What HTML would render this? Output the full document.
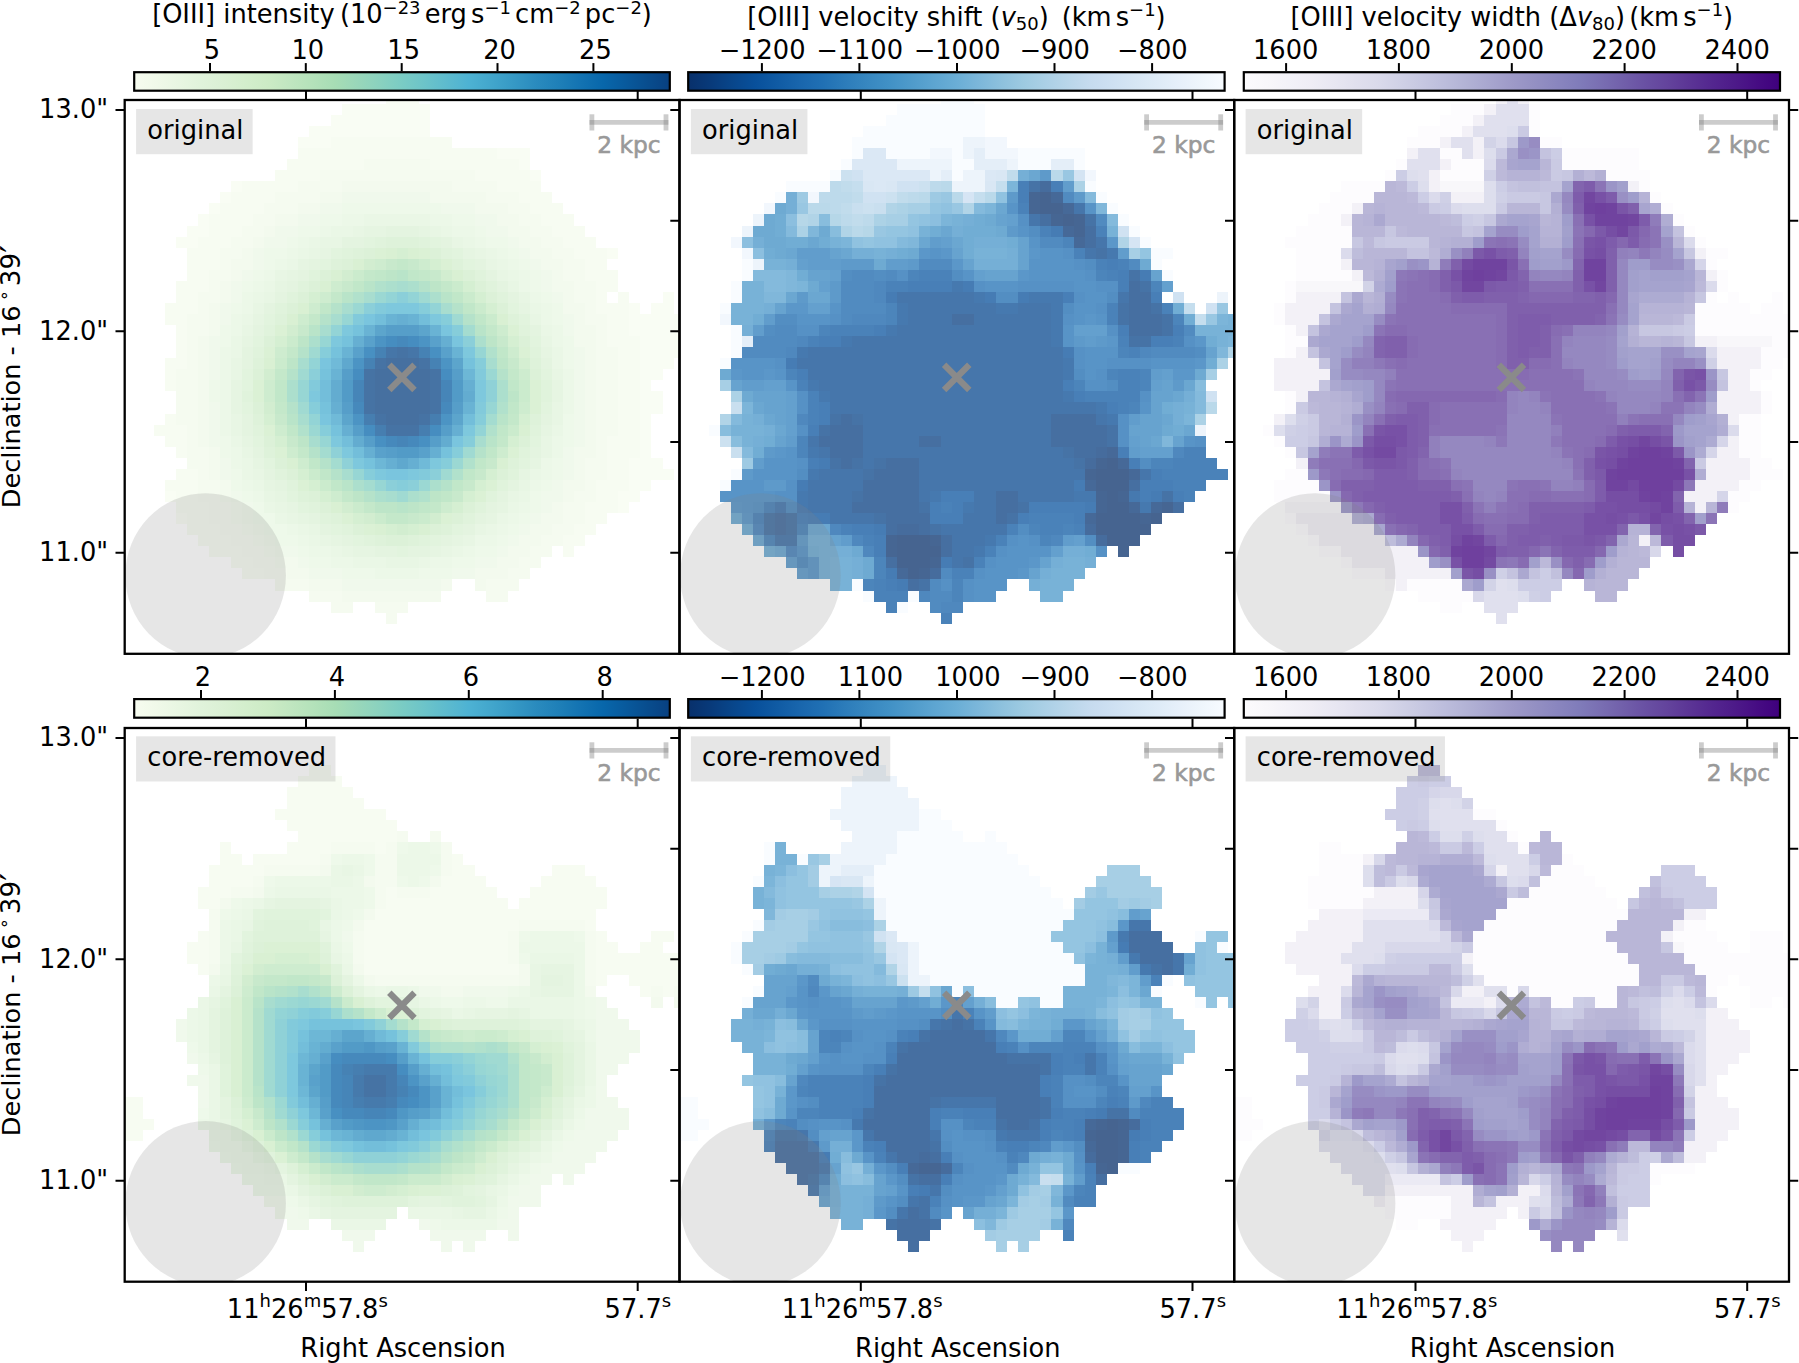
<!DOCTYPE html><html><head><meta charset="utf-8"><title>OIII maps</title><style>html,body{margin:0;padding:0;background:#fff}svg{display:block}</style></head><body><svg width="1799" height="1363" viewBox="0 0 1799 1363" font-family="'DejaVu Sans','Liberation Sans',sans-serif" font-size="26">
<rect width="1799" height="1363" fill="#fff"/>
<g shape-rendering="crispEdges">
<path fill="#f9fdf4" d="M386 100H419V104H386zM342 104H430V115H342zM331 115H430V126H331zM309 126H430V137H309zM298 137H331V148H298zM497 148H530V159H497zM519 159H530V170H519zM530 170H541V181H530zM231 181H242V192H231zM220 192H231V203H220zM209 203H220V214H209zM198 214H209V226H198zM187 226H209V237H187zM176 237H198V248H176zM607 248H618V259H607zM663 292H674V303H663zM629 303H640V314H629zM651 303H674V314H651zM629 314H680V325H629zM629 325H680V336H629zM640 336H680V347H640zM640 347H680V358H640zM640 358H674V369H640zM640 369H663V380H640zM640 380H651V391H640zM640 391H663V402H640zM640 402H663V414H640zM640 414H651V425H640zM640 425H651V436H640zM640 436H651V447H640zM640 447H651V458H640zM629 458H663V469H629zM629 469H674V480H629zM629 480H651V491H629zM165 491H176V502H165zM618 491H640V502H618zM618 502H629V513H618zM176 513H187V524H176z"/>
<path fill="#f7fcf2" d="M331 137H452V148H331zM298 148H497V159H298zM287 159H364V170H287zM430 159H519V170H430zM275 170H320V181H275zM475 170H530V181H475zM242 181H298V192H242zM497 181H541V192H497zM231 192H275V203H231zM519 192H552V203H519zM220 203H264V214H220zM530 203H563V214H530zM209 214H253V226H209zM541 214H574V226H541zM209 226H242V237H209zM552 226H585V237H552zM198 237H231V248H198zM563 237H596V248H563zM187 248H220V259H187zM574 248H607V259H574zM187 259H220V270H187zM585 259H607V270H585zM187 270H209V281H187zM585 270H618V281H585zM176 281H209V292H176zM596 281H618V292H596zM176 292H198V303H176zM596 292H607V303H596zM618 292H629V303H618zM165 303H198V314H165zM596 303H629V314H596zM165 314H187V325H165zM607 314H629V325H607zM176 325H187V336H176zM607 325H629V336H607zM176 336H187V347H176zM607 336H640V347H607zM176 347H187V358H176zM618 347H640V358H618zM165 358H187V369H165zM618 358H640V369H618zM165 369H176V380H165zM618 369H640V380H618zM165 380H176V391H165zM618 380H640V391H618zM618 391H640V402H618zM618 402H640V414H618zM165 414H176V425H165zM618 414H640V425H618zM154 425H187V436H154zM618 425H640V436H618zM165 436H187V447H165zM607 436H640V447H607zM176 447H187V458H176zM607 447H640V458H607zM607 458H629V469H607zM176 469H198V480H176zM607 469H629V480H607zM165 480H198V491H165zM596 480H629V491H596zM176 491H198V502H176zM596 491H618V502H596zM176 502H209V513H176zM585 502H618V513H585zM187 513H209V524H187zM585 513H607V524H585zM187 524H220V535H187zM574 524H596V535H574zM198 535H231V546H198zM563 535H585V546H563zM209 546H242V557H209zM563 546H574V557H563zM231 557H253V568H231zM242 568H264V579H242z"/>
<path fill="#f5fbf0" d="M364 159H430V170H364zM320 170H475V181H320zM298 181H342V192H298zM452 181H497V192H452zM275 192H320V203H275zM486 192H519V203H486zM264 203H298V214H264zM508 203H530V214H508zM253 214H275V226H253zM519 214H541V226H519zM242 226H264V237H242zM530 226H552V237H530zM231 237H253V248H231zM541 237H563V248H541zM220 248H242V259H220zM552 248H574V259H552zM220 259H231V270H220zM563 259H585V270H563zM209 270H231V281H209zM563 270H585V281H563zM209 281H220V292H209zM574 281H596V292H574zM198 292H220V303H198zM574 292H596V303H574zM198 303H209V314H198zM585 303H596V314H585zM187 314H209V325H187zM585 314H607V325H585zM187 325H209V336H187zM596 325H607V336H596zM187 336H198V347H187zM596 336H607V347H596zM187 347H198V358H187zM596 347H618V358H596zM187 358H198V369H187zM596 358H618V369H596zM176 369H198V380H176zM596 369H618V380H596zM176 380H198V391H176zM596 380H618V391H596zM176 391H198V402H176zM596 391H618V402H596zM176 402H198V414H176zM596 402H618V414H596zM176 414H198V425H176zM596 414H618V425H596zM187 425H198V436H187zM596 425H618V436H596zM187 436H198V447H187zM596 436H607V447H596zM187 447H209V458H187zM596 447H607V458H596zM187 458H209V469H187zM585 458H607V469H585zM198 469H209V480H198zM585 469H607V480H585zM198 480H220V491H198zM585 480H596V491H585zM198 491H220V502H198zM574 491H596V502H574zM209 502H231V513H209zM563 502H585V513H563zM209 513H231V524H209zM563 513H585V524H563zM220 524H242V535H220zM552 524H574V535H552zM231 535H253V546H231zM541 535H563V546H541zM242 546H264V557H242zM530 546H552V557H530zM253 557H275V568H253zM519 557H541V568H519zM264 568H287V579H264zM508 568H530V579H508zM275 579H309V591H275zM486 579H519V591H486zM309 591H342V602H309zM486 591H508V602H486zM331 602H353V613H331zM375 602H408V613H375zM386 613H397V624H386z"/>
<path fill="#f3faee" d="M342 181H452V192H342zM320 192H342V203H320zM430 192H486V203H430zM298 203H320V214H298zM475 203H508V214H475zM275 214H298V226H275zM497 214H519V226H497zM264 226H275V237H264zM508 226H530V237H508zM253 237H264V248H253zM519 237H541V248H519zM242 248H253V259H242zM530 248H552V259H530zM231 259H253V270H231zM541 259H563V270H541zM231 270H242V281H231zM552 270H563V281H552zM220 281H231V292H220zM552 281H574V292H552zM220 292H231V303H220zM563 292H574V303H563zM209 303H220V314H209zM563 303H585V314H563zM209 314H220V325H209zM574 314H585V325H574zM209 325H220V336H209zM574 325H596V336H574zM198 336H209V347H198zM574 336H596V347H574zM198 347H209V358H198zM585 347H596V358H585zM198 358H209V369H198zM585 358H596V369H585zM198 369H209V380H198zM585 369H596V380H585zM198 380H209V391H198zM585 380H596V391H585zM198 391H209V402H198zM585 391H596V402H585zM198 402H209V414H198zM585 402H596V414H585zM198 414H209V425H198zM585 414H596V425H585zM198 425H209V436H198zM585 425H596V436H585zM198 436H209V447H198zM585 436H596V447H585zM209 447H220V458H209zM574 447H596V458H574zM209 458H220V469H209zM574 458H585V469H574zM209 469H220V480H209zM574 469H585V480H574zM220 480H231V491H220zM563 480H585V491H563zM220 491H231V502H220zM563 491H574V502H563zM231 502H242V513H231zM552 502H563V513H552zM231 513H242V524H231zM541 513H563V524H541zM242 524H253V535H242zM530 524H552V535H530zM253 535H264V546H253zM519 535H541V546H519zM264 546H275V557H264zM508 546H530V557H508zM275 557H298V568H275zM497 557H519V568H497zM287 568H309V579H287zM475 568H508V579H475zM309 579H342V591H309zM441 579H452V591H441zM475 579H486V591H475zM342 591H441V602H342z"/>
<path fill="#f0f9ec" d="M342 192H430V203H342zM320 203H342V214H320zM441 203H475V214H441zM298 214H320V226H298zM475 214H497V226H475zM275 226H298V237H275zM486 226H508V237H486zM264 237H287V248H264zM508 237H519V248H508zM253 248H264V259H253zM519 248H530V259H519zM253 259H264V270H253zM530 259H541V270H530zM242 270H253V281H242zM541 270H552V281H541zM231 281H242V292H231zM541 281H552V292H541zM231 292H242V303H231zM552 292H563V303H552zM220 303H231V314H220zM220 314H231V325H220zM563 314H574V325H563zM563 325H574V336H563zM209 336H220V347H209zM209 347H220V358H209zM574 347H585V358H574zM209 358H220V369H209zM574 358H585V369H574zM209 369H220V380H209zM574 369H585V380H574zM574 380H585V391H574zM574 391H585V402H574zM209 402H220V414H209zM574 402H585V414H574zM209 414H220V425H209zM574 414H585V425H574zM209 425H220V436H209zM574 425H585V436H574zM209 436H220V447H209zM574 436H585V447H574zM563 447H574V458H563zM220 458H231V469H220zM563 458H574V469H563zM220 469H231V480H220zM563 469H574V480H563zM552 480H563V491H552zM231 491H242V502H231zM541 491H563V502H541zM242 502H253V513H242zM541 502H552V513H541zM242 513H253V524H242zM530 513H541V524H530zM253 524H264V535H253zM519 524H530V535H519zM264 535H275V546H264zM508 535H519V546H508zM275 546H298V557H275zM497 546H508V557H497zM298 557H309V568H298zM475 557H497V568H475zM309 568H342V579H309zM452 568H475V579H452zM342 579H441V591H342z"/>
<path fill="#eef9ea" d="M342 203H441V214H342zM320 214H342V226H320zM452 214H475V226H452zM298 226H320V237H298zM475 226H486V237H475zM287 237H298V248H287zM486 237H508V248H486zM264 248H287V259H264zM508 248H519V259H508zM264 259H275V270H264zM519 259H530V270H519zM253 270H264V281H253zM530 270H541V281H530zM242 281H253V292H242zM530 281H541V292H530zM541 292H552V303H541zM231 303H242V314H231zM552 303H563V314H552zM552 314H563V325H552zM220 325H231V336H220zM220 336H231V347H220zM563 336H574V347H563zM563 347H574V358H563zM563 358H574V369H563zM209 380H220V391H209zM209 391H220V402H209zM563 414H574V425H563zM563 425H574V436H563zM220 436H231V447H220zM563 436H574V447H563zM220 447H231V458H220zM552 458H563V469H552zM231 469H242V480H231zM552 469H563V480H552zM231 480H242V491H231zM541 480H552V491H541zM242 491H253V502H242zM530 491H541V502H530zM253 502H264V513H253zM530 502H541V513H530zM253 513H275V524H253zM519 513H530V524H519zM264 524H287V535H264zM508 524H519V535H508zM275 535H298V546H275zM497 535H508V546H497zM298 546H309V557H298zM475 546H497V557H475zM309 557H331V568H309zM452 557H475V568H452zM342 568H375V579H342zM419 568H452V579H419z"/>
<path fill="#ecf8e8" d="M342 214H364V226H342zM430 214H452V226H430zM320 226H331V237H320zM452 226H475V237H452zM298 237H309V248H298zM475 237H486V248H475zM287 248H298V259H287zM497 248H508V259H497zM275 259H287V270H275zM508 259H519V270H508zM264 270H275V281H264zM519 270H530V281H519zM253 281H264V292H253zM519 281H530V292H519zM242 292H253V303H242zM530 292H541V303H530zM242 303H253V314H242zM541 303H552V314H541zM231 314H242V325H231zM541 314H552V325H541zM231 325H242V336H231zM552 325H563V336H552zM552 336H563V347H552zM220 347H231V358H220zM220 358H231V369H220zM220 369H231V380H220zM563 369H574V380H563zM220 380H231V391H220zM563 380H574V391H563zM220 391H231V402H220zM563 391H574V402H563zM220 402H231V414H220zM563 402H574V414H563zM220 414H231V425H220zM220 425H231V436H220zM552 436H563V447H552zM231 447H242V458H231zM552 447H563V458H552zM231 458H242V469H231zM541 458H552V469H541zM541 469H552V480H541zM242 480H253V491H242zM530 480H541V491H530zM253 491H264V502H253zM519 502H530V513H519zM508 513H519V524H508zM287 524H298V535H287zM497 524H508V535H497zM298 535H309V546H298zM475 535H497V546H475zM309 546H331V557H309zM463 546H475V557H463zM331 557H353V568H331zM430 557H452V568H430zM375 568H419V579H375z"/>
<path fill="#eaf7e6" d="M364 214H430V226H364zM331 226H353V237H331zM441 226H452V237H441zM309 237H320V248H309zM463 237H475V248H463zM298 248H309V259H298zM486 248H497V259H486zM287 259H298V270H287zM497 259H508V270H497zM508 270H519V281H508zM264 281H275V292H264zM253 292H264V303H253zM530 303H541V314H530zM242 314H253V325H242zM541 325H552V336H541zM231 336H242V347H231zM231 347H242V358H231zM552 347H563V358H552zM552 358H563V369H552zM552 425H563V436H552zM231 436H242V447H231zM242 458H253V469H242zM242 469H253V480H242zM530 469H541V480H530zM253 480H264V491H253zM519 491H530V502H519zM264 502H275V513H264zM508 502H519V513H508zM275 513H287V524H275zM497 513H508V524H497zM298 524H309V535H298zM486 524H497V535H486zM309 535H320V546H309zM331 546H342V557H331zM452 546H463V557H452zM353 557H386V568H353zM419 557H430V568H419z"/>
<path fill="#e8f6e4" d="M353 226H364V237H353zM430 226H441V237H430zM320 237H342V248H320zM452 237H463V248H452zM309 248H320V259H309zM475 248H486V259H475zM486 259H497V270H486zM275 270H287V281H275zM497 270H508V281H497zM508 281H519V292H508zM264 292H275V303H264zM519 292H530V303H519zM253 303H264V314H253zM530 314H541V325H530zM242 325H253V336H242zM541 336H552V347H541zM231 358H242V369H231zM231 369H242V380H231zM552 369H563V380H552zM552 402H563V414H552zM231 414H242V425H231zM552 414H563V425H552zM231 425H242V436H231zM541 436H552V447H541zM242 447H253V458H242zM541 447H552V458H541zM253 469H264V480H253zM519 480H530V491H519zM264 491H275V502H264zM508 491H519V502H508zM275 502H287V513H275zM287 513H298V524H287zM309 524H320V535H309zM475 524H486V535H475zM320 535H331V546H320zM463 535H475V546H463zM342 546H353V557H342zM441 546H452V557H441zM386 557H419V568H386z"/>
<path fill="#e6f5e2" d="M364 226H386V237H364zM419 226H430V237H419zM320 248H331V259H320zM463 248H475V259H463zM298 259H309V270H298zM287 270H298V281H287zM275 281H287V292H275zM519 303H530V314H519zM253 314H264V325H253zM242 336H253V347H242zM541 347H552V358H541zM231 380H242V391H231zM552 380H563V391H552zM231 391H242V402H231zM552 391H563V402H552zM231 402H242V414H231zM541 425H552V436H541zM242 436H253V447H242zM253 458H264V469H253zM530 458H541V469H530zM519 469H530V480H519zM264 480H275V491H264zM275 491H287V502H275zM287 502H298V513H287zM497 502H508V513H497zM298 513H309V524H298zM486 513H497V524H486zM331 535H342V546H331zM452 535H463V546H452zM353 546H375V557H353zM430 546H441V557H430z"/>
<path fill="#e4f4e0" d="M386 226H419V237H386zM342 237H364V248H342zM441 237H452V248H441zM309 259H320V270H309zM475 259H486V270H475zM298 270H309V281H298zM486 270H497V281H486zM287 281H298V292H287zM497 281H508V292H497zM275 292H287V303H275zM508 292H519V303H508zM264 303H275V314H264zM253 325H264V336H253zM530 325H541V336H530zM242 347H253V358H242zM242 358H253V369H242zM541 358H552V369H541zM242 414H253V425H242zM541 414H552V425H541zM242 425H253V436H242zM253 447H264V458H253zM530 447H541V458H530zM264 469H275V480H264zM275 480H287V491H275zM508 480H519V491H508zM497 491H508V502H497zM486 502H497V513H486zM309 513H320V524H309zM475 513H486V524H475zM320 524H331V535H320zM463 524H475V535H463zM342 535H353V546H342zM441 535H452V546H441zM375 546H397V557H375zM408 546H430V557H408z"/>
<path fill="#e2f4de" d="M364 237H375V248H364zM430 237H441V248H430zM331 248H342V259H331zM452 248H463V259H452zM320 259H331V270H320zM463 259H475V270H463zM508 303H519V314H508zM264 314H275V325H264zM519 314H530V325H519zM253 336H264V347H253zM530 336H541V347H530zM242 369H253V380H242zM541 369H552V380H541zM242 380H253V391H242zM242 402H253V414H242zM541 402H552V414H541zM253 436H264V447H253zM530 436H541V447H530zM264 458H275V469H264zM519 458H530V469H519zM287 491H298V502H287zM298 502H309V513H298zM331 524H342V535H331zM452 524H463V535H452zM353 535H364V546H353zM430 535H441V546H430zM397 546H408V557H397z"/>
<path fill="#e0f3dc" d="M375 237H386V248H375zM419 237H430V248H419zM342 248H353V259H342zM441 248H452V259H441zM309 270H320V281H309zM475 270H486V281H475zM298 281H309V292H298zM486 281H497V292H486zM287 292H298V303H287zM497 292H508V303H497zM275 303H287V314H275zM264 325H275V336H264zM519 325H530V336H519zM253 347H264V358H253zM530 347H541V358H530zM541 380H552V391H541zM242 391H253V402H242zM541 391H552V402H541zM253 425H264V436H253zM530 425H541V436H530zM519 447H530V458H519zM275 469H287V480H275zM508 469H519V480H508zM287 480H298V491H287zM497 480H508V491H497zM486 491H497V502H486zM309 502H320V513H309zM475 502H486V513H475zM320 513H331V524H320zM463 513H475V524H463zM342 524H353V535H342zM364 535H375V546H364zM419 535H430V546H419z"/>
<path fill="#def2da" d="M386 237H419V248H386zM353 248H364V259H353zM331 259H342V270H331zM452 259H463V270H452zM275 314H287V325H275zM508 314H519V325H508zM253 358H264V369H253zM530 358H541V369H530zM253 414H264V425H253zM530 414H541V425H530zM264 447H275V458H264zM508 458H519V469H508zM298 491H309V502H298zM331 513H342V524H331zM441 524H452V535H441zM375 535H386V546H375zM408 535H419V546H408z"/>
<path fill="#dcf1d8" d="M364 248H375V259H364zM430 248H441V259H430zM342 259H353V270H342zM320 270H331V281H320zM463 270H475V281H463zM309 281H320V292H309zM475 281H486V292H475zM298 292H309V303H298zM486 292H497V303H486zM287 303H298V314H287zM497 303H508V314H497zM264 336H275V347H264zM519 336H530V347H519zM253 369H264V380H253zM530 369H541V380H530zM253 402H264V414H253zM264 436H275V447H264zM519 436H530V447H519zM275 458H287V469H275zM287 469H298V480H287zM497 469H508V480H497zM309 491H320V502H309zM320 502H331V513H320zM463 502H475V513H463zM452 513H463V524H452zM353 524H364V535H353zM430 524H441V535H430zM386 535H408V546H386z"/>
<path fill="#dbf1d5" d="M375 248H386V259H375zM419 248H430V259H419zM441 259H452V270H441zM275 325H287V336H275zM508 325H519V336H508zM264 347H275V358H264zM519 347H530V358H519zM253 380H264V391H253zM530 380H541V391H530zM253 391H264V402H253zM530 391H541V402H530zM530 402H541V414H530zM264 425H275V436H264zM275 447H287V458H275zM508 447H519V458H508zM298 480H309V491H298zM486 480H497V491H486zM475 491H486V502H475zM342 513H353V524H342zM441 513H452V524H441zM364 524H375V535H364z"/>
<path fill="#d9f0d3" d="M386 248H397V259H386zM408 248H419V259H408zM353 259H364V270H353zM331 270H342V281H331zM452 270H463V281H452zM320 281H331V292H320zM298 303H309V314H298zM287 314H298V325H287zM497 314H508V325H497zM264 358H275V369H264zM519 425H530V436H519zM287 458H298V469H287zM497 458H508V469H497zM331 502H342V513H331zM375 524H386V535H375zM419 524H430V535H419z"/>
<path fill="#d5efd2" d="M397 248H408V259H397zM430 259H441V270H430zM463 281H475V292H463zM309 292H320V303H309zM475 292H486V303H475zM486 303H497V314H486zM275 336H287V347H275zM508 336H519V347H508zM519 358H530V369H519zM264 414H275V425H264zM519 414H530V425H519zM275 436H287V447H275zM508 436H519V447H508zM298 469H309V480H298zM486 469H497V480H486zM309 480H320V491H309zM475 480H486V491H475zM320 491H331V502H320zM463 491H475V502H463zM452 502H463V513H452zM353 513H364V524H353zM386 524H397V535H386zM408 524H419V535H408z"/>
<path fill="#d2edd0" d="M364 259H375V270H364zM342 270H353V281H342zM441 270H452V281H441zM287 325H298V336H287zM264 369H275V380H264zM264 402H275V414H264zM342 502H353V513H342zM364 513H375V524H364zM430 513H441V524H430zM397 524H408V535H397z"/>
<path fill="#ceeccf" d="M375 259H386V270H375zM419 259H430V270H419zM331 281H342V292H331zM320 292H331V303H320zM309 303H320V314H309zM298 314H309V325H298zM497 325H508V336H497zM275 347H287V358H275zM508 347H519V358H508zM519 369H530V380H519zM264 380H275V391H264zM264 391H275V402H264zM519 402H530V414H519zM275 425H287V436H275zM287 447H298V458H287zM497 447H508V458H497zM298 458H309V469H298zM331 491H342V502H331zM441 502H452V513H441z"/>
<path fill="#c8e9cc" d="M386 259H397V270H386zM408 259H419V270H408zM430 270H441V281H430zM342 281H353V292H342zM298 325H309V336H298zM497 336H508V347H497zM508 358H519V369H508zM275 414H287V425H275zM287 436H298V447H287zM486 458H497V469H486zM475 469H486V480H475zM463 480H475V491H463zM452 491H463V502H452zM408 513H419V524H408z"/>
<path fill="#c4e8ca" d="M397 259H408V270H397zM364 270H375V281H364zM419 270H430V281H419zM441 281H452V292H441zM331 292H342V303H331zM309 314H320V325H309zM486 325H497V336H486zM287 347H298V358H287zM275 369H287V380H275zM508 369H519V380H508zM275 402H287V414H275zM508 414H519V425H508zM497 436H508V447H497zM298 447H309V458H298zM342 491H353V502H342zM364 502H375V513H364zM430 502H441V513H430zM386 513H408V524H386z"/>
<path fill="#cbebcd" d="M353 270H364V281H353zM452 281H463V292H452zM463 292H475V303H463zM475 303H486V314H475zM486 314H497V325H486zM287 336H298V347H287zM275 358H287V369H275zM519 380H530V391H519zM519 391H530V402H519zM508 425H519V436H508zM309 469H320V480H309zM320 480H331V491H320zM353 502H364V513H353zM375 513H386V524H375zM419 513H430V524H419z"/>
<path fill="#c1e7c9" d="M375 270H386V281H375zM408 270H419V281H408zM353 281H364V292H353zM452 292H463V303H452zM320 303H331V314H320zM463 303H475V314H463zM475 314H486V325H475zM497 347H508V358H497zM275 380H287V391H275zM508 380H519V391H508zM275 391H287V402H275zM508 402H519V414H508zM287 425H298V436H287zM497 425H508V436H497zM486 447H497V458H486zM309 458H320V469H309zM475 458H486V469H475zM320 469H331V480H320zM463 469H475V480H463zM331 480H342V491H331zM452 480H463V491H452zM441 491H452V502H441zM419 502H430V513H419z"/>
<path fill="#bde5c8" d="M386 270H397V281H386zM430 281H441V292H430zM298 336H309V347H298zM486 336H497V347H486zM287 358H298V369H287zM497 358H508V369H497zM508 391H519V402H508zM298 436H309V447H298zM353 491H364V502H353zM430 491H441V502H430zM375 502H397V513H375zM408 502H419V513H408z"/>
<path fill="#b9e4c9" d="M397 270H408V281H397zM364 281H375V292H364zM342 292H353V303H342zM441 292H452V303H441zM309 325H320V336H309zM475 325H486V336H475zM287 414H298V425H287zM497 414H508V425H497zM486 436H497V447H486zM342 480H353V491H342zM397 502H408V513H397z"/>
<path fill="#b1e1cc" d="M375 281H386V292H375zM353 292H364V303H353zM486 347H497V358H486zM497 402H508V414H497zM298 425H309V436H298zM486 425H497V436H486zM463 458H475V469H463zM452 469H463V480H452zM419 491H430V502H419z"/>
<path fill="#acdfcd" d="M386 281H397V292H386zM408 281H419V292H408zM430 292H441V303H430zM309 336H320V347H309zM475 336H486V347H475zM287 380H298V391H287zM497 380H508V391H497zM287 391H298V402H287zM497 391H508V402H497zM353 480H364V491H353zM430 480H441V491H430zM375 491H386V502H375zM408 491H419V502H408z"/>
<path fill="#a8ddcf" d="M397 281H408V292H397zM364 292H375V303H364zM342 303H353V314H342zM441 303H452V314H441zM331 314H342V325H331zM320 325H331V336H320zM298 358H309V369H298zM486 358H497V369H486zM298 414H309V425H298zM309 436H320V447H309zM475 436H486V447H475zM342 469H353V480H342zM386 491H397V502H386z"/>
<path fill="#b5e2ca" d="M419 281H430V292H419zM331 303H342V314H331zM452 303H463V314H452zM320 314H331V325H320zM463 314H475V325H463zM298 347H309V358H298zM287 369H298V380H287zM497 369H508V380H497zM287 402H298V414H287zM309 447H320V458H309zM475 447H486V458H475zM320 458H331V469H320zM331 469H342V480H331zM441 480H452V491H441zM364 491H375V502H364z"/>
<path fill="#9bd8d3" d="M375 292H386V303H375zM353 303H364V314H353zM486 369H497V380H486zM309 425H320V436H309zM452 458H463V469H452zM419 480H430V491H419z"/>
<path fill="#93d4d6" d="M386 292H397V303H386zM408 292H419V303H408zM430 303H441V314H430zM331 325H342V336H331zM309 358H320V369H309zM309 414H320V425H309zM475 425H486V436H475z"/>
<path fill="#8bcfd9" d="M397 292H408V303H397zM364 303H375V314H364zM463 336H475V347H463zM309 369H320V380H309zM430 469H441V480H430zM386 480H397V491H386zM408 480H419V491H408z"/>
<path fill="#a0dad2" d="M419 292H430V303H419zM452 314H463V325H452zM309 347H320V358H309zM298 369H309V380H298zM298 402H309V414H298zM463 447H475V458H463zM441 469H452V480H441zM397 491H408V502H397z"/>
<path fill="#82cadb" d="M375 303H386V314H375zM353 314H364V325H353zM475 369H486V380H475zM309 380H320V391H309zM475 402H486V414H475zM419 469H430V480H419z"/>
<path fill="#7ec8dd" d="M386 303H419V314H386zM430 314H441V325H430zM342 325H353V336H342zM331 336H342V347H331zM463 347H475V358H463zM475 380H486V391H475zM309 391H320V402H309zM475 391H486V402H475zM463 425H475V436H463zM331 436H342V447H331zM342 447H353V458H342zM353 458H364V469H353zM430 458H441V469H430zM375 469H386V480H375zM408 469H419V480H408z"/>
<path fill="#86cdda" d="M419 303H430V314H419zM441 314H452V325H441zM452 325H463V336H452zM320 347H331V358H320zM475 358H486V369H475zM309 402H320V414H309zM475 414H486V425H475zM320 425H331V436H320zM463 436H475V447H463zM452 447H463V458H452zM441 458H452V469H441zM364 469H375V480H364zM397 480H408V491H397z"/>
<path fill="#97d6d4" d="M342 314H353V325H342zM320 336H331V347H320zM475 347H486V358H475zM298 380H309V391H298zM298 391H309V402H298zM486 402H497V414H486zM320 436H331V447H320zM353 469H364V480H353zM375 480H386V491H375z"/>
<path fill="#7ac5de" d="M364 314H375V325H364zM441 325H452V336H441zM452 336H463V347H452zM320 358H331V369H320zM320 414H331V425H320zM452 436H463V447H452zM386 469H408V480H386z"/>
<path fill="#73beda" d="M375 314H386V325H375zM419 314H430V325H419zM320 380H331V391H320zM320 391H331V402H320zM463 414H475V425H463zM342 436H353V447H342zM353 447H364V458H353z"/>
<path fill="#69b3d4" d="M386 314H397V325H386zM408 314H419V325H408zM364 325H375V336H364zM430 325H441V336H430zM342 347H353V358H342zM452 347H463V358H452zM331 369H342V380H331zM463 402H475V414H463z"/>
<path fill="#66afd2" d="M397 314H408V325H397zM353 336H364V347H353zM441 336H452V347H441zM463 380H475V391H463zM331 402H342V414H331zM342 425H353V436H342zM452 425H463V436H452zM364 447H375V458H364zM430 447H441V458H430zM386 458H397V469H386zM408 458H419V469H408z"/>
<path fill="#76c2dc" d="M353 325H364V336H353zM342 336H353V347H342zM331 347H342V358H331zM463 358H475V369H463zM320 369H331V380H320zM320 402H331V414H320zM331 425H342V436H331zM441 447H452V458H441zM364 458H375V469H364z"/>
<path fill="#5ca5cc" d="M375 325H386V336H375zM419 325H430V336H419zM452 358H463V369H452zM342 414H353V425H342zM452 414H463V425H452z"/>
<path fill="#569ec9" d="M386 325H419V336H386zM342 369H353V380H342zM452 369H463V380H452zM342 402H353V414H342zM452 402H463V414H452zM353 425H364V436H353zM441 425H452V436H441zM364 436H375V447H364zM430 436H441V447H430zM386 447H397V458H386z"/>
<path fill="#a4dcd0" d="M463 325H475V336H463zM486 414H497V425H486zM320 447H331V458H320zM331 458H342V469H331zM364 480H375V491H364z"/>
<path fill="#59a1cb" d="M364 336H375V347H364zM430 336H441V347H430zM353 347H364V358H353zM441 347H452V358H441zM375 447H386V458H375zM419 447H430V458H419z"/>
<path fill="#4c94c4" d="M375 336H386V347H375zM419 336H430V347H419zM353 358H364V369H353zM441 358H452V369H441zM353 414H364V425H353zM441 414H452V425H441z"/>
<path fill="#468dc0" d="M386 336H397V347H386zM408 336H419V347H408zM353 369H364V380H353zM441 369H452V380H441zM364 425H375V436H364zM430 425H441V436H430z"/>
<path fill="#4689bc" d="M397 336H408V347H397zM353 402H364V414H353zM441 402H452V414H441zM386 436H397V447H386zM408 436H419V447H408z"/>
<path fill="#4890c2" d="M364 347H375V358H364zM430 347H441V358H430zM375 436H386V447H375zM419 436H430V447H419z"/>
<path fill="#4682b4" d="M375 347H386V358H375zM419 347H430V358H419zM364 358H375V369H364zM430 358H441V369H430z"/>
<path fill="#4676a8" d="M386 347H397V358H386zM408 347H419V358H408z"/>
<path fill="#4673a4" d="M397 347H408V358H397zM375 358H386V369H375zM419 358H430V369H419zM364 369H375V380H364zM430 369H441V380H430zM364 380H375V391H364zM430 380H441V391H430zM364 391H375V402H364zM430 391H441V402H430zM364 402H375V414H364zM430 402H441V414H430zM375 414H386V425H375zM419 414H430V425H419zM386 425H419V436H386z"/>
<path fill="#70bad8" d="M331 358H342V369H331zM331 414H342V425H331zM419 458H430V469H419z"/>
<path fill="#5fa8ce" d="M342 358H353V369H342zM397 458H408V469H397z"/>
<path fill="#4670a0" d="M386 358H419V369H386zM375 369H430V380H375zM375 380H430V391H375zM375 391H430V402H375zM375 402H430V414H375zM386 414H419V425H386z"/>
<path fill="#6db7d6" d="M463 369H475V380H463zM375 458H386V469H375z"/>
<path fill="#63acd0" d="M331 380H342V391H331zM331 391H342V402H331zM463 391H475V402H463zM353 436H364V447H353zM441 436H452V447H441z"/>
<path fill="#529bc7" d="M342 380H353V391H342zM452 380H463V391H452zM342 391H353V402H342zM452 391H463V402H452zM397 447H419V458H397z"/>
<path fill="#4685b8" d="M353 380H364V391H353zM441 380H452V391H441zM353 391H364V402H353zM441 391H452V402H441zM397 436H408V447H397z"/>
<path fill="#8fd1d7" d="M486 380H497V391H486zM486 391H497V402H486zM331 447H342V458H331zM342 458H353V469H342z"/>
<path fill="#467eb0" d="M364 414H375V425H364zM430 414H441V425H430zM375 425H386V436H375zM419 425H430V436H419z"/>
</g>
<g shape-rendering="crispEdges">
<path fill="#f9fcff" d="M941 100H974V104H941zM897 104H985V115H897zM886 115H985V126H886zM863 126H985V137H863zM852 137H963V148H852zM852 148H863V159H852zM886 148H930V159H886zM952 148H963V159H952zM1018 148H1085V159H1018zM841 159H852V170H841zM952 159H974V170H952zM1018 159H1051V170H1018zM1074 159H1085V170H1074zM830 170H841V181H830zM952 170H963V181H952zM786 181H830V192H786zM1085 181H1096V192H1085zM775 192H786V203H775zM1096 192H1107V203H1096zM1107 203H1118V214H1107zM1118 214H1129V226H1118zM1129 226H1140V237H1129zM1140 237H1151V248H1140zM1151 248H1173V259H1151zM742 259H753V270H742zM1151 259H1162V270H1151zM742 270H753V281H742zM1162 270H1173V281H1162zM731 281H742V292H731zM731 292H742V303H731zM720 303H731V314H720zM731 325H742V336H731zM731 336H742V347H731zM731 347H742V358H731zM720 358H731V369H720zM709 425H720V436H709zM731 469H742V480H731zM720 480H731V491H720zM852 579H863V591H852zM863 591H874V602H863zM908 591H919V602H908zM897 602H908V613H897z"/>
<path fill="#edf4fb" d="M963 137H985V148H963zM963 148H974V159H963zM897 159H952V170H897zM1007 159H1018V170H1007zM930 170H941V181H930zM963 170H985V181H963zM952 181H985V192H952zM753 214H764V226H753zM742 226H753V237H742zM753 259H764V270H753zM1217 292H1228V303H1217zM1195 425H1206V436H1195z"/>
<path fill="#f2f7fd" d="M985 137H1007V148H985zM930 148H952V159H930zM985 148H1018V159H985zM1085 170H1096V181H1085zM808 192H819V203H808zM764 203H775V214H764zM731 237H742V248H731zM742 248H753V259H742zM720 314H731V325H720z"/>
<path fill="#dbe8f5" d="M863 148H886V159H863zM852 159H897V170H852zM863 170H930V181H863zM985 170H996V181H985zM874 181H886V192H874z"/>
<path fill="#e4eef8" d="M974 148H985V159H974zM974 159H1007V170H974zM1051 159H1074V170H1051zM941 170H952V181H941zM742 336H753V347H742z"/>
<path fill="#cce1f0" d="M841 170H852V181H841zM919 181H930V192H919zM886 192H897V203H886zM863 203H874V214H863zM720 436H731V447H720z"/>
<path fill="#d0e2f2" d="M852 170H863V181H852zM897 181H919V192H897zM863 192H886V203H863zM1118 226H1129V237H1118zM1173 292H1184V303H1173zM1206 303H1217V314H1206zM1206 391H1217V402H1206z"/>
<path fill="#d9e7f4" d="M996 170H1007V181H996zM863 181H874V192H863zM886 181H897V192H886zM985 181H996V192H985z"/>
<path fill="#c1dcec" d="M1007 170H1018V181H1007zM841 181H852V192H841zM852 192H863V203H852zM897 192H908V203H897zM841 203H852V214H841zM852 214H863V226H852z"/>
<path fill="#75afd6" d="M1018 170H1029V181H1018zM786 192H797V203H786zM786 203H797V214H786zM963 214H974V226H963zM952 226H963V237H952zM753 237H764V248H753zM974 237H1007V248H974zM852 248H874V259H852zM886 248H897V259H886zM1007 248H1018V259H1007zM786 259H797V270H786zM974 259H1018V270H974zM764 303H775V314H764zM742 325H753V336H742zM1184 391H1195V402H1184zM1173 402H1184V414H1173zM753 414H764V425H753zM1173 414H1184V425H1173zM764 425H775V436H764zM753 436H764V447H753zM808 535H830V546H808zM819 546H852V557H819zM1063 546H1085V557H1063zM819 557H830V568H819zM852 557H863V568H852zM1051 557H1063V568H1051zM1085 557H1096V568H1085zM819 568H830V579H819zM852 568H863V579H852zM1040 568H1051V579H1040zM1029 579H1040V591H1029z"/>
<path fill="#6ba7d1" d="M1029 170H1040V181H1029zM996 203H1007V214H996zM941 226H952V237H941zM808 237H819V248H808zM919 237H930V248H919zM952 237H963V248H952zM786 248H797V259H786zM841 248H852V259H841zM786 292H797V303H786zM808 292H830V303H808zM1184 380H1195V391H1184zM1173 391H1184V402H1173zM753 402H764V414H753zM764 414H775V425H764zM1162 414H1173V425H1162zM775 425H786V436H775zM1184 425H1195V436H1184zM1151 436H1162V447H1151zM808 524H830V535H808zM753 535H764V546H753zM775 546H786V557H775z"/>
<path fill="#5e9aca" d="M1040 170H1051V181H1040zM1007 192H1018V203H1007zM1074 192H1085V203H1074zM1007 226H1018V237H1007zM841 259H874V270H841zM908 259H919V270H908zM830 281H841V292H830zM797 292H808V303H797zM830 292H841V303H830zM1074 336H1085V347H1074zM1096 336H1107V347H1096zM1173 380H1184V391H1173zM764 447H775V458H764zM742 469H753V480H742zM764 480H786V491H764zM797 535H808V546H797z"/>
<path fill="#bad9ea" d="M1051 170H1063V181H1051zM941 181H952V192H941zM919 192H930V203H919zM952 192H963V203H952zM985 192H996V203H985zM808 203H830V214H808zM852 226H863V237H852zM1206 402H1217V414H1206z"/>
<path fill="#99c7e2" d="M1063 170H1074V181H1063zM941 192H952V203H941zM797 203H808V214H797zM952 203H963V214H952zM874 226H886V237H874zM1217 303H1228V314H1217zM1206 314H1217V325H1206z"/>
<path fill="#d4e4f3" d="M1074 170H1085V181H1074z"/>
<path fill="#bddaeb" d="M830 181H841V192H830zM930 181H941V192H930zM819 192H852V203H819zM908 192H919V203H908zM830 203H841V214H830zM841 214H852V226H841zM863 214H874V226H863z"/>
<path fill="#c5deee" d="M852 181H863V192H852zM996 181H1007V192H996zM974 192H985V203H974zM1184 303H1195V314H1184zM1195 314H1206V325H1195z"/>
<path fill="#7cb5d9" d="M1007 181H1018V192H1007zM985 203H996V214H985zM941 214H952V226H941zM841 237H852V248H841zM797 281H808V292H797zM1217 314H1228V325H1217zM1228 336H1234V347H1228zM742 402H753V414H742zM1184 414H1195V425H1184z"/>
<path fill="#487fb7" d="M1018 181H1029V192H1018zM1051 181H1063V192H1051zM1018 192H1029V203H1018zM1107 259H1118V270H1107zM1118 270H1129V281H1118zM908 281H952V292H908zM1118 281H1129V292H1118zM1063 292H1074V303H1063zM1151 292H1162V303H1151zM874 325H886V336H874zM1118 325H1129V336H1118zM1173 325H1184V336H1173zM819 336H841V347H819zM1151 336H1173V347H1151zM797 369H808V380H797zM1063 380H1074V391H1063zM1074 391H1085V402H1074zM819 402H830V414H819zM1107 402H1118V414H1107zM819 414H830V425H819zM808 425H819V436H808zM1118 447H1129V458H1118zM808 458H819V469H808zM1129 458H1140V469H1129zM1151 469H1162V480H1151zM1140 480H1173V491H1140zM941 491H974V502H941zM1140 491H1151V502H1140zM1173 491H1184V502H1173zM930 502H941V513H930zM952 502H963V513H952zM1029 502H1085V513H1029zM797 513H808V524H797zM930 513H963V524H930zM1018 513H1029V524H1018zM1074 513H1085V524H1074zM852 524H874V535H852zM874 535H886V546H874zM874 546H886V557H874zM886 579H897V591H886z"/>
<path fill="#4673a6" d="M1029 181H1040V192H1029zM1085 214H1096V226H1085zM1096 248H1107V259H1096zM1129 270H1140V281H1129zM1140 281H1151V292H1140zM1118 303H1129V314H1118zM1151 303H1162V314H1151zM1118 314H1129V325H1118zM1162 314H1173V325H1162zM1162 325H1173V336H1162zM1129 336H1151V347H1129zM830 414H841V425H830zM852 414H863V425H852zM819 425H830V436H819zM1107 425H1118V436H1107zM1107 436H1118V447H1107zM1063 447H1074V458H1063zM830 458H841V469H830zM852 458H863V469H852zM874 458H886V469H874zM1074 458H1085V469H1074zM863 469H874V480H863zM852 491H863V502H852zM1162 491H1173V502H1162zM919 502H930V513H919zM1018 502H1029V513H1018zM764 513H775V524H764zM786 513H797V524H786zM874 513H886V524H874zM1007 513H1018V524H1007zM764 524H775V535H764zM786 524H797V535H786zM930 524H941V535H930zM963 557H974V568H963zM919 579H930V591H919z"/>
<path fill="#466c9d" d="M1040 181H1051V192H1040zM1096 447H1107V458H1096zM1085 458H1096V469H1085zM897 524H919V535H897zM1085 524H1096V535H1085zM1096 535H1107V546H1096zM930 568H941V579H930z"/>
<path fill="#619dcc" d="M1063 181H1074V192H1063zM930 237H941V248H930zM797 248H830V259H797zM1118 248H1129V259H1118zM808 259H841V270H808zM886 259H908V270H886zM764 314H775V325H764zM753 325H764V336H753zM1085 336H1096V347H1085zM1151 369H1162V380H1151zM742 380H764V391H742zM1129 414H1140V425H1129zM786 436H797V447H786zM1129 447H1140V458H1129zM753 458H764V469H753zM841 535H852V546H841zM1063 535H1074V546H1063zM786 557H797V568H786zM797 568H808V579H797z"/>
<path fill="#acd2e6" d="M1074 181H1085V192H1074zM897 203H908V214H897zM874 214H886V226H874zM797 226H808V237H797zM1217 358H1228V369H1217zM731 391H742V402H731zM1195 414H1206V425H1195z"/>
<path fill="#9ecae3" d="M797 192H808V203H797zM930 192H941V203H930zM742 458H753V469H742z"/>
<path fill="#d6e5f4" d="M963 192H974V203H963zM1129 237H1140V248H1129z"/>
<path fill="#90c2e0" d="M996 192H1007V203H996zM941 203H952V214H941zM919 214H930V226H919zM908 226H919V237H908zM852 237H863V248H852zM874 237H897V248H874z"/>
<path fill="#466693" d="M1029 192H1040V203H1029zM1029 203H1040V214H1029zM1051 214H1063V226H1051zM1074 214H1085V226H1074zM1074 226H1085V237H1074zM1096 458H1107V469H1096zM1085 469H1096V480H1085zM1096 491H1107V502H1096zM1118 491H1129V502H1118zM1096 502H1107V513H1096zM1162 502H1173V513H1162zM1140 513H1151V524H1140zM886 535H897V546H886zM930 535H941V546H930zM886 546H897V557H886zM930 557H941V568H930zM919 568H930V579H919z"/>
<path fill="#466490" d="M1040 192H1051V203H1040zM1040 203H1063V214H1040zM1063 214H1074V226H1063zM1107 458H1118V469H1107zM1096 469H1129V480H1096zM1096 480H1129V491H1096zM1107 491H1118V502H1107zM1107 502H1129V513H1107zM1096 513H1140V524H1096zM1151 513H1162V524H1151zM1096 524H1151V535H1096zM897 535H930V546H897zM1107 535H1140V546H1107zM897 546H941V557H897zM1118 546H1129V557H1118zM897 557H930V568H897zM908 568H919V579H908z"/>
<path fill="#466998" d="M1051 192H1063V203H1051zM1063 203H1074V214H1063zM1063 226H1074V237H1063zM1074 237H1085V248H1074zM1107 447H1118V458H1107zM1118 458H1129V469H1118zM1129 469H1140V480H1129zM1085 480H1096V491H1085zM1129 502H1140V513H1129zM1151 502H1162V513H1151zM1085 513H1096V524H1085zM897 568H908V579H897z"/>
<path fill="#518bc0" d="M1063 192H1074V203H1063zM1096 214H1107V226H1096zM1040 237H1063V248H1040zM919 259H952V270H919zM1129 259H1140V270H1129zM852 270H874V281H852zM886 270H897V281H886zM841 281H874V292H841zM841 292H874V303H841zM841 303H886V314H841zM841 314H852V325H841zM775 325H797V336H775zM1184 325H1195V336H1184zM753 336H797V347H753zM742 347H786V358H742zM1151 347H1195V358H1151zM786 502H797V513H786zM797 557H808V568H797zM941 568H952V579H941zM930 579H941V591H930zM930 591H952V602H930zM930 602H941V613H930z"/>
<path fill="#84badc" d="M1085 192H1096V203H1085zM974 203H985V214H974zM1107 214H1118V226H1107zM786 226H797V237H786zM897 237H908V248H897zM753 270H786V281H753zM764 281H786V292H764zM1195 391H1206V402H1195zM1195 402H1206V414H1195zM731 414H742V425H731zM742 447H753V458H742z"/>
<path fill="#6eaad2" d="M775 203H786V214H775zM764 214H775V226H764zM985 214H996V226H985zM753 226H775V237H753zM819 226H830V237H819zM996 226H1007V237H996zM764 237H786V248H764zM775 248H786V259H775zM908 248H919V259H908zM874 259H886V270H874zM1140 259H1151V270H1140zM808 281H819V292H808zM720 369H731V380H720zM1195 369H1206V380H1195zM742 391H753V402H742zM1162 425H1173V436H1162zM731 513H742V524H731zM742 524H753V535H742zM852 546H863V557H852zM863 557H874V568H863zM863 568H874V579H863z"/>
<path fill="#c9dfef" d="M852 203H863V214H852zM874 203H886V214H874zM731 402H742V414H731zM731 447H742V458H731z"/>
<path fill="#b1d4e7" d="M886 203H897V214H886zM963 203H974V214H963zM808 214H819V226H808zM841 226H852V237H841zM1118 237H1129V248H1118zM1228 347H1234V358H1228zM720 414H731V425H720z"/>
<path fill="#a7cfe5" d="M908 203H930V214H908zM886 214H908V226H886zM1129 248H1140V259H1129zM1206 369H1217V380H1206zM720 380H731V391H720z"/>
<path fill="#94c5e1" d="M930 203H941V214H930zM908 214H919V226H908zM886 226H908V237H886zM863 237H874V248H863zM1140 248H1151V259H1140z"/>
<path fill="#5894c7" d="M1007 203H1018V214H1007zM1085 203H1096V214H1085zM1018 226H1029V237H1018zM1029 237H1040V248H1029zM930 248H941V259H930zM1040 248H1063V259H1040zM1029 259H1074V270H1029zM963 270H974V281H963zM1029 270H1085V281H1029zM985 281H1018V292H985zM1074 281H1096V292H1074zM1085 292H1107V303H1085zM830 303H841V314H830zM1074 303H1096V314H1074zM797 314H830V325H797zM1074 314H1085V325H1074zM1096 314H1107V325H1096zM1063 325H1074V336H1063zM1063 336H1074V347H1063zM1085 347H1118V358H1085zM731 358H775V369H731zM1085 358H1107V369H1085zM1151 358H1195V369H1151zM742 369H764V380H742zM775 369H786V380H775zM1085 369H1096V380H1085zM786 380H797V391H786zM1140 402H1151V414H1140zM1184 436H1195V447H1184zM786 447H797V458H786zM764 458H797V469H764zM753 469H797V480H753zM731 480H764V491H731zM720 491H775V502H720zM742 502H753V513H742zM1018 535H1029V546H1018zM797 546H808V557H797zM1007 546H1051V557H1007zM996 557H1029V568H996zM985 568H1018V579H985zM974 579H1007V591H974zM974 591H996V602H974z"/>
<path fill="#4a82b9" d="M1018 203H1029V214H1018zM1040 226H1051V237H1040zM1096 226H1107V237H1096zM1074 248H1085V259H1074zM1096 259H1107V270H1096zM1118 259H1129V270H1118zM919 270H952V281H919zM1107 270H1118V281H1107zM886 281H908V292H886zM1107 303H1118V314H1107zM1162 303H1173V314H1162zM1107 314H1118V325H1107zM830 325H874V336H830zM808 336H819V347H808zM1118 336H1129V347H1118zM1173 336H1184V347H1173zM1129 347H1140V358H1129zM1118 369H1140V380H1118zM797 380H808V391H797zM1118 380H1140V391H1118zM808 391H819V402H808zM1085 391H1140V402H1085zM808 402H819V414H808zM1118 402H1129V414H1118zM808 414H819V425H808zM1184 447H1206V458H1184zM1173 458H1217V469H1173zM1162 469H1228V480H1162zM1173 480H1206V491H1173zM1184 491H1195V502H1184zM764 502H775V513H764zM941 502H952V513H941zM753 513H764V524H753zM1029 513H1074V524H1029zM841 524H852V535H841zM1007 524H1018V535H1007zM1040 524H1063V535H1040zM1074 524H1085V535H1074zM863 535H874V546H863zM996 535H1007V546H996zM985 546H996V557H985zM974 557H985V568H974zM952 568H974V579H952zM874 579H886V591H874zM874 591H908V602H874zM886 602H897V613H886zM941 613H952V624H941z"/>
<path fill="#4676ab" d="M1074 203H1085V214H1074zM1029 214H1040V226H1029zM1096 237H1107V248H1096zM1085 248H1096V259H1085zM897 292H974V303H897zM1118 292H1129V303H1118zM908 303H996V314H908zM1018 303H1051V314H1018zM908 314H952V325H908zM974 314H1051V325H974zM897 325H1051V336H897zM852 336H1051V347H852zM808 347H1063V358H808zM797 358H1063V369H797zM808 369H1063V380H808zM819 380H1063V391H819zM830 391H1063V402H830zM830 402H1096V414H830zM863 414H1051V425H863zM1096 414H1107V425H1096zM863 425H1051V436H863zM808 436H819V447H808zM863 436H919V447H863zM941 436H1051V447H941zM819 447H830V458H819zM863 447H1063V458H863zM863 458H874V469H863zM919 458H1074V469H919zM819 469H863V480H819zM919 469H1085V480H919zM1140 469H1151V480H1140zM808 480H863V491H808zM919 480H1074V491H919zM808 491H852V502H808zM919 491H930V502H919zM974 491H996V502H974zM1018 491H1074V502H1018zM808 502H852V513H808zM974 502H996V513H974zM830 513H874V524H830zM963 513H996V524H963zM941 524H1007V535H941zM775 535H797V546H775zM952 535H985V546H952zM952 546H974V557H952zM952 557H963V568H952z"/>
<path fill="#80b7da" d="M1096 203H1107V214H1096zM808 226H819V237H808zM908 237H919V248H908zM786 270H797V281H786zM786 281H797V292H786zM764 292H786V303H764zM1217 347H1228V358H1217zM1162 436H1173V447H1162z"/>
<path fill="#71add4" d="M775 214H786V226H775zM974 214H985V226H974zM775 226H786V237H775zM930 226H941V237H930zM963 226H996V237H963zM786 237H808V248H786zM819 237H830V248H819zM963 237H974V248H963zM1007 237H1018V248H1007zM764 248H775V259H764zM897 248H908V259H897zM963 248H974V259H963zM797 270H808V281H797zM1173 303H1184V314H1173zM753 314H764V325H753zM1184 314H1195V325H1184zM1206 336H1217V347H1206zM1206 358H1217V369H1206zM1162 402H1173V414H1162zM1173 425H1184V436H1173zM764 436H775V447H764zM753 447H764V458H753zM764 546H775V557H764zM808 546H819V557H808zM1085 546H1096V557H1085z"/>
<path fill="#8cbfdf" d="M786 214H797V226H786zM930 214H941V226H930zM742 237H753V248H742zM753 248H764V259H753z"/>
<path fill="#b6d7e8" d="M797 214H808V226H797zM830 214H841V226H830zM863 226H874V237H863z"/>
<path fill="#88bddd" d="M819 214H830V226H819zM830 226H841V237H830zM1195 380H1206V391H1195zM720 425H731V436H720zM731 436H742V447H731z"/>
<path fill="#78b2d7" d="M952 214H963V226H952zM919 226H930V237H919zM1107 226H1118V237H1107zM830 237H841V248H830zM874 248H886V259H874zM974 248H1007V259H974zM764 259H786V270H764zM742 281H764V292H742zM742 292H764V303H742zM731 303H764V314H731zM731 314H753V325H731zM1228 314H1234V325H1228zM1195 325H1234V336H1195zM1217 336H1228V347H1217zM1184 402H1195V414H1184zM742 414H753V425H742zM731 425H764V436H731zM742 436H753V447H742zM830 557H852V568H830zM1063 557H1085V568H1063zM830 568H852V579H830zM1051 568H1085V579H1051zM830 579H852V591H830zM1040 579H1074V591H1040zM1040 591H1063V602H1040z"/>
<path fill="#67a3cf" d="M996 214H1007V226H996zM1018 237H1029V248H1018zM830 248H841V259H830zM952 248H963V259H952zM1018 248H1029V259H1018zM963 259H974V270H963zM1018 259H1029V270H1018zM808 270H830V281H808zM985 270H1018V281H985zM1151 270H1162V281H1151zM775 303H786V314H775zM1206 347H1217V358H1206zM731 380H742V391H731zM1162 380H1173V391H1162zM753 391H786V402H753zM1151 391H1173V402H1151zM764 402H786V414H764zM1151 402H1162V414H1151zM775 414H786V425H775zM1140 414H1162V425H1140zM1129 425H1162V436H1129zM775 436H786V447H775zM1140 436H1151V447H1140zM1173 436H1184V447H1173zM830 535H841V546H830zM1040 557H1051V568H1040zM1029 568H1040V579H1029z"/>
<path fill="#64a0ce" d="M1007 214H1018V226H1007zM941 237H952V248H941zM797 259H808V270H797zM830 270H841V281H830zM974 270H985V281H974zM819 281H830V292H819zM1162 281H1173V292H1162zM808 303H830V314H808zM1074 325H1107V336H1074zM1162 369H1173V380H1162zM764 380H786V391H764zM1151 380H1162V391H1151zM786 391H797V402H786zM786 402H797V414H786zM786 414H797V425H786zM786 425H797V436H786zM1129 436H1140V447H1129zM1140 447H1173V458H1140zM1074 535H1085V546H1074zM1051 546H1063V557H1051z"/>
<path fill="#5691c5" d="M1018 214H1029V226H1018zM1063 248H1074V259H1063zM1074 259H1085V270H1074zM897 270H908V281H897zM1085 270H1096V281H1085zM974 281H985V292H974zM1018 281H1074V292H1018zM1096 281H1118V292H1096zM1074 292H1085V303H1074zM1096 303H1107V314H1096zM830 314H841V325H830zM1063 314H1074V325H1063zM797 325H819V336H797zM1107 325H1118V336H1107zM1184 336H1195V347H1184zM1074 347H1085V358H1074zM775 358H786V369H775zM1074 358H1085V369H1074zM1107 358H1151V369H1107zM1096 369H1107V380H1096zM1085 380H1107V391H1085zM797 391H808V402H797zM1140 391H1151V402H1140zM797 402H808V414H797zM1118 414H1129V425H1118zM797 425H808V436H797zM1118 425H1129V436H1118zM1118 436H1129V447H1118zM1195 436H1206V447H1195zM797 458H808V469H797zM786 480H797V491H786zM775 491H797V502H775zM753 502H764V513H753zM1007 535H1018V546H1007zM1029 535H1040V546H1029zM996 546H1007V557H996zM1096 546H1107V557H1096zM985 557H996V568H985zM974 568H985V579H974zM941 579H952V591H941zM963 579H974V591H963zM963 591H974V602H963z"/>
<path fill="#466fa1" d="M1040 214H1051V226H1040zM1085 226H1096V237H1085zM1085 237H1096V248H1085zM1129 281H1140V292H1129zM1129 292H1151V303H1129zM1129 303H1151V314H1129zM952 314H974V325H952zM1129 314H1162V325H1129zM1129 325H1162V336H1129zM841 414H852V425H841zM1051 414H1096V425H1051zM830 425H863V436H830zM1051 425H1107V436H1051zM819 436H863V447H819zM919 436H941V447H919zM1051 436H1107V447H1051zM830 447H863V458H830zM1074 447H1096V458H1074zM841 458H852V469H841zM886 458H919V469H886zM874 469H919V480H874zM863 480H919V491H863zM1129 480H1140V491H1129zM863 491H919V502H863zM996 491H1018V502H996zM852 502H919V513H852zM996 502H1018V513H996zM1173 502H1184V513H1173zM775 513H786V524H775zM886 513H930V524H886zM996 513H1007V524H996zM775 524H786V535H775zM886 524H897V535H886zM919 524H930V535H919zM941 535H952V546H941zM941 546H952V557H941zM886 557H897V568H886zM908 579H919V591H908z"/>
<path fill="#538ec2" d="M1029 226H1040V237H1029zM1085 259H1096V270H1085zM841 270H852V281H841zM874 270H886V281H874zM952 270H963V281H952zM996 292H1018V303H996zM1107 292H1118V303H1107zM1063 303H1074V314H1063zM775 314H797V325H775zM764 325H775V336H764zM1195 347H1206V358H1195zM1074 369H1085V380H1074zM1107 380H1118V391H1107zM1140 458H1151V469H1140zM797 469H808V480H797zM1018 524H1029V535H1018zM1085 535H1096V546H1085z"/>
<path fill="#467cb4" d="M1051 226H1063V237H1051zM1140 270H1151V281H1140zM963 281H974V292H963zM886 292H897V303H886zM985 292H996V303H985zM1018 292H1029V303H1018zM1063 347H1074V358H1063zM786 358H797V369H786zM819 458H830V469H819zM797 480H808V491H797zM1074 480H1085V491H1074zM1151 491H1162V502H1151zM1085 502H1096V513H1085zM808 513H830V524H808zM874 524H886V535H874zM941 557H952V568H941zM886 568H897V579H886zM897 579H908V591H897z"/>
<path fill="#4c85bb" d="M1063 237H1074V248H1063zM908 270H919V281H908zM1096 270H1107V281H1096zM1151 281H1162V292H1151zM886 303H897V314H886zM886 314H897V325H886zM1173 314H1184V325H1173zM819 325H830V336H819zM1118 347H1129V358H1118zM786 369H797V380H786zM1107 369H1118V380H1107zM1140 369H1151V380H1140zM1074 380H1085V391H1074zM1140 380H1151V391H1140zM1129 402H1140V414H1129zM797 436H808V447H797zM797 447H808V458H797zM1151 458H1173V469H1151zM797 524H808V535H797zM1029 524H1040V535H1029zM1063 524H1074V535H1063zM764 535H775V546H764zM1040 535H1051V546H1040zM874 557H886V568H874zM874 568H886V579H874zM863 579H874V591H863zM952 579H963V591H952zM952 591H963V602H952z"/>
<path fill="#5b97c9" d="M1107 237H1118V248H1107zM919 248H930V259H919zM941 248H952V259H941zM1029 248H1040V259H1029zM952 259H963V270H952zM1018 270H1029V281H1018zM786 303H808V314H786zM1085 314H1096V325H1085zM1107 336H1118V347H1107zM1195 336H1206V347H1195zM1195 358H1206V369H1195zM731 369H742V380H731zM764 369H775V380H764zM1173 369H1195V380H1173zM775 447H786V458H775zM731 502H742V513H731zM742 513H753V524H742zM808 557H819V568H808zM1029 557H1040V568H1029zM808 568H819V579H808zM1018 568H1029V579H1018z"/>
<path fill="#4679af" d="M1107 248H1118V259H1107zM952 281H963V292H952zM974 292H985V303H974zM1029 292H1063V303H1029zM897 303H908V314H897zM996 303H1018V314H996zM1051 303H1063V314H1051zM897 314H908V325H897zM1051 314H1063V325H1051zM886 325H897V336H886zM1051 325H1063V336H1051zM841 336H852V347H841zM1051 336H1063V347H1051zM797 347H808V358H797zM1063 358H1074V369H1063zM1063 369H1074V380H1063zM808 380H819V391H808zM819 391H830V402H819zM1063 391H1074V402H1063zM1096 402H1107V414H1096zM1107 414H1118V425H1107zM808 447H819V458H808zM808 469H819V480H808zM797 491H808V502H797zM930 491H941V502H930zM1074 491H1096V502H1074zM1129 491H1140V502H1129zM775 502H786V513H775zM797 502H808V513H797zM963 502H974V513H963zM1140 502H1151V513H1140zM985 535H996V546H985zM974 546H985V557H974z"/>
<path fill="#4f88be" d="M874 281H886V292H874zM874 292H886V303H874zM852 314H886V325H852zM797 336H808V347H797zM786 347H797V358H786zM1140 347H1151V358H1140zM797 414H808V425H797zM1173 447H1184V458H1173zM753 524H764V535H753zM830 524H841V535H830zM852 535H863V546H852zM1051 535H1063V546H1051zM786 546H797V557H786zM863 546H874V557H863zM919 591H930V602H919zM941 602H963V613H941z"/>
</g>
<g shape-rendering="crispEdges">
<path fill="#f3f1f7" d="M1496 100H1507V104H1496zM1518 100H1529V104H1518zM1484 104H1496V115H1484zM1473 115H1484V126H1473zM1462 126H1473V137H1462zM1440 137H1451V148H1440zM1473 137H1484V148H1473zM1407 148H1418V159H1407zM1473 148H1484V159H1473zM1440 159H1451V170H1440zM1429 170H1440V181H1429zM1429 181H1440V192H1429zM1628 181H1639V192H1628zM1451 192H1484V203H1451zM1352 203H1363V214H1352zM1341 214H1352V226H1341zM1695 248H1706V259H1695zM1341 259H1352V270H1341zM1352 270H1363V281H1352zM1706 270H1717V281H1706zM1296 292H1341V303H1296zM1285 303H1330V314H1285zM1285 314H1319V325H1285zM1296 325H1308V336H1296zM1695 336H1717V347H1695zM1296 347H1308V358H1296zM1717 347H1761V358H1717zM1274 358H1319V369H1274zM1717 358H1761V369H1717zM1274 369H1330V380H1274zM1728 369H1750V380H1728zM1274 380H1319V391H1274zM1728 380H1750V391H1728zM1296 391H1308V402H1296zM1717 391H1761V402H1717zM1717 402H1761V414H1717zM1274 414H1285V425H1274zM1728 414H1739V425H1728zM1728 436H1739V447H1728zM1717 447H1739V458H1717zM1296 458H1308V469H1296zM1706 458H1750V469H1706zM1706 469H1750V480H1706zM1695 480H1739V491H1695zM1684 491H1717V502H1684zM1695 502H1706V513H1695zM1296 513H1352V524H1296zM1308 524H1374V535H1308zM1319 535H1385V546H1319zM1639 535H1650V546H1639zM1341 546H1418V557H1341zM1352 557H1429V568H1352zM1385 568H1451V579H1385zM1396 579H1407V591H1396z"/>
<path fill="#e0e0ee" d="M1507 100H1518V104H1507zM1496 104H1529V115H1496zM1484 115H1529V126H1484zM1473 126H1507V137H1473zM1451 137H1473V148H1451zM1418 148H1440V159H1418zM1462 148H1473V159H1462zM1407 159H1440V170H1407zM1418 170H1429V181H1418zM1496 579H1507V591H1496zM1484 591H1518V602H1484zM1484 602H1518V613H1484zM1496 613H1507V624H1496z"/>
<path fill="#fdfcfe" d="M1451 104H1484V115H1451zM1529 104H1540V115H1529zM1440 115H1473V126H1440zM1529 115H1540V126H1529zM1418 126H1462V137H1418zM1529 126H1540V137H1529zM1407 137H1440V148H1407zM1540 137H1562V148H1540zM1440 148H1462V159H1440zM1562 148H1639V159H1562zM1396 159H1407V170H1396zM1451 159H1484V170H1451zM1562 159H1639V170H1562zM1385 170H1396V181H1385zM1440 170H1484V181H1440zM1606 170H1650V181H1606zM1341 181H1385V192H1341zM1639 181H1650V192H1639zM1330 192H1374V203H1330zM1650 192H1661V203H1650zM1319 203H1352V214H1319zM1661 203H1673V214H1661zM1308 214H1341V226H1308zM1673 214H1684V226H1673zM1296 226H1352V237H1296zM1684 226H1695V237H1684zM1285 237H1352V248H1285zM1695 237H1706V248H1695zM1296 248H1341V259H1296zM1706 248H1728V259H1706zM1296 259H1341V270H1296zM1706 259H1717V270H1706zM1296 270H1352V281H1296zM1717 270H1728V281H1717zM1285 281H1296V292H1285zM1717 281H1728V292H1717zM1285 292H1296V303H1285zM1706 292H1717V303H1706zM1728 292H1739V303H1728zM1772 292H1783V303H1772zM1274 303H1285V314H1274zM1695 303H1750V314H1695zM1761 303H1783V314H1761zM1274 314H1285V325H1274zM1695 314H1789V325H1695zM1285 325H1296V336H1285zM1695 325H1789V336H1695zM1285 336H1308V347H1285zM1772 336H1789V347H1772zM1285 347H1296V358H1285zM1761 347H1789V358H1761zM1761 358H1783V369H1761zM1750 369H1772V380H1750zM1750 380H1761V391H1750zM1285 391H1296V402H1285zM1761 391H1772V402H1761zM1285 402H1296V414H1285zM1761 402H1772V414H1761zM1739 414H1761V425H1739zM1263 425H1274V436H1263zM1739 425H1761V436H1739zM1274 436H1285V447H1274zM1739 436H1761V447H1739zM1285 447H1296V458H1285zM1739 447H1761V458H1739zM1750 458H1772V469H1750zM1285 469H1308V480H1285zM1750 469H1783V480H1750zM1274 480H1319V491H1274zM1739 480H1761V491H1739zM1274 491H1330V502H1274zM1728 491H1750V502H1728zM1728 502H1739V513H1728zM1285 513H1296V524H1285zM1296 524H1308V535H1296zM1308 535H1319V546H1308zM1319 546H1341V557H1319zM1341 557H1352V568H1341zM1352 568H1385V579H1352zM1385 579H1396V591H1385zM1407 579H1462V591H1407zM1418 591H1473V602H1418zM1440 602H1462V613H1440z"/>
<path fill="#dddeed" d="M1507 126H1518V137H1507zM1484 148H1496V159H1484zM1407 170H1418V181H1407zM1418 181H1429V192H1418zM1484 181H1496V192H1484zM1484 192H1496V203H1484zM1462 203H1496V214H1462zM1285 414H1296V425H1285zM1274 425H1285V436H1274zM1507 579H1518V591H1507zM1518 591H1529V602H1518z"/>
<path fill="#cacae3" d="M1518 126H1529V137H1518zM1496 148H1507V159H1496zM1551 159H1562V170H1551zM1551 170H1562V181H1551zM1507 192H1540V203H1507zM1429 203H1440V214H1429zM1496 203H1507V214H1496zM1385 237H1429V248H1385zM1684 314H1695V325H1684zM1673 325H1684V336H1673zM1296 402H1308V414H1296zM1308 414H1319V425H1308zM1308 425H1319V436H1308zM1695 458H1706V469H1695z"/>
<path fill="#d2d3e7" d="M1484 137H1496V148H1484zM1363 281H1374V292H1363zM1484 579H1496V591H1484z"/>
<path fill="#dbdbec" d="M1496 137H1507V148H1496zM1484 159H1496V170H1484zM1429 192H1440V203H1429zM1451 203H1462V214H1451zM1684 237H1695V248H1684zM1341 248H1352V259H1341zM1706 281H1717V292H1706zM1706 347H1717V358H1706zM1728 425H1739V436H1728z"/>
<path fill="#c7c7e1" d="M1507 137H1518V148H1507zM1562 170H1573V181H1562zM1540 192H1551V203H1540zM1540 203H1551V214H1540zM1484 214H1496V226H1484zM1385 226H1396V237H1385zM1462 226H1473V237H1462zM1352 237H1363V248H1352zM1374 237H1385V248H1374zM1684 248H1695V259H1684zM1695 292H1706V303H1695zM1639 325H1673V336H1639zM1684 336H1695V347H1684zM1717 369H1728V380H1717zM1308 436H1319V447H1308zM1296 447H1308V458H1296z"/>
<path fill="#9d99c9" d="M1518 137H1529V148H1518zM1562 259H1573V270H1562zM1673 425H1684V436H1673zM1308 469H1319V480H1308z"/>
<path fill="#978cc2" d="M1529 137H1540V148H1529zM1562 203H1573V214H1562zM1496 226H1518V237H1496zM1518 237H1529V248H1518zM1562 248H1573V259H1562zM1661 248H1673V259H1661zM1650 259H1673V270H1650zM1385 292H1396V303H1385zM1374 314H1385V325H1374zM1617 314H1628V325H1617zM1606 336H1617V347H1606zM1352 347H1363V358H1352zM1606 347H1617V358H1606zM1341 358H1352V369H1341zM1606 358H1617V369H1606zM1661 358H1673V369H1661zM1341 369H1363V380H1341zM1617 369H1628V380H1617zM1628 380H1661V391H1628zM1706 380H1717V391H1706zM1695 402H1706V414H1695z"/>
<path fill="#aba8d0" d="M1507 148H1518V159H1507zM1551 192H1562V203H1551zM1374 214H1385V226H1374zM1496 214H1507V226H1496zM1684 259H1695V270H1684zM1352 292H1363V303H1352zM1341 303H1352V314H1341zM1330 314H1341V325H1330zM1319 325H1330V336H1319zM1308 336H1319V347H1308zM1319 347H1330V358H1319zM1330 380H1341V391H1330zM1363 513H1374V524H1363zM1617 535H1628V546H1617zM1518 568H1529V579H1518zM1462 579H1473V591H1462z"/>
<path fill="#9990c4" d="M1518 148H1529V159H1518zM1617 192H1628V203H1617zM1661 237H1673V248H1661zM1451 248H1462V259H1451zM1407 259H1418V270H1407zM1673 259H1684V270H1673zM1661 347H1684V358H1661zM1695 358H1706V369H1695zM1363 402H1374V414H1363zM1440 557H1451V568H1440zM1551 557H1562V568H1551zM1484 568H1496V579H1484z"/>
<path fill="#9b95c7" d="M1529 148H1540V159H1529zM1606 181H1617V192H1606zM1418 259H1429V270H1418zM1706 369H1717V380H1706zM1352 414H1363V425H1352zM1330 436H1341V447H1330zM1352 436H1363V447H1352zM1673 436H1684V447H1673zM1684 447H1695V458H1684zM1319 480H1330V491H1319zM1330 491H1341V502H1330zM1341 502H1352V513H1341zM1418 546H1429V557H1418z"/>
<path fill="#c4c3df" d="M1540 148H1551V159H1540zM1507 181H1518V192H1507zM1540 181H1562V192H1540zM1473 226H1484V237H1473zM1673 226H1684V237H1673zM1407 248H1429V259H1407zM1341 292H1352V303H1341zM1330 303H1341V314H1330zM1319 314H1330V325H1319zM1308 325H1319V336H1308zM1308 347H1319V358H1308zM1319 358H1330V369H1319zM1319 380H1330V391H1319zM1717 380H1728V391H1717zM1507 568H1518V579H1507zM1529 568H1540V579H1529z"/>
<path fill="#cccde5" d="M1551 148H1562V159H1551zM1396 170H1407V181H1396zM1407 181H1418V192H1407zM1496 181H1507V192H1496zM1418 192H1429V203H1418zM1440 203H1451V214H1440zM1462 214H1473V226H1462zM1684 325H1695V336H1684zM1296 425H1308V436H1296zM1285 436H1308V447H1285zM1540 568H1551V579H1540zM1518 579H1562V591H1518zM1540 591H1551V602H1540z"/>
<path fill="#bcb9d9" d="M1496 159H1507V170H1496zM1496 170H1507V181H1496zM1540 170H1551V181H1540zM1584 170H1595V181H1584zM1396 181H1407V192H1396zM1407 192H1418V203H1407zM1418 203H1429V214H1418zM1440 214H1451V226H1440zM1396 226H1407V237H1396zM1363 237H1374V248H1363zM1429 248H1440V259H1429zM1363 270H1374V281H1363zM1695 281H1706V292H1695zM1673 314H1684V325H1673zM1308 402H1319V414H1308zM1650 535H1661V546H1650zM1639 546H1650V557H1639zM1540 557H1551V568H1540z"/>
<path fill="#a8a5cf" d="M1507 159H1518V170H1507zM1639 203H1650V214H1639zM1529 214H1540V226H1529zM1385 259H1396V270H1385zM1684 281H1695V292H1684zM1628 292H1639V303H1628zM1695 347H1706V358H1695zM1352 391H1363V402H1352zM1706 414H1717V425H1706zM1374 524H1385V535H1374z"/>
<path fill="#a5a3ce" d="M1518 159H1540V170H1518zM1562 181H1573V192H1562zM1507 214H1529V226H1507zM1484 226H1496V237H1484zM1529 226H1540V237H1529zM1661 226H1673V237H1661zM1529 237H1540V248H1529zM1540 248H1562V259H1540zM1673 248H1684V259H1673zM1639 270H1650V281H1639zM1684 270H1695V281H1684zM1639 281H1684V292H1639zM1352 303H1363V314H1352zM1628 303H1639V314H1628zM1341 314H1374V325H1341zM1628 314H1639V325H1628zM1330 325H1363V336H1330zM1319 336H1352V347H1319zM1617 336H1628V347H1617zM1330 347H1341V358H1330zM1628 347H1661V358H1628zM1684 347H1695V358H1684zM1330 358H1341V369H1330zM1628 358H1650V369H1628zM1341 380H1352V391H1341zM1684 425H1717V436H1684zM1695 436H1706V447H1695zM1308 447H1319V458H1308z"/>
<path fill="#b9b6d7" d="M1540 159H1551V170H1540zM1385 181H1396V192H1385zM1374 192H1407V203H1374zM1363 203H1374V214H1363zM1385 203H1418V214H1385zM1507 203H1540V214H1507zM1352 214H1363V226H1352zM1385 214H1440V226H1385zM1540 214H1551V226H1540zM1352 226H1385V237H1352zM1407 226H1462V237H1407zM1429 237H1440V248H1429zM1673 237H1684V248H1673zM1363 248H1407V259H1363zM1352 259H1374V270H1352zM1695 270H1706V281H1695zM1363 292H1374V303H1363zM1684 303H1695V314H1684zM1639 314H1673V325H1639zM1639 336H1661V347H1639zM1673 336H1684V347H1673zM1308 391H1330V402H1308zM1319 402H1341V414H1319zM1319 414H1341V425H1319zM1319 425H1330V436H1319zM1706 502H1717V513H1706zM1628 535H1639V546H1628zM1628 546H1639V557H1628zM1617 557H1650V568H1617zM1606 568H1639V579H1606zM1595 579H1628V591H1595zM1595 591H1617V602H1595z"/>
<path fill="#cfd0e6" d="M1484 170H1496V181H1484zM1440 192H1451V203H1440zM1496 192H1507V203H1496zM1473 214H1484V226H1473zM1706 358H1717V369H1706zM1296 414H1308V425H1296zM1285 425H1296V436H1285zM1496 568H1507V579H1496zM1529 591H1540V602H1529z"/>
<path fill="#b6b3d6" d="M1507 170H1540V181H1507zM1639 192H1650V203H1639zM1374 203H1385V214H1374zM1363 214H1374V226H1363zM1551 214H1562V226H1551zM1540 226H1562V237H1540zM1440 237H1451V248H1440zM1374 259H1385V270H1374zM1429 259H1440V270H1429zM1684 292H1695V303H1684zM1639 303H1684V314H1639zM1628 325H1639V336H1628zM1661 336H1673V347H1661zM1330 391H1341V402H1330zM1341 402H1352V414H1341zM1330 425H1352V436H1330zM1684 502H1695V513H1684zM1628 524H1650V535H1628zM1617 546H1628V557H1617zM1584 579H1595V591H1584z"/>
<path fill="#b3b0d4" d="M1573 170H1584V181H1573zM1595 170H1606V181H1595zM1551 203H1562V214H1551zM1451 237H1473V248H1451zM1540 237H1562V248H1540zM1374 270H1385V281H1374zM1374 292H1385V303H1374zM1363 303H1374V314H1363zM1628 336H1639V347H1628zM1341 391H1352V402H1341zM1341 414H1352V425H1341zM1717 414H1728V425H1717zM1606 557H1617V568H1606zM1595 568H1606V579H1595z"/>
<path fill="#f8f7fa" d="M1440 181H1484V192H1440zM1296 281H1363V292H1296zM1717 336H1772V347H1717zM1285 502H1341V513H1285z"/>
<path fill="#c1c0dd" d="M1518 181H1540V192H1518zM1551 568H1562V579H1551z"/>
<path fill="#8264ae" d="M1573 181H1584V192H1573zM1573 259H1584V270H1573zM1518 270H1529V281H1518zM1518 292H1529V303H1518zM1573 292H1595V303H1573zM1595 314H1606V325H1595zM1374 336H1385V347H1374zM1374 347H1385V358H1374zM1673 369H1684V380H1673zM1684 391H1695V402H1684zM1661 425H1673V436H1661zM1418 447H1429V458H1418zM1684 458H1695V469H1684zM1673 491H1684V502H1673zM1684 513H1695V524H1684zM1407 524H1418V535H1407zM1617 524H1628V535H1617zM1650 524H1661V535H1650zM1606 535H1617V546H1606zM1551 546H1562V557H1551z"/>
<path fill="#7e5cab" d="M1584 181H1595V192H1584zM1573 192H1584V203H1573zM1606 192H1617V203H1606zM1639 214H1650V226H1639zM1606 237H1617V248H1606zM1628 237H1639V248H1628zM1496 248H1507V259H1496zM1496 281H1518V292H1496zM1462 292H1484V303H1462zM1518 314H1551V325H1518zM1518 325H1540V336H1518zM1518 336H1540V347H1518zM1518 347H1529V358H1518zM1396 414H1418V425H1396zM1407 425H1418V436H1407zM1628 425H1661V436H1628zM1407 436H1418V447H1407zM1606 436H1617V447H1606zM1352 447H1363V458H1352zM1407 447H1418V458H1407zM1374 469H1407V480H1374zM1374 480H1418V491H1374zM1595 480H1606V491H1595zM1363 491H1451V502H1363zM1595 491H1606V502H1595zM1385 502H1440V513H1385zM1584 502H1595V513H1584zM1673 502H1684V513H1673zM1396 513H1440V524H1396zM1462 513H1473V524H1462zM1540 513H1584V524H1540zM1418 524H1451V535H1418zM1473 524H1484V535H1473zM1529 524H1584V535H1529zM1440 535H1451V546H1440zM1484 535H1496V546H1484zM1518 535H1540V546H1518zM1551 535H1562V546H1551zM1661 535H1673V546H1661zM1496 546H1507V557H1496zM1562 546H1595V557H1562z"/>
<path fill="#8b74b6" d="M1595 181H1606V192H1595zM1573 226H1584V237H1573zM1650 226H1661V237H1650zM1484 237H1496V248H1484zM1507 237H1518V248H1507zM1650 237H1661V248H1650zM1407 270H1418V281H1407zM1396 281H1407V292H1396zM1396 292H1407V303H1396zM1385 314H1396V325H1385zM1606 314H1617V325H1606zM1374 325H1385V336H1374zM1573 369H1584V380H1573zM1385 380H1396V391H1385zM1540 391H1551V402H1540zM1595 391H1606V402H1595zM1695 391H1706V402H1695zM1606 402H1617V414H1606zM1661 402H1684V414H1661zM1551 414H1562V425H1551zM1628 414H1639V425H1628zM1496 425H1507V436H1496zM1330 447H1352V458H1330zM1562 447H1573V458H1562zM1440 458H1451V469H1440zM1573 469H1584V480H1573zM1462 480H1473V491H1462zM1507 480H1518V491H1507zM1540 480H1551V491H1540zM1473 502H1484V513H1473zM1496 502H1507V513H1496zM1706 513H1717V524H1706zM1540 546H1551V557H1540zM1496 557H1507V568H1496z"/>
<path fill="#a2a0cc" d="M1617 181H1628V192H1617zM1562 226H1573V237H1562zM1529 248H1540V259H1529zM1396 259H1407V270H1396zM1540 259H1562V270H1540zM1385 270H1396V281H1385zM1628 270H1639V281H1628zM1650 270H1684V281H1650zM1628 281H1639V292H1628zM1617 325H1628V336H1617zM1617 347H1628V358H1617zM1650 358H1661V369H1650zM1330 369H1341V380H1330zM1639 369H1650V380H1639zM1352 380H1363V391H1352zM1695 414H1706V425H1695zM1684 436H1695V447H1684zM1695 513H1706V524H1695zM1529 557H1540V568H1529zM1451 568H1462V579H1451z"/>
<path fill="#9588c0" d="M1562 192H1573V203H1562zM1617 259H1628V270H1617zM1540 270H1562V281H1540zM1617 270H1628V281H1617zM1617 281H1628V292H1617zM1617 292H1628V303H1617zM1385 303H1396V314H1385zM1617 303H1628V314H1617zM1606 325H1617V336H1606zM1363 336H1374V347H1363zM1573 336H1606V347H1573zM1562 347H1606V358H1562zM1573 358H1606V369H1573zM1363 369H1385V380H1363zM1584 369H1617V380H1584zM1661 369H1673V380H1661zM1374 380H1385V391H1374zM1595 380H1628V391H1595zM1374 391H1385V402H1374zM1518 391H1529V402H1518zM1617 391H1661V402H1617zM1518 402H1540V414H1518zM1617 402H1650V414H1617zM1507 414H1551V425H1507zM1673 414H1684V425H1673zM1507 425H1551V436H1507zM1440 436H1484V447H1440zM1507 436H1551V447H1507zM1440 447H1551V458H1440zM1451 458H1562V469H1451zM1462 469H1573V480H1462zM1473 480H1507V491H1473zM1484 491H1496V502H1484zM1562 568H1573V579H1562z"/>
<path fill="#7246a0" d="M1584 192H1595V203H1584zM1628 214H1639V226H1628zM1617 226H1628V237H1617zM1496 270H1507V281H1496zM1462 281H1484V292H1462zM1595 281H1606V292H1595zM1639 436H1650V447H1639zM1650 513H1661V524H1650zM1473 535H1484V546H1473zM1484 546H1496V557H1484z"/>
<path fill="#7851a6" d="M1595 192H1606V203H1595zM1584 214H1595V226H1584zM1595 237H1606V248H1595zM1484 248H1496V259H1484zM1584 248H1595V259H1584zM1451 270H1462V281H1451zM1584 281H1595V292H1584zM1695 369H1706V380H1695zM1684 380H1695V391H1684zM1385 425H1407V436H1385zM1396 436H1407V447H1396zM1617 436H1628V447H1617zM1363 447H1374V458H1363zM1606 447H1617V458H1606zM1595 458H1606V469H1595zM1684 469H1695V480H1684zM1440 502H1462V513H1440zM1595 502H1617V513H1595zM1440 513H1462V524H1440zM1584 513H1606V524H1584zM1617 513H1628V524H1617zM1639 513H1650V524H1639zM1673 513H1684V524H1673zM1451 524H1473V535H1451zM1584 524H1617V535H1584zM1661 524H1673V535H1661zM1684 524H1695V535H1684zM1451 557H1462V568H1451z"/>
<path fill="#9f9dcb" d="M1628 192H1639V203H1628zM1562 214H1573V226H1562zM1518 226H1529V237H1518zM1473 237H1484V248H1473zM1562 237H1573V248H1562zM1529 259H1540V270H1529zM1628 259H1650V270H1628zM1385 281H1396V292H1385zM1363 325H1374V336H1363zM1352 336H1363V347H1352zM1341 347H1352V358H1341zM1617 358H1628V369H1617zM1628 369H1639V380H1628zM1650 369H1661V380H1650zM1363 380H1374V391H1363zM1363 391H1374V402H1363zM1706 391H1717V402H1706zM1684 414H1695V425H1684zM1352 425H1363V436H1352zM1606 546H1617V557H1606zM1429 557H1440V568H1429zM1595 557H1606V568H1595zM1584 568H1595V579H1584zM1473 579H1484V591H1473z"/>
<path fill="#8060ac" d="M1573 203H1584V214H1573zM1628 203H1639V214H1628zM1507 248H1518V259H1507zM1606 248H1617V259H1606zM1451 259H1462V270H1451zM1606 259H1617V270H1606zM1440 270H1451V281H1440zM1573 270H1584V281H1573zM1606 270H1617V281H1606zM1440 281H1451V292H1440zM1518 281H1529V292H1518zM1573 281H1584V292H1573zM1606 281H1617V292H1606zM1451 292H1462V303H1451zM1484 292H1518V303H1484zM1595 292H1606V303H1595zM1507 303H1606V314H1507zM1507 314H1518V325H1507zM1551 314H1595V325H1551zM1507 325H1518V336H1507zM1540 325H1551V336H1540zM1385 336H1407V347H1385zM1507 336H1518V347H1507zM1540 336H1551V347H1540zM1385 347H1407V358H1385zM1507 347H1518V358H1507zM1529 347H1551V358H1529zM1507 358H1529V369H1507zM1673 380H1684V391H1673zM1407 402H1429V414H1407zM1385 414H1396V425H1385zM1418 414H1429V425H1418zM1418 425H1429V436H1418zM1617 425H1628V436H1617zM1418 436H1429V447H1418zM1407 458H1418V469H1407zM1584 458H1595V469H1584zM1407 469H1418V480H1407zM1584 469H1595V480H1584zM1341 480H1374V491H1341zM1418 480H1451V491H1418zM1352 491H1363V502H1352zM1451 491H1462V502H1451zM1374 502H1385V513H1374zM1462 502H1473V513H1462zM1529 502H1584V513H1529zM1385 513H1396V524H1385zM1529 513H1540V524H1529zM1507 524H1529V535H1507zM1429 535H1440V546H1429zM1507 535H1518V546H1507zM1540 535H1551V546H1540zM1440 546H1451V557H1440zM1507 546H1529V557H1507zM1573 557H1584V568H1573z"/>
<path fill="#70439f" d="M1584 203H1595V214H1584zM1606 203H1617V214H1606zM1595 214H1628V226H1595zM1473 259H1507V270H1473zM1584 259H1606V270H1584zM1462 270H1473V281H1462zM1484 270H1496V281H1484zM1584 270H1606V281H1584zM1628 447H1639V458H1628zM1661 447H1673V458H1661zM1617 458H1628V469H1617zM1673 458H1684V469H1673zM1606 469H1617V480H1606zM1606 480H1628V491H1606zM1639 491H1650V502H1639zM1661 491H1673V502H1661zM1661 502H1673V513H1661zM1462 535H1473V546H1462zM1451 546H1462V557H1451z"/>
<path fill="#6f409e" d="M1595 203H1606V214H1595zM1473 270H1484V281H1473zM1639 447H1661V458H1639zM1628 458H1673V469H1628zM1617 469H1684V480H1617zM1639 480H1673V491H1639zM1650 491H1661V502H1650zM1462 546H1484V557H1462zM1462 557H1484V568H1462z"/>
<path fill="#7a55a7" d="M1617 203H1628V214H1617zM1584 237H1595V248H1584zM1507 259H1518V270H1507zM1684 369H1695V380H1684zM1374 425H1385V436H1374zM1661 436H1673V447H1661zM1595 447H1606V458H1595zM1374 458H1396V469H1374zM1584 535H1595V546H1584zM1462 568H1473V579H1462z"/>
<path fill="#b0add3" d="M1650 203H1661V214H1650zM1661 214H1673V226H1661zM1440 248H1451V259H1440zM1374 303H1385V314H1374zM1352 402H1363V414H1352zM1706 402H1717V414H1706zM1717 425H1728V436H1717zM1319 436H1330V447H1319zM1695 469H1706V480H1695zM1352 513H1363V524H1352z"/>
<path fill="#bebddb" d="M1451 214H1462V226H1451zM1352 248H1363V259H1352zM1385 535H1396V546H1385z"/>
<path fill="#8970b4" d="M1573 214H1584V226H1573zM1496 237H1507V248H1496zM1573 237H1584V248H1573zM1518 259H1529V270H1518zM1418 270H1429V281H1418zM1407 281H1429V292H1407zM1529 281H1573V292H1529zM1407 292H1440V303H1407zM1396 303H1451V314H1396zM1606 303H1617V314H1606zM1396 314H1496V325H1396zM1407 325H1496V336H1407zM1562 325H1573V336H1562zM1418 336H1496V347H1418zM1551 336H1562V347H1551zM1418 347H1496V358H1418zM1551 347H1562V358H1551zM1385 358H1396V369H1385zM1407 358H1496V369H1407zM1551 358H1562V369H1551zM1396 369H1507V380H1396zM1529 369H1573V380H1529zM1396 380H1584V391H1396zM1551 391H1595V402H1551zM1673 391H1684V402H1673zM1385 402H1396V414H1385zM1440 402H1507V414H1440zM1551 402H1606V414H1551zM1374 414H1385V425H1374zM1440 414H1507V425H1440zM1562 414H1617V425H1562zM1639 414H1673V425H1639zM1363 425H1374V436H1363zM1429 425H1496V436H1429zM1562 425H1606V436H1562zM1562 436H1595V447H1562zM1573 447H1584V458H1573zM1319 458H1352V469H1319zM1429 458H1440V469H1429zM1573 458H1584V469H1573zM1330 469H1341V480H1330zM1440 469H1451V480H1440zM1451 480H1462V491H1451zM1518 480H1540V491H1518zM1462 491H1473V502H1462zM1507 491H1529V502H1507zM1551 491H1584V502H1551zM1507 502H1518V513H1507zM1484 513H1507V524H1484zM1385 524H1396V535H1385z"/>
<path fill="#8f7cba" d="M1650 214H1661V226H1650zM1440 259H1451V270H1440zM1319 447H1330V458H1319zM1308 458H1319V469H1308zM1717 502H1728V513H1717z"/>
<path fill="#8568b0" d="M1584 226H1595V237H1584zM1639 226H1650V237H1639zM1617 237H1628V248H1617zM1529 292H1573V303H1529zM1606 292H1617V303H1606zM1396 391H1496V402H1396zM1352 458H1363V469H1352zM1363 469H1374V480H1363zM1341 491H1352V502H1341zM1363 502H1374V513H1363zM1396 524H1407V535H1396zM1418 535H1429V546H1418zM1496 535H1507V546H1496zM1429 546H1440V557H1429zM1529 546H1540V557H1529zM1595 546H1606V557H1595zM1562 557H1573V568H1562zM1573 568H1584V579H1573z"/>
<path fill="#7c59a9" d="M1595 226H1606V237H1595zM1628 226H1639V237H1628zM1473 248H1484V259H1473zM1507 270H1518V281H1507zM1451 281H1462V292H1451zM1484 281H1496V292H1484zM1695 380H1706V391H1695zM1363 436H1374V447H1363zM1396 447H1407V458H1396zM1673 447H1684V458H1673zM1363 458H1374V469H1363zM1396 458H1407V469H1396zM1595 469H1606V480H1595zM1628 513H1639V524H1628zM1695 524H1706V535H1695zM1562 535H1584V546H1562zM1595 535H1606V546H1595z"/>
<path fill="#764ea4" d="M1606 226H1617V237H1606zM1595 248H1606V259H1595zM1374 436H1396V447H1374zM1628 436H1639V447H1628zM1650 436H1661V447H1650zM1617 447H1628V458H1617zM1606 458H1617V469H1606zM1606 491H1639V502H1606zM1617 502H1650V513H1617zM1606 513H1617V524H1606zM1661 513H1673V524H1661zM1673 524H1684V535H1673zM1451 535H1462V546H1451zM1673 535H1695V546H1673zM1673 546H1684V557H1673zM1473 568H1484V579H1473z"/>
<path fill="#876cb2" d="M1639 237H1650V248H1639zM1573 248H1584V259H1573zM1429 270H1440V281H1429zM1429 281H1440V292H1429zM1440 292H1451V303H1440zM1451 303H1507V314H1451zM1496 314H1507V325H1496zM1385 325H1407V336H1385zM1496 325H1507V336H1496zM1551 325H1562V336H1551zM1407 336H1418V347H1407zM1496 336H1507V347H1496zM1407 347H1418V358H1407zM1496 347H1507V358H1496zM1396 358H1407V369H1396zM1496 358H1507V369H1496zM1529 358H1551V369H1529zM1507 369H1529V380H1507zM1385 391H1396V402H1385zM1496 391H1507V402H1496zM1396 402H1407V414H1396zM1429 402H1440V414H1429zM1429 414H1440V425H1429zM1606 425H1617V436H1606zM1595 436H1606V447H1595zM1584 447H1595V458H1584zM1418 458H1429V469H1418zM1341 469H1363V480H1341zM1418 469H1440V480H1418zM1330 480H1341V491H1330zM1584 480H1595V491H1584zM1529 491H1551V502H1529zM1584 491H1595V502H1584zM1518 502H1529V513H1518zM1374 513H1385V524H1374zM1473 513H1484V524H1473zM1507 513H1529V524H1507zM1484 524H1507V535H1484zM1518 557H1529V568H1518zM1584 557H1595V568H1584z"/>
<path fill="#9180bc" d="M1462 248H1473V259H1462zM1617 248H1628V259H1617zM1352 358H1374V369H1352zM1385 369H1396V380H1385zM1617 414H1628V425H1617zM1551 425H1562V436H1551zM1429 436H1440V447H1429zM1429 447H1440V458H1429zM1573 480H1584V491H1573zM1484 502H1496V513H1484z"/>
<path fill="#9384be" d="M1518 248H1529V259H1518zM1628 248H1639V259H1628zM1650 248H1661V259H1650zM1529 270H1540V281H1529zM1562 270H1573V281H1562zM1573 325H1606V336H1573zM1562 336H1573V347H1562zM1363 347H1374V358H1363zM1562 358H1573V369H1562zM1673 358H1695V369H1673zM1584 380H1595V391H1584zM1661 380H1673V391H1661zM1507 391H1518V402H1507zM1529 391H1540V402H1529zM1606 391H1617V402H1606zM1661 391H1673V402H1661zM1374 402H1385V414H1374zM1507 402H1518V414H1507zM1540 402H1551V414H1540zM1650 402H1661V414H1650zM1684 402H1695V414H1684zM1363 414H1374V425H1363zM1484 436H1496V447H1484zM1551 447H1562V458H1551zM1562 458H1573V469H1562zM1451 469H1462V480H1451zM1551 480H1573V491H1551zM1473 491H1484V502H1473zM1496 491H1507V502H1496zM1407 535H1418V546H1407z"/>
<path fill="#8d78b8" d="M1639 248H1650V259H1639zM1396 270H1407V281H1396zM1374 358H1385V369H1374zM1496 436H1507V447H1496zM1551 436H1562V447H1551zM1319 469H1330V480H1319zM1684 480H1695V491H1684zM1352 502H1363V513H1352zM1507 557H1518V568H1507z"/>
<path fill="#744aa2" d="M1462 259H1473V270H1462zM1374 447H1396V458H1374zM1628 480H1639V491H1628zM1673 480H1684V491H1673zM1650 502H1661V513H1650zM1484 557H1496V568H1484z"/>
<path fill="#d5d5e9" d="M1695 259H1706V270H1695zM1717 436H1728V447H1717zM1706 447H1717V458H1706zM1717 491H1728V502H1717z"/>
<path fill="#adabd2" d="M1374 281H1385V292H1374zM1639 292H1684V303H1639zM1341 436H1352V447H1341zM1706 436H1717V447H1706zM1695 447H1706V458H1695zM1396 535H1407V546H1396z"/>
<path fill="#d8d8ea" d="M1650 546H1661V557H1650zM1473 591H1484V602H1473z"/>
</g>
<g shape-rendering="crispEdges">
<path fill="#f7fcf2" d="M309 765H331V776H309zM298 776H342V787H298zM287 787H353V798H287zM287 798H364V809H287zM275 809H386V820H275zM287 820H397V831H287zM298 831H397V842H298zM220 842H231V854H220zM287 842H331V854H287zM375 842H386V854H375zM220 854H242V865H220zM253 854H320V865H253zM452 854H463V865H452zM209 865H264V876H209zM452 865H475V876H452zM552 865H585V876H552zM209 876H253V887H209zM441 876H486V887H441zM541 876H596V887H541zM198 887H231V898H198zM386 887H397V898H386zM430 887H497V898H430zM530 887H607V898H530zM198 898H220V909H198zM386 898H508V909H386zM519 898H607V909H519zM375 909H596V920H375zM364 920H519V931H364zM585 920H596V931H585zM198 931H209V942H198zM364 931H508V942H364zM596 931H607V942H596zM651 931H674V942H651zM187 942H209V953H187zM364 942H508V953H364zM596 942H618V953H596zM640 942H663V953H640zM187 953H209V964H187zM364 953H508V964H364zM596 953H680V964H596zM198 964H209V975H198zM364 964H519V975H364zM596 964H680V975H596zM596 975H607V986H596zM629 975H680V986H629zM640 986H651V997H640zM663 986H674V997H663zM125 1097H143V1108H125zM125 1108H143V1119H125zM125 1119H154V1130H125zM125 1130H143V1141H125z"/>
<path fill="#f5fbf0" d="M397 831H408V842H397zM430 831H441V842H430zM331 842H375V854H331zM386 842H397V854H386zM441 842H452V854H441zM320 854H331V865H320zM375 854H397V865H375zM441 854H452V865H441zM264 865H320V876H264zM375 865H397V876H375zM441 865H452V876H441zM253 876H264V887H253zM375 876H397V887H375zM231 887H253V898H231zM375 887H386V898H375zM397 887H430V898H397zM375 898H386V909H375zM209 909H220V920H209zM209 920H220V931H209zM519 920H585V931H519zM209 931H220V942H209zM353 931H364V942H353zM508 931H519V942H508zM585 931H596V942H585zM209 942H220V953H209zM353 942H364V953H353zM508 942H519V953H508zM585 942H596V953H585zM209 953H220V964H209zM353 953H364V964H353zM508 953H519V964H508zM585 953H596V964H585zM585 964H596V975H585zM375 975H519V986H375zM585 975H596V986H585zM651 986H663V997H651zM674 986H680V997H674z"/>
<path fill="#eef9ea" d="M397 842H408V854H397zM430 842H441V854H430zM331 854H342V865H331zM364 854H375V865H364zM364 865H375V876H364zM430 865H441V876H430zM264 876H275V887H264zM397 876H408V887H397zM419 876H430V887H419zM364 887H375V898H364zM231 898H242V909H231zM364 898H375V909H364zM220 909H231V920H220zM353 909H364V920H353zM342 920H353V931H342zM519 931H530V942H519zM574 931H585V942H574zM342 942H353V953H342zM519 953H530V964H519zM508 986H519V997H508zM441 997H463V1008H441zM486 997H508V1008H486zM585 997H596V1008H585zM585 1008H596V1019H585zM187 1042H198V1053H187zM198 1064H209V1075H198zM198 1108H209V1119H198zM574 1119H585V1130H574zM563 1130H574V1141H563zM552 1141H563V1152H552zM530 1163H541V1174H530zM519 1174H530V1185H519zM508 1185H519V1196H508zM287 1196H298V1207H287zM298 1207H309V1219H298zM497 1207H508V1219H497zM430 1219H441V1230H430z"/>
<path fill="#ecf8e8" d="M408 842H430V854H408zM342 854H364V865H342zM397 854H441V865H397zM397 865H430V876H397zM275 876H331V887H275zM353 876H364V887H353zM408 876H419V887H408zM264 887H275V898H264zM331 887H364V898H331zM242 898H253V909H242zM342 898H364V909H342zM231 909H242V920H231zM342 909H353V920H342zM220 920H231V931H220zM331 920H342V931H331zM220 931H231V942H220zM331 931H342V942H331zM530 931H574V942H530zM220 942H231V953H220zM519 942H585V953H519zM220 953H231V964H220zM342 953H353V964H342zM574 953H585V964H574zM574 964H585V975H574zM209 975H220V986H209zM353 975H364V986H353zM574 975H585V986H574zM375 986H386V997H375zM408 986H419V997H408zM519 986H530V997H519zM574 986H585V997H574zM430 997H441V1008H430zM463 997H486V1008H463zM574 997H585V1008H574zM187 1008H198V1019H187zM574 1008H585V1019H574zM187 1019H198V1030H187zM585 1019H596V1030H585zM187 1030H198V1042H187zM585 1030H596V1042H585zM198 1053H209V1064H198zM585 1086H596V1097H585zM585 1097H596V1108H585zM574 1108H585V1119H574zM198 1119H209V1130H198zM209 1141H220V1152H209zM220 1152H231V1163H220zM541 1152H552V1163H541zM231 1163H242V1174H231zM242 1174H264V1185H242zM253 1185H287V1196H253zM497 1196H508V1207H497zM441 1219H497V1230H441z"/>
<path fill="#f3faee" d="M320 865H331V876H320zM364 876H375V887H364zM430 876H441V887H430zM253 887H264V898H253zM220 898H231V909H220zM364 909H375V920H364zM353 920H364V931H353zM209 964H220V975H209zM353 964H364V975H353zM519 964H530V975H519zM364 975H375V986H364zM519 975H530V986H519zM441 986H463V997H441zM585 986H596V997H585zM651 997H663V1008H651zM674 997H680V1008H674z"/>
<path fill="#eaf7e6" d="M331 865H342V876H331zM353 865H364V876H353zM331 876H353V887H331zM275 887H331V898H275zM253 898H264V909H253zM331 898H342V909H331zM242 909H253V920H242zM331 909H342V920H331zM231 920H242V931H231zM231 931H242V942H231zM331 942H342V953H331zM530 953H574V964H530zM220 964H231V975H220zM342 964H353V975H342zM209 986H220V997H209zM364 986H375V997H364zM386 986H408V997H386zM198 997H209V1008H198zM419 997H430V1008H419zM508 997H574V1008H508zM198 1008H209V1019H198zM452 1008H463V1019H452zM530 1008H574V1019H530zM198 1019H209V1030H198zM574 1019H585V1030H574zM198 1030H209V1042H198zM198 1042H209V1053H198zM585 1042H596V1053H585zM585 1053H596V1064H585zM209 1064H220V1075H209zM585 1064H596V1075H585zM209 1075H220V1086H209zM585 1075H596V1086H585zM209 1086H220V1097H209zM209 1097H220V1108H209zM574 1097H585V1108H574zM209 1108H220V1119H209zM209 1119H220V1130H209zM563 1119H574V1130H563zM209 1130H231V1141H209zM552 1130H563V1141H552zM220 1141H242V1152H220zM541 1141H552V1152H541zM231 1152H253V1163H231zM530 1152H541V1163H530zM242 1163H264V1174H242zM519 1163H530V1174H519zM264 1174H287V1185H264zM508 1174H519V1185H508zM287 1185H298V1196H287zM497 1185H508V1196H497zM298 1196H309V1207H298zM309 1207H320V1219H309zM408 1207H452V1219H408zM486 1207H497V1219H486zM331 1219H386V1230H331z"/>
<path fill="#e8f6e4" d="M342 865H353V876H342zM242 920H253V931H242zM320 920H331V931H320zM231 942H242V953H231zM331 953H342V964H331zM530 964H541V975H530zM220 975H231V986H220zM530 975H541V986H530zM530 986H541V997H530zM463 1008H475V1019H463zM264 1163H275V1174H264zM486 1185H497V1196H486zM452 1207H463V1219H452z"/>
<path fill="#e6f5e2" d="M264 898H275V909H264zM320 898H331V909H320zM320 931H331V942H320zM541 964H574V975H541zM563 975H574V986H563zM541 986H574V997H541zM209 997H220V1008H209zM408 997H419V1008H408zM441 1008H452V1019H441zM475 1008H508V1019H475zM519 1008H530V1019H519zM563 1019H574V1030H563zM574 1030H585V1042H574zM209 1053H220V1064H209zM574 1086H585V1097H574zM563 1108H574V1119H563zM220 1119H231V1130H220zM519 1152H530V1163H519zM508 1163H519V1174H508zM497 1174H508V1185H497zM309 1196H320V1207H309zM486 1196H497V1207H486zM320 1207H331V1219H320zM463 1207H486V1219H463z"/>
<path fill="#e4f4e0" d="M275 898H320V909H275zM342 975H353V986H342zM541 975H563V986H541zM220 986H231V997H220zM353 986H364V997H353zM209 1008H220V1019H209zM430 1008H441V1019H430zM508 1008H519V1019H508zM209 1019H220V1030H209zM530 1019H563V1030H530zM209 1030H220V1042H209zM563 1030H574V1042H563zM209 1042H220V1053H209zM574 1042H585V1053H574zM574 1053H585V1064H574zM574 1064H585V1075H574zM574 1075H585V1086H574zM220 1097H231V1108H220zM563 1097H574V1108H563zM220 1108H231V1119H220zM552 1119H563V1130H552zM231 1130H242V1141H231zM541 1130H552V1141H541zM242 1141H253V1152H242zM530 1141H541V1152H530zM253 1152H264V1163H253zM275 1163H287V1174H275zM287 1174H298V1185H287zM298 1185H309V1196H298zM475 1185H486V1196H475zM419 1196H441V1207H419zM331 1207H397V1219H331z"/>
<path fill="#e2f4de" d="M253 909H264V920H253zM320 909H331V920H320zM242 931H253V942H242zM231 953H242V964H231zM375 997H408V1008H375zM419 1008H430V1019H419zM508 1152H519V1163H508zM463 1185H475V1196H463zM320 1196H331V1207H320zM408 1196H419V1207H408zM441 1196H452V1207H441zM475 1196H486V1207H475z"/>
<path fill="#e0f3dc" d="M264 909H320V920H264zM253 920H264V931H253zM309 920H320V931H309zM242 942H253V953H242zM320 942H331V953H320zM231 964H242V975H231zM331 964H342V975H331zM220 997H231V1008H220zM519 1019H530V1030H519zM552 1030H563V1042H552zM563 1042H574V1053H563zM220 1064H231V1075H220zM220 1075H231V1086H220zM220 1086H231V1097H220zM563 1086H574V1097H563zM552 1108H563V1119H552zM231 1119H242V1130H231zM519 1141H530V1152H519zM264 1152H275V1163H264zM497 1163H508V1174H497zM486 1174H497V1185H486zM309 1185H320V1196H309zM331 1196H342V1207H331zM452 1196H475V1207H452z"/>
<path fill="#def2da" d="M264 920H309V931H264zM253 931H320V942H253zM242 953H253V964H242zM320 953H331V964H320zM231 975H242V986H231zM364 997H375V1008H364zM220 1008H231V1019H220zM408 1008H419V1019H408zM220 1019H231V1030H220zM452 1019H519V1030H452zM220 1030H231V1042H220zM530 1030H552V1042H530zM220 1042H231V1053H220zM220 1053H231V1064H220zM563 1053H574V1064H563zM563 1064H574V1075H563zM563 1075H574V1086H563zM552 1097H563V1108H552zM231 1108H242V1119H231zM541 1119H552V1130H541zM242 1130H253V1141H242zM530 1130H541V1141H530zM253 1141H264V1152H253zM497 1152H508V1163H497zM287 1163H298V1174H287zM298 1174H309V1185H298zM475 1174H486V1185H475zM452 1185H463V1196H452zM342 1196H408V1207H342z"/>
<path fill="#f0f9ec" d="M342 931H353V942H342zM419 986H441V997H419zM463 986H508V997H463zM596 997H607V1008H596zM596 1008H618V1019H596zM176 1019H187V1030H176zM596 1019H629V1030H596zM176 1030H187V1042H176zM596 1030H640V1042H596zM596 1042H640V1053H596zM187 1053H198V1064H187zM596 1053H629V1064H596zM596 1064H618V1075H596zM187 1075H209V1086H187zM596 1075H607V1086H596zM198 1086H209V1097H198zM596 1086H607V1097H596zM198 1097H209V1108H198zM596 1097H618V1108H596zM585 1108H629V1119H585zM585 1119H629V1130H585zM574 1130H618V1141H574zM563 1141H607V1152H563zM552 1152H596V1163H552zM541 1163H585V1174H541zM530 1174H552V1185H530zM563 1174H574V1185H563zM519 1185H541V1196H519zM264 1196H287V1207H264zM508 1196H541V1207H508zM275 1207H298V1219H275zM508 1207H519V1219H508zM287 1219H309V1230H287zM419 1219H430V1230H419zM497 1219H519V1230H497zM342 1230H375V1241H342zM430 1230H486V1241H430zM508 1230H519V1241H508zM353 1241H364V1252H353zM441 1241H452V1252H441zM463 1241H475V1252H463z"/>
<path fill="#dcf1d8" d="M253 942H264V953H253zM331 975H342V986H331zM231 986H242V997H231zM342 986H353V997H342zM441 1019H452V1030H441zM231 1097H242V1108H231zM508 1141H519V1152H508zM486 1163H497V1174H486zM320 1185H331V1196H320zM441 1185H452V1196H441z"/>
<path fill="#dbf1d5" d="M264 942H320V953H264zM242 964H253V975H242zM397 1008H408V1019H397zM552 1042H563V1053H552zM242 1119H253V1130H242zM275 1152H287V1163H275zM463 1174H475V1185H463zM419 1185H441V1196H419z"/>
<path fill="#d9f0d3" d="M253 953H275V964H253zM309 953H320V964H309zM320 964H331V975H320zM231 997H242V1008H231zM353 997H364V1008H353zM231 1008H242V1019H231zM386 1008H397V1019H386zM231 1019H242V1030H231zM430 1019H441V1030H430zM231 1030H242V1042H231zM519 1030H530V1042H519zM231 1042H242V1053H231zM541 1042H552V1053H541zM231 1053H242V1064H231zM552 1053H563V1064H552zM231 1064H242V1075H231zM552 1064H563V1075H552zM231 1075H242V1086H231zM552 1075H563V1086H552zM231 1086H242V1097H231zM552 1086H563V1097H552zM541 1108H552V1119H541zM530 1119H541V1130H530zM253 1130H264V1141H253zM519 1130H530V1141H519zM264 1141H275V1152H264zM486 1152H497V1163H486zM475 1163H486V1174H475zM309 1174H320V1185H309zM452 1174H463V1185H452zM331 1185H353V1196H331zM408 1185H419V1196H408z"/>
<path fill="#d5efd2" d="M275 953H309V964H275zM419 1019H430V1030H419zM508 1030H519V1042H508zM530 1042H541V1053H530zM541 1097H552V1108H541zM242 1108H253V1119H242zM497 1141H508V1152H497zM298 1163H309V1174H298zM397 1185H408V1196H397z"/>
<path fill="#d2edd0" d="M253 964H264V975H253zM242 975H253V986H242zM541 1053H552V1064H541zM320 1174H331V1185H320zM441 1174H452V1185H441zM353 1185H364V1196H353zM386 1185H397V1196H386z"/>
<path fill="#ceeccf" d="M264 964H320V975H264zM242 986H253V997H242zM331 986H342V997H331zM375 1008H386V1019H375zM463 1030H475V1042H463zM497 1030H508V1042H497zM541 1086H552V1097H541zM242 1097H253V1108H242zM530 1108H541V1119H530zM253 1119H264V1130H253zM519 1119H530V1130H519zM508 1130H519V1141H508zM287 1152H298V1163H287zM475 1152H486V1163H475zM463 1163H475V1174H463zM364 1185H386V1196H364z"/>
<path fill="#c8e9cc" d="M253 975H264V986H253zM320 975H331V986H320zM441 1030H452V1042H441zM519 1042H530V1053H519zM530 1053H541V1064H530zM541 1064H552V1075H541zM541 1075H552V1086H541zM530 1097H541V1108H530zM253 1108H264V1119H253z"/>
<path fill="#c4e8ca" d="M264 975H287V986H264zM309 975H320V986H309zM364 1008H375V1019H364zM408 1019H419V1030H408zM430 1030H441V1042H430zM530 1064H541V1075H530zM530 1075H541V1086H530zM530 1086H541V1097H530zM519 1108H530V1119H519zM508 1119H519V1130H508zM497 1130H508V1141H497zM475 1141H486V1152H475zM298 1152H309V1163H298zM463 1152H475V1163H463zM441 1163H452V1174H441zM353 1174H364V1185H353zM397 1174H408V1185H397z"/>
<path fill="#c1e7c9" d="M287 975H309V986H287zM253 986H264V997H253zM508 1042H519V1053H508zM519 1053H530V1064H519zM519 1064H530V1075H519zM519 1075H530V1086H519zM519 1086H530V1097H519zM519 1097H530V1108H519zM287 1141H298V1152H287zM320 1163H331V1174H320zM364 1174H397V1185H364z"/>
<path fill="#b9e4c9" d="M264 986H275V997H264zM320 986H331V997H320zM253 997H264V1008H253zM253 1086H264V1097H253zM486 1130H497V1141H486zM463 1141H475V1152H463zM331 1163H342V1174H331zM430 1163H441V1174H430z"/>
<path fill="#b5e2ca" d="M275 986H287V997H275zM331 997H342V1008H331zM253 1008H264V1019H253zM353 1008H364V1019H353zM253 1019H264V1030H253zM397 1019H408V1030H397zM253 1030H264V1042H253zM419 1030H430V1042H419zM253 1042H264V1053H253zM463 1042H475V1053H463zM253 1053H264V1064H253zM253 1064H264V1075H253zM253 1075H264V1086H253zM264 1108H275V1119H264zM508 1108H519V1119H508zM497 1119H508V1130H497zM475 1130H486V1141H475zM298 1141H309V1152H298zM309 1152H320V1163H309zM441 1152H452V1163H441zM342 1163H353V1174H342zM408 1163H430V1174H408z"/>
<path fill="#b1e1cc" d="M287 986H298V997H287zM309 986H320V997H309zM441 1042H463V1053H441zM475 1042H486V1053H475zM497 1042H508V1053H497zM508 1053H519V1064H508zM264 1097H275V1108H264zM275 1119H287V1130H275zM287 1130H298V1141H287zM452 1141H463V1152H452z"/>
<path fill="#a8ddcf" d="M298 986H309V997H298zM264 997H275V1008H264zM497 1108H508V1119H497zM486 1119H497V1130H486zM463 1130H475V1141H463zM441 1141H452V1152H441zM320 1152H331V1163H320zM430 1152H441V1163H430zM364 1163H397V1174H364z"/>
<path fill="#cbebcd" d="M242 997H253V1008H242zM342 997H353V1008H342zM242 1008H253V1019H242zM242 1019H253V1030H242zM242 1030H253V1042H242zM452 1030H463V1042H452zM475 1030H497V1042H475zM242 1042H253V1053H242zM242 1053H253V1064H242zM242 1064H253V1075H242zM242 1075H253V1086H242zM242 1086H253V1097H242zM264 1130H275V1141H264zM275 1141H287V1152H275zM486 1141H497V1152H486zM309 1163H320V1174H309zM452 1163H463V1174H452zM331 1174H353V1185H331zM408 1174H441V1185H408z"/>
<path fill="#a0dad2" d="M275 997H287V1008H275zM320 997H331V1008H320zM264 1008H275V1019H264zM264 1019H275V1030H264zM264 1030H275V1042H264zM408 1030H419V1042H408zM264 1042H275V1053H264zM264 1053H275V1064H264zM486 1053H508V1064H486zM264 1064H275V1075H264zM497 1064H508V1075H497zM264 1075H275V1086H264zM264 1086H275V1097H264zM497 1097H508V1108H497zM275 1108H287V1119H275zM486 1108H497V1119H486zM475 1119H486V1130H475zM331 1152H342V1163H331zM419 1152H430V1163H419z"/>
<path fill="#9bd8d3" d="M287 997H298V1008H287zM309 997H320V1008H309zM475 1053H486V1064H475zM486 1064H497V1075H486zM497 1075H508V1086H497zM497 1086H508V1097H497zM275 1097H287V1108H275zM287 1119H298V1130H287zM298 1130H309V1141H298zM452 1130H463V1141H452zM309 1141H320V1152H309zM408 1152H419V1163H408z"/>
<path fill="#97d6d4" d="M298 997H309V1008H298zM331 1008H342V1019H331zM419 1042H430V1053H419zM475 1064H486V1075H475zM486 1075H497V1086H486zM486 1097H497V1108H486zM475 1108H486V1119H475zM430 1141H441V1152H430zM342 1152H353V1163H342z"/>
<path fill="#93d4d6" d="M275 1008H287V1019H275zM463 1053H475V1064H463zM486 1086H497V1097H486zM463 1119H475V1130H463zM397 1152H408V1163H397z"/>
<path fill="#8fd1d7" d="M287 1008H298V1019H287zM275 1019H287V1030H275zM375 1019H386V1030H375zM275 1030H287V1042H275zM275 1042H287V1053H275zM275 1053H287V1064H275zM275 1064H287V1075H275zM275 1075H287V1086H275zM475 1075H486V1086H475zM275 1086H287V1097H275zM475 1097H486V1108H475zM287 1108H298V1119H287zM441 1130H452V1141H441zM320 1141H331V1152H320zM353 1152H397V1163H353z"/>
<path fill="#86cdda" d="M298 1008H309V1019H298zM320 1008H331V1019H320zM397 1030H408V1042H397zM430 1053H452V1064H430zM475 1086H486V1097H475zM298 1119H309V1130H298zM452 1119H463V1130H452zM309 1130H320V1141H309z"/>
<path fill="#82cadb" d="M309 1008H320V1019H309zM287 1019H298V1030H287zM364 1019H375V1030H364zM287 1030H298V1042H287zM287 1042H298V1053H287zM408 1042H419V1053H408zM452 1064H463V1075H452zM463 1075H475V1086H463zM287 1097H298V1108H287zM463 1097H475V1108H463zM430 1130H441V1141H430zM331 1141H342V1152H331zM408 1141H419V1152H408z"/>
<path fill="#acdfcd" d="M342 1008H353V1019H342zM430 1042H441V1053H430zM486 1042H497V1053H486zM508 1064H519V1075H508zM508 1075H519V1086H508zM508 1086H519V1097H508zM508 1097H519V1108H508zM353 1163H364V1174H353zM397 1163H408V1174H397z"/>
<path fill="#7ec8dd" d="M298 1019H309V1030H298zM287 1053H298V1064H287zM287 1064H298V1075H287zM287 1075H298V1086H287zM452 1075H463V1086H452zM287 1086H298V1097H287zM298 1108H309V1119H298zM452 1108H463V1119H452zM441 1119H452V1130H441zM342 1141H353V1152H342zM397 1141H408V1152H397z"/>
<path fill="#76c2dc" d="M309 1019H353V1030H309zM298 1030H309V1042H298zM386 1030H397V1042H386zM419 1053H430V1064H419zM441 1064H452V1075H441zM452 1097H463V1108H452zM309 1119H320V1130H309zM320 1130H331V1141H320zM353 1141H364V1152H353zM386 1141H397V1152H386z"/>
<path fill="#7ac5de" d="M353 1019H364V1030H353zM463 1086H475V1097H463zM419 1130H430V1141H419z"/>
<path fill="#a4dcd0" d="M386 1019H397V1030H386z"/>
<path fill="#6db7d6" d="M309 1030H331V1042H309zM298 1053H309V1064H298zM298 1086H309V1097H298zM309 1108H320V1119H309zM331 1130H342V1141H331z"/>
<path fill="#66afd2" d="M331 1030H342V1042H331zM364 1030H375V1042H364zM309 1053H320V1064H309zM419 1064H430V1075H419zM430 1075H441V1086H430zM309 1097H320V1108H309zM320 1119H331V1130H320zM408 1119H419V1130H408z"/>
<path fill="#5ca5cc" d="M342 1030H364V1042H342zM309 1064H320V1075H309zM309 1086H320V1097H309z"/>
<path fill="#70bad8" d="M375 1030H386V1042H375zM419 1119H430V1130H419z"/>
<path fill="#73beda" d="M298 1042H309V1053H298zM430 1064H441V1075H430zM441 1075H452V1086H441zM452 1086H463V1097H452zM298 1097H309V1108H298zM441 1108H452V1119H441zM430 1119H441V1130H430zM408 1130H419V1141H408zM364 1141H386V1152H364z"/>
<path fill="#69b3d4" d="M309 1042H320V1053H309zM397 1042H408V1053H397zM408 1053H419V1064H408zM298 1064H309V1075H298zM298 1075H309V1086H298zM441 1086H452V1097H441zM441 1097H452V1108H441zM342 1130H353V1141H342zM397 1130H408V1141H397z"/>
<path fill="#63acd0" d="M320 1042H331V1053H320zM430 1108H441V1119H430zM353 1130H364V1141H353zM386 1130H397V1141H386z"/>
<path fill="#59a1cb" d="M331 1042H342V1053H331zM386 1042H397V1053H386zM320 1053H331V1064H320zM309 1075H320V1086H309zM419 1075H430V1086H419zM430 1086H441V1097H430zM430 1097H441V1108H430zM320 1108H331V1119H320zM419 1108H430V1119H419zM331 1119H342V1130H331zM397 1119H408V1130H397z"/>
<path fill="#529bc7" d="M342 1042H364V1053H342zM320 1064H331V1075H320zM320 1075H331V1086H320zM320 1086H331V1097H320zM342 1119H353V1130H342z"/>
<path fill="#4f97c5" d="M364 1042H375V1053H364zM397 1108H408V1119H397zM353 1119H364V1130H353zM386 1119H397V1130H386z"/>
<path fill="#569ec9" d="M375 1042H386V1053H375zM397 1053H408V1064H397zM408 1064H419V1075H408zM320 1097H331V1108H320zM408 1108H419V1119H408z"/>
<path fill="#468dc0" d="M331 1053H342V1064H331zM386 1053H397V1064H386zM397 1064H408V1075H397zM408 1097H419V1108H408z"/>
<path fill="#4689bc" d="M342 1053H386V1064H342zM331 1064H342V1075H331zM331 1075H342V1086H331zM331 1086H342V1097H331zM408 1086H419V1097H408zM331 1097H342V1108H331zM397 1097H408V1108H397zM342 1108H364V1119H342zM386 1108H397V1119H386z"/>
<path fill="#8bcfd9" d="M452 1053H463V1064H452zM463 1064H475V1075H463zM463 1108H475V1119H463zM419 1141H430V1152H419z"/>
<path fill="#4682b4" d="M342 1064H353V1075H342zM397 1086H408V1097H397z"/>
<path fill="#467eb0" d="M353 1064H364V1075H353zM353 1097H364V1108H353zM386 1097H397V1108H386z"/>
<path fill="#467aac" d="M364 1064H397V1075H364zM353 1075H364V1086H353zM386 1075H397V1086H386zM353 1086H364V1097H353zM386 1086H397V1097H386zM364 1097H386V1108H364z"/>
<path fill="#4685b8" d="M342 1075H353V1086H342zM397 1075H408V1086H397zM342 1086H353V1097H342zM342 1097H353V1108H342zM364 1108H386V1119H364z"/>
<path fill="#4673a4" d="M364 1075H386V1086H364zM364 1086H386V1097H364z"/>
<path fill="#4c94c4" d="M408 1075H419V1086H408zM419 1086H430V1097H419zM419 1097H430V1108H419zM364 1119H386V1130H364z"/>
<path fill="#bde5c8" d="M253 1097H264V1108H253zM264 1119H275V1130H264zM275 1130H287V1141H275zM452 1152H463V1163H452z"/>
<path fill="#4890c2" d="M331 1108H342V1119H331z"/>
<path fill="#5fa8ce" d="M364 1130H386V1141H364z"/>
</g>
<g shape-rendering="crispEdges">
<path fill="#edf4fb" d="M863 765H886V776H863zM852 776H897V787H852zM841 787H908V798H841zM841 798H919V809H841zM830 809H919V820H830zM841 820H919V831H841zM852 831H897V842H852zM841 842H897V854H841zM830 854H886V865H830zM819 865H841V876H819zM819 876H830V887H819zM863 876H874V887H863zM874 898H886V909H874zM874 909H886V920H874zM908 942H919V953H908zM908 953H919V964H908zM908 964H919V975H908zM908 975H930V986H908z"/>
<path fill="#f9fcff" d="M919 809H941V820H919zM919 820H952V831H919zM897 831H963V842H897zM985 831H996V842H985zM764 842H775V854H764zM897 842H1007V854H897zM764 854H775V865H764zM797 854H808V865H797zM886 854H1018V865H886zM874 865H1029V876H874zM753 876H764V887H753zM874 876H1040V887H874zM874 887H1051V898H874zM886 898H1063V909H886zM886 909H1074V920H886zM753 920H764V931H753zM886 920H1063V931H886zM742 931H753V942H742zM897 931H1051V942H897zM1195 931H1206V942H1195zM731 942H742V953H731zM919 942H1063V953H919zM1217 942H1228V953H1217zM731 953H742V964H731zM919 953H1074V964H919zM742 964H753V975H742zM919 964H1085V975H919zM930 975H1085V986H930zM1162 975H1173V986H1162zM753 986H764V997H753zM952 986H963V997H952zM974 986H1063V997H974zM1151 986H1162V997H1151zM742 997H753V1008H742zM996 997H1018V1008H996zM1040 997H1063V1008H1040zM1195 997H1206V1008H1195zM680 1097H698V1108H680zM680 1108H698V1119H680zM680 1119H709V1130H680zM680 1130H698V1141H680zM1118 1163H1140V1174H1118z"/>
<path fill="#78b2d7" d="M775 842H786V854H775zM775 854H797V865H775zM764 865H775V876H764zM753 887H764V898H753zM753 898H764V909H753zM1096 942H1107V953H1096zM1096 953H1107V964H1096zM819 964H830V975H819zM1085 964H1118V975H1085zM830 975H841V986H830zM1085 975H1107V986H1085zM863 986H897V997H863zM1063 986H1107V997H1063zM1063 997H1096V1008H1063zM1040 1008H1051V1019H1040zM1085 1008H1096V1019H1085zM731 1019H753V1030H731zM764 1019H775V1030H764zM1029 1019H1051V1030H1029zM731 1030H764V1042H731zM742 1042H764V1053H742zM753 1053H786V1064H753zM1162 1053H1173V1064H1162zM753 1064H786V1075H753zM775 1086H786V1097H775zM1051 1152H1063V1163H1051zM1029 1163H1040V1174H1029zM1018 1174H1029V1185H1018zM1063 1174H1074V1185H1063zM841 1185H874V1196H841zM841 1196H863V1207H841zM1051 1196H1063V1207H1051zM830 1207H863V1219H830zM841 1219H863V1230H841zM1051 1219H1063V1230H1051z"/>
<path fill="#99c7e2" d="M808 854H819V865H808zM1096 887H1107V898H1096zM852 898H863V909H852zM808 920H819V931H808zM863 931H874V942H863zM874 953H886V964H874zM886 975H897V986H886zM852 1163H863V1174H852z"/>
<path fill="#a7cfe5" d="M819 854H830V865H819zM1107 865H1140V876H1107zM1096 876H1151V887H1096zM819 887H830V898H819zM1107 887H1162V898H1107zM1151 898H1162V909H1151zM786 909H808V920H786zM775 920H808V931H775zM753 931H808V942H753zM742 942H786V953H742zM742 953H764V964H742zM1129 1008H1140V1019H1129zM1129 1019H1151V1030H1129zM1040 1185H1051V1196H1040zM1029 1196H1040V1207H1029zM1018 1207H1051V1219H1018zM1007 1219H1040V1230H1007zM996 1230H1040V1241H996zM996 1241H1007V1252H996zM1018 1241H1029V1252H1018z"/>
<path fill="#7cb5d9" d="M775 865H786V876H775zM764 876H775V887H764zM764 898H775V909H764zM1085 953H1096V964H1085zM841 975H852V986H841zM1129 975H1140V986H1129zM1107 986H1118V997H1107zM1129 986H1140V997H1129zM1096 997H1107V1008H1096zM1140 997H1162V1008H1140zM1029 1008H1040V1019H1029zM1018 1019H1029V1030H1018zM1107 1019H1118V1030H1107zM764 1030H775V1042H764zM1140 1042H1162V1053H1140zM1007 1196H1018V1207H1007zM996 1207H1007V1219H996z"/>
<path fill="#8cbfdf" d="M786 865H797V876H786zM775 876H786V887H775zM863 920H874V931H863zM1096 931H1107V942H1096zM1085 942H1096V953H1085zM830 964H841V975H830zM852 975H863V986H852zM874 975H886V986H874zM963 986H974V997H963zM1118 986H1129V997H1118zM1107 997H1118V1008H1107zM996 1008H1007V1019H996zM1018 1008H1029V1019H1018zM775 1019H786V1030H775zM764 1042H775V1053H764zM786 1042H797V1053H786zM1162 1042H1173V1053H1162zM841 1174H852V1185H841zM974 1219H985V1230H974z"/>
<path fill="#94c5e1" d="M797 865H808V876H797zM786 876H808V887H786zM786 887H819V898H786zM786 898H852V909H786zM1085 898H1118V909H1085zM819 909H830V920H819zM863 909H874V920H863zM1074 909H1107V920H1074zM1063 920H1096V931H1063zM808 931H830V942H808zM1051 931H1096V942H1051zM1206 931H1228V942H1206zM797 942H808V953H797zM863 942H874V953H863zM1063 942H1085V953H1063zM1206 942H1217V953H1206zM1206 953H1234V964H1206zM1206 964H1234V975H1206zM1195 975H1234V986H1195zM1195 986H1234V997H1195zM1018 997H1029V1008H1018zM1118 997H1129V1008H1118zM1206 997H1217V1008H1206zM1228 997H1234V1008H1228zM1007 1008H1018V1019H1007zM1162 1008H1173V1019H1162zM1151 1019H1184V1030H1151zM1140 1030H1151V1042H1140zM1162 1030H1195V1042H1162zM1173 1042H1195V1053H1173zM742 1075H753V1086H742zM753 1086H764V1097H753zM753 1097H764V1108H753zM1040 1163H1063V1174H1040zM1051 1207H1063V1219H1051z"/>
<path fill="#a3cce4" d="M808 865H819V876H808zM808 876H819V887H808zM1085 887H1096V898H1085zM1074 898H1085V909H1074zM1118 898H1129V909H1118zM1140 898H1151V909H1140zM775 909H786V920H775zM808 909H819V920H808zM764 920H775V931H764zM786 942H797V953H786zM764 953H775V964H764zM753 964H764V975H753zM1118 1008H1129V1019H1118zM1140 1008H1151V1019H1140zM1118 1019H1129V1030H1118zM1129 1030H1140V1042H1129zM1029 1185H1040V1196H1029zM1018 1196H1029V1207H1018zM1040 1196H1051V1207H1040zM1040 1219H1051V1230H1040zM985 1230H996V1241H985z"/>
<path fill="#e4eef8" d="M841 865H874V876H841z"/>
<path fill="#d6e5f4" d="M830 876H841V887H830z"/>
<path fill="#d9e7f4" d="M841 876H863V887H841zM886 942H897V953H886zM897 964H908V975H897z"/>
<path fill="#84badc" d="M764 887H775V898H764zM797 953H830V964H797zM874 964H886V975H874zM1118 975H1129V986H1118zM996 1019H1007V1030H996zM1029 1174H1040V1185H1029z"/>
<path fill="#90c2e0" d="M775 887H786V898H775zM775 898H786V909H775zM830 909H863V920H830zM1107 909H1118V920H1107zM819 920H830V931H819zM1096 920H1107V931H1096zM830 931H863V942H830zM808 942H863V953H808zM1195 942H1206V953H1195zM863 953H874V964H863zM1074 953H1085V964H1074zM1195 953H1206V964H1195zM841 964H874V975H841zM1195 964H1206V975H1195zM863 975H874V986H863zM1184 975H1195V986H1184zM930 986H941V997H930zM1029 997H1040V1008H1029zM1129 997H1140V1008H1129zM1107 1008H1118V1019H1107zM1151 1008H1162V1019H1151zM775 1030H797V1042H775zM1118 1030H1129V1042H1118zM1151 1030H1162V1042H1151zM775 1042H786V1053H775zM1173 1053H1184V1064H1173zM753 1075H775V1086H753zM764 1086H775V1097H764zM764 1097H775V1108H764zM753 1108H764V1119H753zM841 1163H852V1174H841zM852 1174H863V1185H852zM1018 1185H1029V1196H1018z"/>
<path fill="#acd2e6" d="M830 887H852V898H830zM863 898H874V909H863zM874 920H886V931H874z"/>
<path fill="#b1d4e7" d="M852 887H863V898H852zM874 942H886V953H874zM886 964H897V975H886z"/>
<path fill="#d4e4f3" d="M863 887H874V898H863zM886 953H897V964H886z"/>
<path fill="#9ecae3" d="M1129 898H1140V909H1129zM775 953H786V964H775zM908 986H919V997H908zM1007 1207H1018V1219H1007zM996 1219H1007V1230H996z"/>
<path fill="#80b7da" d="M764 909H775V920H764zM1107 975H1118V986H1107zM1051 1185H1063V1196H1051zM985 1219H996V1230H985z"/>
<path fill="#88bddd" d="M1118 909H1129V920H1118zM830 920H863V931H830zM1107 920H1118V931H1107zM786 953H797V964H786zM830 953H863V964H830zM985 997H996V1008H985zM1096 1008H1107V1019H1096zM786 1019H797V1030H786zM1007 1019H1018V1030H1007zM797 1030H808V1042H797zM797 1042H808V1053H797zM1129 1042H1140V1053H1129zM775 1075H786V1086H775zM764 1108H775V1119H764zM841 1152H852V1163H841zM863 1174H874V1185H863z"/>
<path fill="#619dcc" d="M1129 909H1140V920H1129zM1118 953H1129V964H1118zM1129 964H1140V975H1129zM1140 975H1151V986H1140zM863 1008H874V1019H863zM985 1008H996V1019H985zM1051 1141H1063V1152H1051zM1074 1174H1085V1185H1074zM819 1185H830V1196H819z"/>
<path fill="#67a3cf" d="M1140 909H1151V920H1140zM1184 953H1195V964H1184zM764 975H797V986H764zM764 986H786V997H764zM830 986H841V997H830zM753 997H786V1008H753zM852 997H897V1008H852zM1085 1019H1096V1030H1085zM808 1030H819V1042H808zM808 1042H819V1053H808zM1118 1053H1129V1064H1118zM1129 1064H1162V1075H1129zM786 1075H797V1086H786zM1129 1075H1162V1086H1129zM830 1130H852V1141H830zM830 1163H841V1174H830zM874 1174H886V1185H874zM874 1185H886V1196H874zM819 1196H830V1207H819zM985 1196H996V1207H985zM963 1207H974V1219H963z"/>
<path fill="#5b97c9" d="M1118 920H1129V931H1118zM797 975H808V986H797zM819 986H830V997H819zM786 997H797V1008H786zM841 997H852V1008H841zM897 997H908V1008H897zM941 997H952V1008H941zM797 1008H808V1019H797zM886 1008H897V1019H886zM808 1019H819V1030H808zM1063 1019H1085V1030H1063zM1007 1030H1018V1042H1007zM1107 1042H1118V1053H1107zM786 1086H797V1097H786zM786 1097H797V1108H786zM764 1119H775V1130H764zM852 1130H863V1141H852zM852 1141H863V1152H852zM1063 1141H1074V1152H1063zM874 1163H886V1174H874zM886 1174H897V1185H886zM996 1174H1007V1185H996zM985 1185H996V1196H985zM1063 1185H1074V1196H1063zM963 1196H985V1207H963zM874 1207H886V1219H874zM1063 1207H1074V1219H1063z"/>
<path fill="#4676ab" d="M1129 920H1151V931H1129zM1173 953H1184V964H1173zM1173 964H1184V975H1173zM952 1008H963V1019H952zM930 1019H941V1030H930zM985 1030H996V1042H985zM1085 1053H1096V1064H1085zM1085 1064H1096V1075H1085zM941 1097H996V1108H941zM797 1130H808V1141H797zM863 1130H874V1141H863zM930 1130H941V1141H930zM1007 1130H1040V1141H1007zM886 1152H897V1163H886zM819 1163H830V1174H819zM808 1185H819V1196H808zM930 1185H941V1196H930zM908 1196H919V1207H908zM897 1207H908V1219H897z"/>
<path fill="#d0e2f2" d="M874 931H886V942H874z"/>
<path fill="#dbe8f5" d="M886 931H897V942H886zM897 942H908V953H897zM897 953H908V964H897z"/>
<path fill="#5e9aca" d="M1107 931H1118V942H1107zM908 997H919V1008H908zM852 1008H863V1019H852zM874 1008H886V1019H874zM1129 1097H1140V1108H1129zM819 1141H830V1152H819zM874 1196H886V1207H874z"/>
<path fill="#4679af" d="M1118 931H1129V942H1118zM1129 953H1140V964H1129zM1140 964H1151V975H1140zM852 1119H863V1130H852zM996 1130H1007V1141H996zM808 1141H819V1152H808z"/>
<path fill="#466fa1" d="M1129 931H1162V942H1129zM1129 942H1173V953H1129zM1140 953H1173V964H1140zM1162 964H1173V975H1162zM952 1019H963V1030H952zM930 1030H985V1042H930zM908 1042H996V1053H908zM897 1053H1007V1064H897zM897 1064H1040V1075H897zM886 1075H1040V1086H886zM874 1086H1040V1097H874zM874 1097H930V1108H874zM996 1097H1040V1108H996zM874 1108H930V1119H874zM996 1108H1040V1119H996zM863 1119H930V1130H863zM1007 1119H1029V1130H1007zM874 1130H930V1141H874zM775 1141H808V1152H775zM886 1141H930V1152H886zM775 1152H819V1163H775zM897 1152H919V1163H897zM930 1152H941V1163H930zM786 1163H819V1174H786zM797 1174H808V1185H797zM919 1174H941V1185H919zM1096 1174H1107V1185H1096zM908 1207H919V1219H908zM897 1219H930V1230H897zM897 1230H930V1241H897zM908 1241H919V1252H908z"/>
<path fill="#64a0ce" d="M1107 942H1118V953H1107zM786 986H797V997H786zM919 997H930V1008H919zM963 997H974V1008H963zM1051 1030H1063V1042H1051zM1096 1030H1107V1042H1096zM808 1053H819V1064H808zM797 1064H808V1075H797zM1118 1064H1129V1075H1118zM1129 1086H1151V1097H1129zM819 1130H830V1141H819zM886 1185H897V1196H886zM996 1185H1007V1196H996z"/>
<path fill="#467cb4" d="M1118 942H1129V953H1118zM1096 1108H1107V1119H1096zM1129 1130H1140V1141H1129zM819 1152H830V1163H819zM919 1185H930V1196H919z"/>
<path fill="#75afd6" d="M1107 953H1118V964H1107zM797 964H819V975H797zM1118 964H1129V975H1118zM852 986H863V997H852zM897 986H908V997H897zM974 997H985V1008H974zM742 1008H753V1019H742zM775 1008H786V1019H775zM1051 1008H1085V1019H1051zM753 1019H764V1030H753zM1107 1030H1118V1042H1107zM753 1119H764V1130H753zM830 1141H852V1152H830zM1040 1152H1051V1163H1040zM863 1163H874V1174H863zM830 1185H841V1196H830zM830 1196H841V1207H830zM863 1196H874V1207H863zM863 1207H874V1219H863zM974 1207H996V1219H974z"/>
<path fill="#71add4" d="M764 964H775V975H764zM1184 964H1195V975H1184zM930 997H941V1008H930zM1051 1019H1063V1030H1051zM1018 1030H1051V1042H1018zM786 1064H797V1075H786zM830 1152H841V1163H830zM830 1174H841V1185H830z"/>
<path fill="#6eaad2" d="M775 964H786V975H775zM819 975H830V986H819zM1096 1019H1107V1030H1096zM1118 1042H1129V1053H1118zM786 1053H797V1064H786zM775 1097H786V1108H775zM775 1108H786V1119H775zM852 1152H863V1163H852zM1029 1152H1040V1163H1029zM1063 1152H1074V1163H1063zM1018 1163H1029V1174H1018zM1063 1163H1074V1174H1063zM1007 1174H1018V1185H1007zM1007 1185H1018V1196H1007z"/>
<path fill="#6ba7d1" d="M786 964H797V975H786zM841 986H852V997H841zM941 986H952V997H941zM1140 986H1151V997H1140zM753 1008H775V1019H753zM786 1008H797V1019H786zM797 1019H808V1030H797zM797 1053H808V1064H797zM1129 1053H1162V1064H1129zM1162 1064H1173V1075H1162zM996 1196H1007V1207H996z"/>
<path fill="#4673a6" d="M1151 964H1162V975H1151zM941 1019H952V1030H941zM963 1019H974V1030H963zM919 1030H930V1042H919zM897 1042H908V1053H897zM1007 1053H1051V1064H1007zM886 1064H897V1075H886zM1040 1064H1051V1075H1040zM874 1075H886V1086H874zM930 1097H941V1108H930zM1040 1097H1051V1108H1040zM863 1108H874V1119H863zM1040 1108H1051V1119H1040zM1107 1108H1129V1119H1107zM996 1119H1007V1130H996zM1029 1119H1040V1130H1029zM775 1130H797V1141H775zM930 1141H941V1152H930zM808 1174H819V1185H808zM908 1174H919V1185H908zM919 1196H930V1207H919zM919 1207H930V1219H919zM886 1219H897V1230H886zM930 1219H941V1230H930z"/>
<path fill="#518bc0" d="M808 975H819V986H808zM1129 1108H1140V1119H1129zM1007 1163H1018V1174H1007zM1063 1196H1074V1207H1063zM930 1207H941V1219H930z"/>
<path fill="#cce1f0" d="M897 975H908V986H897z"/>
<path fill="#4a82b9" d="M1151 975H1162V986H1151zM963 1008H974V1019H963zM974 1019H985V1030H974zM830 1030H841V1042H830zM897 1030H908V1042H897zM886 1042H897V1053H886zM1007 1042H1018V1053H1007zM1063 1042H1096V1053H1063zM1063 1053H1074V1064H1063zM1096 1053H1107V1064H1096zM1063 1064H1085V1075H1063zM1096 1064H1107V1075H1096zM808 1075H863V1086H808zM1051 1075H1063V1086H1051zM808 1086H863V1097H808zM1051 1086H1063V1097H1051zM1107 1086H1118V1097H1107zM819 1097H863V1108H819zM1051 1097H1063V1108H1051zM1118 1097H1129V1108H1118zM1151 1097H1173V1108H1151zM819 1108H852V1119H819zM941 1108H963V1119H941zM1063 1108H1085V1119H1063zM1140 1108H1184V1119H1140zM786 1119H797V1130H786zM974 1119H996V1130H974zM1051 1119H1074V1130H1051zM1151 1119H1184V1130H1151zM764 1130H775V1141H764zM1063 1130H1074V1141H1063zM1151 1130H1173V1141H1151zM863 1141H874V1152H863zM996 1141H1007V1152H996zM1140 1141H1162V1152H1140zM874 1152H886V1163H874zM1007 1152H1018V1163H1007zM1140 1152H1151V1163H1140zM1085 1174H1096V1185H1085zM1085 1185H1096V1196H1085zM930 1196H941V1207H930zM1074 1196H1096V1207H1074zM1063 1230H1074V1241H1063z"/>
<path fill="#5894c7" d="M797 986H808V997H797zM797 997H808V1008H797zM819 997H841V1008H819zM808 1008H852V1019H808zM897 1008H941V1019H897zM974 1008H985V1019H974zM852 1019H897V1030H852zM985 1019H996V1030H985zM863 1030H886V1042H863zM1085 1030H1096V1042H1085zM852 1042H874V1053H852zM819 1053H830V1064H819zM841 1053H863V1064H841zM1107 1053H1118V1064H1107zM808 1064H819V1075H808zM1118 1075H1129V1086H1118zM1074 1086H1096V1097H1074zM1151 1086H1162V1097H1151zM786 1108H797V1119H786zM819 1119H841V1130H819zM952 1130H963V1141H952zM952 1141H985V1152H952zM863 1152H874V1163H863zM963 1152H996V1163H963zM974 1163H1007V1174H974zM1074 1163H1085V1174H1074zM963 1174H996V1185H963zM897 1185H908V1196H897zM952 1185H985V1196H952zM886 1196H897V1207H886zM952 1196H963V1207H952zM941 1207H952V1219H941z"/>
<path fill="#4f88be" d="M808 986H819V997H808zM996 1030H1007V1042H996zM797 1075H808V1086H797zM1140 1097H1151V1108H1140zM1040 1141H1051V1152H1040zM1018 1152H1029V1163H1018zM1063 1219H1074V1230H1063z"/>
<path fill="#c5deee" d="M919 986H930V997H919zM1051 1174H1063V1185H1051z"/>
<path fill="#5691c5" d="M808 997H819V1008H808zM819 1019H852V1030H819zM897 1019H919V1030H897zM852 1030H863V1042H852zM886 1030H897V1042H886zM841 1042H852V1053H841zM874 1042H886V1053H874zM1018 1042H1029V1053H1018zM1096 1042H1107V1053H1096zM830 1053H841V1064H830zM863 1053H886V1064H863zM819 1064H863V1075H819zM1107 1064H1118V1075H1107zM1063 1075H1085V1086H1063zM1063 1086H1074V1097H1063zM797 1097H808V1108H797zM1063 1097H1096V1108H1063zM808 1119H819V1130H808zM841 1119H852V1130H841zM941 1119H963V1130H941zM941 1130H952V1141H941zM963 1130H985V1141H963zM985 1141H996V1152H985zM952 1152H963V1163H952zM996 1152H1007V1163H996zM1074 1152H1085V1163H1074zM963 1163H974V1174H963zM952 1174H963V1185H952zM941 1196H952V1207H941z"/>
<path fill="#4c85bb" d="M952 997H963V1008H952zM819 1030H830V1042H819zM841 1030H852V1042H841zM1063 1030H1085V1042H1063zM819 1042H841V1053H819zM1029 1042H1063V1053H1029zM863 1064H874V1075H863zM1096 1075H1118V1086H1096zM797 1086H808V1097H797zM1118 1086H1129V1097H1118zM1096 1097H1107V1108H1096zM797 1108H819V1119H797zM775 1119H786V1130H775zM963 1119H974V1130H963zM1051 1130H1063V1141H1051zM1029 1141H1040V1152H1029zM952 1163H963V1174H952zM819 1174H830V1185H819zM1074 1185H1085V1196H1074z"/>
<path fill="#538ec2" d="M941 1008H952V1019H941zM919 1019H930V1030H919zM1085 1075H1096V1086H1085zM1096 1086H1107V1097H1096zM808 1097H819V1108H808zM797 1119H808V1130H797zM808 1130H819V1141H808zM985 1130H996V1141H985zM941 1141H952V1152H941zM1074 1141H1085V1152H1074zM886 1163H897V1174H886zM897 1174H908V1185H897zM941 1185H952V1196H941zM897 1196H908V1207H897zM886 1207H897V1219H886z"/>
<path fill="#487fb7" d="M908 1030H919V1042H908zM996 1042H1007V1053H996zM886 1053H897V1064H886zM1051 1053H1063V1064H1051zM1074 1053H1085V1064H1074zM874 1064H886V1075H874zM1051 1064H1063V1075H1051zM863 1075H874V1086H863zM1040 1075H1051V1086H1040zM863 1086H874V1097H863zM1040 1086H1051V1097H1040zM863 1097H874V1108H863zM1107 1097H1118V1108H1107zM852 1108H863V1119H852zM930 1108H941V1119H930zM963 1108H996V1119H963zM1051 1108H1063V1119H1051zM1085 1108H1096V1119H1085zM930 1119H941V1130H930zM1040 1119H1051V1130H1040zM1074 1119H1085V1130H1074zM1140 1119H1151V1130H1140zM1040 1130H1051V1141H1040zM1074 1130H1085V1141H1074zM1140 1130H1151V1141H1140zM764 1141H775V1152H764zM874 1141H886V1152H874zM1007 1141H1029V1152H1007zM1129 1141H1140V1152H1129zM941 1152H952V1163H941zM1129 1152H1140V1163H1129zM897 1163H908V1174H897zM1085 1163H1096V1174H1085zM941 1174H952V1185H941zM908 1185H919V1196H908z"/>
<path fill="#466998" d="M1085 1119H1096V1130H1085zM1085 1141H1096V1152H1085zM908 1163H919V1174H908z"/>
<path fill="#466693" d="M1096 1119H1107V1130H1096zM1118 1119H1129V1130H1118zM1085 1130H1096V1141H1085zM1118 1130H1129V1141H1118zM1118 1141H1129V1152H1118zM1118 1152H1129V1163H1118zM919 1163H941V1174H919zM1096 1163H1107V1174H1096z"/>
<path fill="#466490" d="M1107 1119H1118V1130H1107zM1096 1130H1118V1141H1096zM1096 1141H1118V1152H1096zM1096 1152H1118V1163H1096zM1107 1163H1118V1174H1107z"/>
<path fill="#466c9d" d="M1129 1119H1140V1130H1129zM919 1152H930V1163H919zM1085 1152H1096V1163H1085zM941 1163H952V1174H941z"/>
<path fill="#c9dfef" d="M1040 1174H1051V1185H1040z"/>
</g>
<g shape-rendering="crispEdges">
<path fill="#bcb9d9" d="M1418 765H1440V776H1418zM1418 831H1429V842H1418zM1429 842H1440V854H1429zM1462 842H1473V854H1462zM1529 842H1540V854H1529zM1385 854H1396V865H1385zM1473 854H1484V865H1473zM1385 865H1396V876H1385zM1407 865H1418V876H1407zM1540 865H1551V876H1540zM1650 887H1661V898H1650zM1639 898H1650V909H1639zM1661 898H1673V909H1661zM1440 920H1451V931H1440zM1451 931H1462V942H1451zM1429 964H1451V975H1429zM1352 975H1363V986H1352zM1684 975H1695V986H1684zM1440 986H1451V997H1440zM1628 986H1639V997H1628zM1695 986H1706V997H1695zM1540 997H1551V1008H1540zM1584 1008H1595V1019H1584zM1628 1008H1639V1019H1628zM1363 1019H1374V1030H1363zM1573 1019H1584V1030H1573zM1374 1042H1385V1053H1374zM1673 1042H1684V1053H1673zM1385 1141H1396V1152H1385zM1628 1141H1650V1152H1628zM1606 1174H1617V1185H1606z"/>
<path fill="#cccde5" d="M1407 776H1418V787H1407zM1429 776H1451V787H1429zM1396 787H1429V798H1396zM1396 798H1418V809H1396zM1385 809H1418V820H1385zM1396 820H1407V831H1396zM1418 820H1429V831H1418zM1429 831H1440V842H1429zM1473 842H1484V854H1473zM1529 854H1540V865H1529zM1661 865H1695V876H1661zM1661 876H1706V887H1661zM1673 887H1717V898H1673zM1684 898H1717V909H1684zM1396 953H1462V964H1396zM1363 964H1385V975H1363zM1684 986H1695V997H1684zM1573 997H1584V1008H1573zM1650 997H1661V1008H1650zM1341 1008H1352V1019H1341zM1473 1008H1484V1019H1473zM1562 1008H1573V1019H1562zM1285 1019H1308V1030H1285zM1352 1019H1363V1030H1352zM1650 1019H1661V1030H1650zM1285 1030H1319V1042H1285zM1673 1030H1684V1042H1673zM1296 1042H1330V1053H1296zM1308 1053H1374V1064H1308zM1308 1064H1341V1075H1308zM1296 1075H1330V1086H1296zM1308 1086H1319V1097H1308zM1308 1097H1319V1108H1308zM1308 1108H1330V1119H1308zM1330 1119H1341V1130H1330zM1684 1130H1695V1141H1684zM1374 1141H1385V1152H1374zM1639 1152H1650V1163H1639zM1639 1163H1650V1174H1639zM1451 1174H1462V1185H1451zM1540 1174H1551V1185H1540zM1628 1174H1650V1185H1628zM1617 1185H1650V1196H1617zM1628 1196H1650V1207H1628z"/>
<path fill="#cacae3" d="M1418 776H1429V787H1418zM1407 820H1418V831H1407zM1440 842H1462V854H1440zM1396 865H1407V876H1396zM1385 876H1396V887H1385zM1507 887H1518V898H1507zM1661 887H1673V898H1661zM1429 909H1440V920H1429zM1462 942H1473V953H1462zM1385 964H1429V975H1385zM1451 964H1462V975H1451zM1661 975H1684V986H1661zM1341 997H1352V1008H1341zM1584 997H1595V1008H1584zM1639 997H1650V1008H1639zM1462 1008H1473V1019H1462zM1551 1008H1562V1019H1551zM1573 1008H1584V1019H1573zM1639 1008H1650V1019H1639zM1363 1030H1374V1042H1363zM1407 1030H1418V1042H1407zM1661 1030H1673V1042H1661zM1363 1042H1374V1053H1363zM1374 1053H1385V1064H1374zM1341 1064H1352V1075H1341zM1418 1064H1429V1075H1418zM1330 1075H1341V1086H1330zM1319 1086H1330V1097H1319zM1319 1097H1330V1108H1319zM1684 1108H1695V1119H1684zM1617 1163H1639V1174H1617zM1617 1174H1628V1185H1617zM1617 1196H1628V1207H1617zM1529 1207H1540V1219H1529zM1617 1207H1628V1219H1617z"/>
<path fill="#d5d5e9" d="M1429 787H1440V798H1429zM1484 865H1496V876H1484zM1418 887H1429V898H1418z"/>
<path fill="#d8d8ea" d="M1440 787H1462V798H1440zM1374 854H1385V865H1374zM1529 865H1540V876H1529zM1407 876H1418V887H1407zM1440 931H1451V942H1440zM1385 942H1451V953H1385zM1451 986H1462V997H1451zM1518 986H1529V997H1518zM1484 1008H1496V1019H1484zM1385 1064H1396V1075H1385zM1684 1064H1695V1075H1684zM1684 1075H1695V1086H1684zM1352 1130H1363V1141H1352zM1529 1174H1540V1185H1529zM1540 1207H1551V1219H1540z"/>
<path fill="#cfd0e6" d="M1418 798H1429V809H1418zM1418 809H1429V820H1418zM1462 831H1473V842H1462zM1385 953H1396V964H1385zM1462 975H1473V986H1462zM1661 986H1673V997H1661zM1296 1008H1308V1019H1296zM1650 1008H1661V1019H1650zM1308 1019H1319V1030H1308zM1319 1030H1330V1042H1319zM1330 1042H1363V1053H1330zM1308 1119H1319V1130H1308zM1385 1152H1396V1163H1385zM1650 1152H1661V1163H1650z"/>
<path fill="#dddeed" d="M1429 798H1440V809H1429zM1451 798H1462V809H1451zM1429 820H1440V831H1429zM1440 831H1462V842H1440zM1473 831H1484V842H1473zM1484 854H1496V865H1484zM1363 865H1374V876H1363zM1363 876H1374V887H1363zM1396 876H1407V887H1396zM1507 876H1518V887H1507zM1418 898H1429V909H1418zM1374 953H1385V964H1374zM1462 964H1473V975H1462zM1296 997H1308V1008H1296zM1661 997H1673V1008H1661zM1695 1008H1706V1019H1695zM1319 1019H1330V1030H1319zM1341 1019H1352V1030H1341zM1661 1019H1673V1030H1661zM1330 1030H1352V1042H1330zM1407 1042H1418V1053H1407zM1418 1053H1429V1064H1418zM1396 1064H1407V1075H1396zM1330 1130H1352V1141H1330zM1374 1152H1385V1163H1374zM1396 1163H1407V1174H1396zM1540 1196H1551V1207H1540z"/>
<path fill="#e0e0ee" d="M1440 798H1451V809H1440zM1429 809H1473V820H1429zM1440 820H1496V831H1440zM1484 831H1507V842H1484zM1484 842H1518V854H1484zM1496 854H1529V865H1496zM1507 865H1529V876H1507zM1363 920H1429V931H1363zM1363 931H1440V942H1363zM1352 942H1385V953H1352zM1341 953H1374V964H1341zM1473 975H1484V986H1473zM1484 986H1507V997H1484zM1673 997H1684V1008H1673zM1661 1008H1695V1019H1661zM1330 1019H1341V1030H1330zM1673 1019H1706V1030H1673zM1695 1030H1706V1042H1695zM1695 1042H1706V1053H1695zM1396 1053H1418V1064H1396zM1695 1053H1706V1064H1695zM1695 1064H1706V1075H1695zM1695 1075H1706V1086H1695zM1319 1141H1363V1152H1319zM1330 1152H1374V1163H1330zM1341 1163H1396V1174H1341zM1352 1174H1385V1185H1352zM1363 1185H1385V1196H1363zM1529 1196H1540V1207H1529zM1617 1230H1628V1241H1617z"/>
<path fill="#d2d3e7" d="M1462 798H1473V809H1462zM1451 942H1462V953H1451zM1308 997H1319V1008H1308zM1684 1030H1695V1042H1684zM1684 1086H1695V1097H1684zM1319 1130H1330V1141H1319z"/>
<path fill="#fdfcfe" d="M1473 809H1496V820H1473zM1496 820H1507V831H1496zM1507 831H1518V842H1507zM1319 842H1341V854H1319zM1518 842H1529V854H1518zM1319 854H1363V865H1319zM1562 854H1573V865H1562zM1319 865H1363V876H1319zM1551 865H1584V876H1551zM1308 876H1363V887H1308zM1540 876H1595V887H1540zM1308 887H1374V898H1308zM1529 887H1606V898H1529zM1308 898H1363V909H1308zM1507 898H1617V909H1507zM1496 909H1628V920H1496zM1484 920H1617V931H1484zM1684 920H1706V931H1684zM1473 931H1606V942H1473zM1673 931H1717V942H1673zM1750 931H1783V942H1750zM1473 942H1617V953H1473zM1684 942H1728V953H1684zM1750 942H1783V953H1750zM1473 953H1628V964H1473zM1684 953H1789V964H1684zM1473 964H1639V975H1473zM1695 964H1789V975H1695zM1484 975H1639V986H1484zM1706 975H1728V986H1706zM1739 975H1789V986H1739zM1507 986H1518V997H1507zM1529 986H1617V997H1529zM1706 986H1717V997H1706zM1750 986H1789V997H1750zM1551 997H1573V1008H1551zM1595 997H1617V1008H1595zM1750 997H1772V1008H1750zM1783 997H1789V1008H1783zM1234 1097H1252V1108H1234zM1234 1108H1252V1119H1234zM1234 1119H1263V1130H1234zM1234 1130H1252V1141H1234zM1650 1163H1695V1174H1650zM1650 1174H1661V1185H1650zM1385 1196H1451V1207H1385zM1385 1207H1451V1219H1385zM1396 1219H1418V1230H1396z"/>
<path fill="#b9b6d7" d="M1407 831H1418V842H1407zM1540 831H1551V842H1540zM1396 842H1429V854H1396zM1540 842H1562V854H1540zM1396 854H1418V865H1396zM1540 854H1562V865H1540zM1650 898H1661V909H1650zM1628 909H1684V920H1628zM1617 920H1673V931H1617zM1606 931H1661V942H1606zM1617 942H1661V953H1617zM1628 953H1684V964H1628zM1639 964H1695V975H1639zM1385 975H1451V986H1385zM1639 975H1661V986H1639zM1695 975H1706V986H1695zM1352 986H1363V997H1352zM1617 986H1628V997H1617zM1507 997H1518V1008H1507zM1617 997H1628V1008H1617zM1352 1008H1363V1019H1352zM1440 1008H1451V1019H1440zM1529 1008H1551V1019H1529zM1595 1008H1628V1019H1595zM1440 1019H1462V1030H1440zM1540 1019H1551V1030H1540zM1584 1019H1606V1030H1584zM1628 1019H1639V1030H1628zM1374 1030H1396V1042H1374zM1429 1030H1440V1042H1429zM1650 1030H1661V1042H1650zM1407 1075H1418V1086H1407zM1330 1086H1341V1097H1330zM1374 1130H1385V1141H1374zM1529 1163H1540V1174H1529zM1606 1163H1617V1174H1606zM1518 1174H1529V1185H1518zM1551 1185H1562V1196H1551zM1473 1196H1484V1207H1473z"/>
<path fill="#f3f1f7" d="M1363 854H1374V865H1363zM1496 865H1507V876H1496zM1374 887H1418V898H1374zM1363 898H1418V909H1363zM1319 909H1363V920H1319zM1684 909H1706V920H1684zM1308 920H1363V931H1308zM1673 920H1684V931H1673zM1296 931H1363V942H1296zM1661 931H1673V942H1661zM1285 942H1352V953H1285zM1285 953H1341V964H1285zM1462 953H1473V964H1462zM1296 964H1352V975H1296zM1319 975H1352V986H1319zM1308 986H1341V997H1308zM1462 986H1484V997H1462zM1319 997H1341V1008H1319zM1484 997H1496V1008H1484zM1319 1008H1341V1019H1319zM1706 1008H1728V1019H1706zM1706 1019H1739V1030H1706zM1706 1030H1750V1042H1706zM1706 1042H1750V1053H1706zM1706 1053H1739V1064H1706zM1706 1064H1728V1075H1706zM1706 1075H1717V1086H1706zM1695 1086H1717V1097H1695zM1695 1097H1728V1108H1695zM1695 1108H1739V1119H1695zM1695 1119H1739V1130H1695zM1695 1130H1728V1141H1695zM1684 1141H1717V1152H1684zM1684 1152H1706V1163H1684zM1385 1185H1473V1196H1385zM1518 1185H1540V1196H1518zM1374 1196H1385V1207H1374zM1451 1196H1473V1207H1451zM1496 1196H1529V1207H1496zM1451 1207H1507V1219H1451zM1518 1207H1529V1219H1518zM1440 1219H1496V1230H1440zM1451 1230H1484V1241H1451zM1462 1241H1473V1252H1462z"/>
<path fill="#b6b3d6" d="M1418 854H1440V865H1418zM1374 975H1385V986H1374zM1429 986H1440V997H1429zM1374 1019H1385V1030H1374zM1407 1019H1440V1030H1407zM1462 1019H1473V1030H1462zM1529 1019H1540V1030H1529zM1606 1019H1628V1030H1606zM1529 1030H1551V1042H1529zM1529 1042H1540V1053H1529zM1341 1075H1352V1086H1341zM1330 1108H1341V1119H1330zM1617 1152H1628V1163H1617zM1551 1174H1562V1185H1551zM1606 1219H1617V1230H1606z"/>
<path fill="#b0add3" d="M1440 854H1473V865H1440zM1584 1030H1606V1042H1584zM1518 1042H1529V1053H1518zM1396 1141H1407V1152H1396zM1473 1185H1484V1196H1473zM1540 1219H1551V1230H1540z"/>
<path fill="#bebddb" d="M1374 865H1385V876H1374zM1374 876H1385V887H1374zM1518 887H1529V898H1518zM1451 975H1462V986H1451zM1650 986H1661V997H1650zM1396 1030H1407V1042H1396zM1418 1030H1429V1042H1418zM1385 1042H1396V1053H1385zM1374 1064H1385V1075H1374zM1363 1130H1374V1141H1363zM1628 1152H1639V1163H1628zM1673 1152H1684V1163H1673zM1551 1196H1562V1207H1551z"/>
<path fill="#a8a5cf" d="M1418 865H1429V876H1418zM1440 898H1451V909H1440zM1451 920H1462V931H1451zM1407 986H1418V997H1407zM1429 1008H1440V1019H1429zM1518 1008H1529V1019H1518zM1496 1019H1507V1030H1496zM1518 1030H1529V1042H1518zM1562 1030H1573V1042H1562zM1628 1030H1639V1042H1628zM1407 1152H1418V1163H1407z"/>
<path fill="#a5a3ce" d="M1429 865H1473V876H1429zM1429 876H1484V887H1429zM1440 887H1496V898H1440zM1451 898H1507V909H1451zM1451 909H1496V920H1451zM1462 920H1484V931H1462zM1363 986H1374V997H1363zM1396 986H1407V997H1396zM1363 997H1374V1008H1363zM1418 997H1429V1008H1418zM1374 1008H1385V1019H1374zM1407 1008H1429V1019H1407zM1507 1019H1529V1030H1507zM1451 1030H1462V1042H1451zM1606 1030H1628V1042H1606zM1440 1042H1451V1053H1440zM1551 1042H1562V1053H1551zM1518 1053H1551V1064H1518zM1529 1064H1551V1075H1529zM1363 1075H1385V1086H1363zM1429 1075H1451V1086H1429zM1341 1086H1352V1097H1341zM1473 1097H1507V1108H1473zM1484 1108H1518V1119H1484zM1374 1119H1396V1130H1374zM1507 1119H1518V1130H1507zM1595 1163H1606V1174H1595zM1484 1185H1496V1196H1484z"/>
<path fill="#aba8d0" d="M1473 865H1484V876H1473zM1496 887H1507V898H1496zM1440 909H1451V920H1440zM1462 931H1473V942H1462zM1363 975H1374V986H1363zM1352 997H1363V1008H1352zM1429 997H1440V1008H1429zM1507 1008H1518V1019H1507zM1484 1019H1496V1030H1484zM1551 1030H1562V1042H1551zM1639 1030H1650V1042H1639zM1628 1042H1639V1053H1628zM1661 1042H1673V1053H1661zM1673 1053H1684V1064H1673zM1429 1064H1440V1075H1429zM1330 1097H1341V1108H1330zM1352 1119H1363V1130H1352zM1661 1152H1673V1163H1661zM1429 1163H1440V1174H1429zM1551 1163H1562V1174H1551z"/>
<path fill="#adabd2" d="M1418 876H1429V887H1418zM1484 876H1496V887H1484zM1429 887H1440V898H1429zM1518 997H1529V1008H1518zM1650 1042H1661V1053H1650zM1385 1075H1396V1086H1385zM1606 1152H1617V1163H1606zM1595 1174H1606V1185H1595zM1562 1196H1573V1207H1562z"/>
<path fill="#c7c7e1" d="M1496 876H1507V887H1496zM1429 898H1440V909H1429zM1628 898H1639V909H1628zM1661 942H1673V953H1661zM1628 997H1639V1008H1628zM1451 1008H1462V1019H1451zM1496 1008H1507V1019H1496zM1551 1019H1573V1030H1551zM1639 1019H1650V1030H1639zM1429 1042H1440V1053H1429zM1352 1064H1374V1075H1352zM1396 1152H1407V1163H1396zM1407 1163H1418V1174H1407z"/>
<path fill="#dbdbec" d="M1518 876H1529V887H1518zM1429 920H1440V931H1429zM1352 964H1363V975H1352zM1341 986H1352V997H1341zM1673 986H1684V997H1673zM1496 997H1507V1008H1496zM1684 997H1695V1008H1684zM1706 997H1717V1008H1706zM1308 1008H1319V1019H1308zM1352 1030H1363V1042H1352zM1396 1042H1407V1053H1396zM1418 1042H1429V1053H1418zM1684 1042H1695V1053H1684zM1385 1053H1396V1064H1385zM1684 1053H1695V1064H1684zM1407 1064H1418V1075H1407zM1319 1119H1330V1130H1319zM1363 1141H1374V1152H1363zM1540 1185H1551V1196H1540zM1617 1219H1628V1230H1617z"/>
<path fill="#c1c0dd" d="M1529 876H1540V887H1529zM1650 876H1661V887H1650zM1639 887H1650V898H1639zM1673 898H1684V909H1673zM1639 986H1650V997H1639zM1606 1185H1617V1196H1606zM1551 1207H1562V1219H1551z"/>
<path fill="#ebeaf4" d="M1363 909H1429V920H1363zM1451 997H1484V1008H1451zM1385 1174H1440V1185H1385z"/>
<path fill="#f8f7fa" d="M1673 942H1684V953H1673z"/>
<path fill="#9b95c7" d="M1374 986H1385V997H1374zM1507 1042H1518V1053H1507zM1573 1042H1584V1053H1573zM1440 1053H1451V1064H1440zM1661 1053H1673V1064H1661zM1484 1075H1496V1086H1484zM1374 1086H1385V1097H1374zM1529 1086H1540V1097H1529zM1341 1108H1352V1119H1341zM1484 1130H1507V1141H1484zM1562 1207H1573V1219H1562zM1551 1219H1562V1230H1551z"/>
<path fill="#a2a0cc" d="M1385 986H1396V997H1385zM1407 997H1418V1008H1407zM1496 1030H1518V1042H1496zM1639 1042H1650V1053H1639zM1440 1064H1451V1075H1440zM1518 1064H1529V1075H1518zM1451 1075H1473V1086H1451zM1507 1075H1551V1086H1507zM1440 1086H1518V1097H1440zM1507 1097H1518V1108H1507zM1473 1108H1484V1119H1473zM1363 1119H1374V1130H1363zM1484 1119H1507V1130H1484zM1518 1119H1529V1130H1518zM1396 1130H1407V1141H1396zM1518 1130H1529V1141H1518zM1529 1152H1540V1163H1529zM1507 1174H1518V1185H1507zM1496 1185H1507V1196H1496zM1562 1185H1573V1196H1562z"/>
<path fill="#b3b0d4" d="M1418 986H1429V997H1418zM1363 1008H1374V1019H1363zM1385 1019H1407V1030H1385zM1473 1019H1484V1030H1473zM1440 1030H1451V1042H1440zM1573 1030H1584V1042H1573zM1540 1042H1551V1053H1540zM1418 1075H1429V1086H1418zM1385 1130H1396V1141H1385zM1418 1163H1429V1174H1418zM1518 1163H1529V1174H1518zM1540 1163H1551V1174H1540zM1507 1185H1518V1196H1507zM1606 1196H1617V1207H1606z"/>
<path fill="#9990c4" d="M1374 997H1385V1008H1374zM1385 1008H1407V1019H1385zM1462 1030H1496V1042H1462zM1496 1053H1507V1064H1496zM1540 1086H1551V1097H1540zM1518 1097H1529V1108H1518zM1540 1230H1551V1241H1540z"/>
<path fill="#978cc2" d="M1385 997H1407V1008H1385zM1451 1042H1462V1053H1451zM1484 1042H1496V1053H1484zM1562 1042H1573V1053H1562zM1507 1053H1518V1064H1507zM1451 1064H1484V1075H1451zM1496 1064H1518V1075H1496zM1673 1064H1684V1075H1673zM1352 1086H1374V1097H1352zM1407 1086H1429V1097H1407zM1451 1097H1462V1108H1451zM1529 1097H1540V1108H1529zM1529 1108H1540V1119H1529zM1529 1119H1540V1130H1529zM1473 1130H1484V1141H1473zM1518 1141H1540V1152H1518zM1562 1174H1573V1185H1562zM1584 1174H1595V1185H1584zM1595 1219H1606V1230H1595z"/>
<path fill="#c4c3df" d="M1440 997H1451V1008H1440zM1529 997H1540V1008H1529zM1695 997H1706V1008H1695zM1429 1053H1440V1064H1429zM1396 1075H1407V1086H1396zM1684 1097H1695V1108H1684zM1341 1119H1352V1130H1341zM1440 1174H1451V1185H1440zM1484 1196H1496V1207H1484z"/>
<path fill="#9588c0" d="M1462 1042H1484V1053H1462zM1451 1053H1484V1064H1451zM1484 1064H1496V1075H1484zM1551 1075H1562V1086H1551zM1352 1097H1396V1108H1352zM1440 1097H1451V1108H1440zM1540 1097H1551V1108H1540zM1374 1108H1396V1119H1374zM1462 1108H1473V1119H1462zM1595 1152H1606V1163H1595zM1573 1207H1584V1219H1573zM1595 1207H1606V1219H1595zM1562 1219H1595V1230H1562zM1551 1230H1595V1241H1551zM1551 1241H1562V1252H1551zM1573 1241H1584V1252H1573z"/>
<path fill="#9f9dcb" d="M1496 1042H1507V1053H1496zM1617 1042H1628V1053H1617zM1551 1053H1562V1064H1551zM1551 1064H1562V1075H1551zM1429 1086H1440V1097H1429zM1341 1097H1352V1108H1341zM1462 1097H1473V1108H1462zM1518 1108H1529V1119H1518zM1473 1119H1484V1130H1473zM1507 1130H1518V1141H1507zM1518 1152H1529V1163H1518zM1507 1163H1518V1174H1507zM1462 1174H1473V1185H1462zM1606 1207H1617V1219H1606z"/>
<path fill="#876cb2" d="M1584 1042H1595V1053H1584zM1606 1053H1617V1064H1606zM1562 1086H1573V1097H1562zM1673 1086H1684V1097H1673zM1562 1097H1573V1108H1562zM1407 1130H1418V1141H1407zM1429 1152H1440V1163H1429zM1484 1152H1496V1163H1484zM1484 1163H1496V1174H1484zM1484 1174H1496V1185H1484z"/>
<path fill="#8b74b6" d="M1595 1042H1606V1053H1595zM1562 1053H1573V1064H1562zM1650 1053H1661V1064H1650zM1551 1086H1562V1097H1551zM1407 1097H1429V1108H1407zM1451 1108H1462V1119H1451zM1462 1119H1473V1130H1462zM1540 1130H1551V1141H1540zM1673 1130H1684V1141H1673zM1484 1141H1507V1152H1484zM1418 1152H1429V1163H1418zM1496 1163H1507V1174H1496zM1573 1163H1584V1174H1573zM1496 1174H1507V1185H1496zM1573 1185H1584V1196H1573z"/>
<path fill="#8d78b8" d="M1606 1042H1617V1053H1606zM1673 1075H1684V1086H1673zM1363 1108H1374V1119H1363zM1396 1108H1407V1119H1396zM1507 1141H1518V1152H1507zM1507 1152H1518V1163H1507zM1451 1163H1462V1174H1451zM1562 1163H1573V1174H1562zM1573 1196H1584V1207H1573zM1595 1196H1606V1207H1595z"/>
<path fill="#9384be" d="M1484 1053H1496V1064H1484zM1396 1097H1407V1108H1396zM1429 1097H1440V1108H1429zM1540 1108H1551V1119H1540zM1540 1119H1551V1130H1540zM1650 1141H1673V1152H1650zM1573 1174H1584V1185H1573zM1584 1207H1595V1219H1584z"/>
<path fill="#7c59a9" d="M1573 1053H1584V1064H1573zM1628 1064H1639V1075H1628zM1617 1075H1639V1086H1617zM1573 1119H1584V1130H1573zM1451 1130H1462V1141H1451zM1562 1130H1573V1141H1562z"/>
<path fill="#7851a6" d="M1584 1053H1595V1064H1584zM1584 1064H1606V1075H1584zM1595 1075H1606V1086H1595zM1639 1075H1650V1086H1639zM1595 1086H1606V1097H1595zM1584 1097H1595V1108H1584zM1429 1130H1440V1141H1429zM1429 1141H1440V1152H1429zM1451 1141H1462V1152H1451zM1595 1141H1606V1152H1595z"/>
<path fill="#7a55a7" d="M1595 1053H1606V1064H1595zM1573 1064H1584V1075H1573zM1639 1064H1650V1075H1639zM1606 1075H1617V1086H1606zM1661 1130H1673V1141H1661zM1562 1152H1573V1163H1562zM1473 1163H1484V1174H1473z"/>
<path fill="#8970b4" d="M1617 1053H1639V1064H1617zM1562 1064H1573V1075H1562zM1562 1075H1573V1086H1562zM1551 1097H1562V1108H1551zM1407 1108H1418V1119H1407zM1440 1108H1451V1119H1440zM1551 1108H1562V1119H1551zM1407 1119H1418V1130H1407zM1473 1141H1484V1152H1473zM1540 1141H1551V1152H1540zM1606 1141H1617V1152H1606zM1496 1152H1507V1163H1496zM1473 1174H1484V1185H1473z"/>
<path fill="#7e5cab" d="M1639 1053H1650V1064H1639zM1617 1064H1628V1075H1617zM1573 1075H1595V1086H1573zM1584 1086H1595V1097H1584zM1573 1097H1584V1108H1573zM1573 1108H1584V1119H1573zM1429 1119H1451V1130H1429zM1562 1119H1573V1130H1562zM1673 1119H1684V1130H1673zM1418 1130H1429V1141H1418zM1551 1141H1562V1152H1551zM1462 1152H1473V1163H1462zM1462 1163H1473V1174H1462z"/>
<path fill="#8568b0" d="M1606 1064H1617V1075H1606zM1673 1108H1684V1119H1673zM1551 1152H1562V1163H1551zM1584 1185H1595V1196H1584z"/>
<path fill="#7246a0" d="M1650 1064H1661V1075H1650zM1440 1130H1451V1141H1440zM1584 1130H1606V1141H1584zM1440 1141H1451V1152H1440z"/>
<path fill="#764ea4" d="M1661 1064H1673V1075H1661zM1606 1086H1650V1097H1606zM1595 1097H1606V1108H1595zM1584 1108H1595V1119H1584zM1584 1119H1595V1130H1584zM1661 1119H1673V1130H1661zM1617 1130H1628V1141H1617zM1562 1141H1573V1152H1562zM1584 1141H1595V1152H1584z"/>
<path fill="#9d99c9" d="M1352 1075H1363V1086H1352zM1473 1075H1484V1086H1473zM1496 1075H1507V1086H1496zM1385 1086H1407V1097H1385zM1518 1086H1529V1097H1518zM1396 1119H1407V1130H1396zM1684 1119H1695V1130H1684zM1529 1130H1540V1141H1529zM1407 1141H1418V1152H1407zM1584 1163H1595V1174H1584zM1529 1219H1540V1230H1529z"/>
<path fill="#70439f" d="M1650 1075H1673V1086H1650zM1661 1086H1673V1097H1661zM1606 1097H1617V1108H1606zM1661 1097H1673V1108H1661zM1595 1108H1606V1119H1595zM1661 1108H1673V1119H1661zM1595 1119H1606V1130H1595zM1628 1119H1661V1130H1628z"/>
<path fill="#8060ac" d="M1573 1086H1584V1097H1573zM1673 1097H1684V1108H1673zM1418 1108H1429V1119H1418zM1562 1108H1573V1119H1562zM1418 1119H1429V1130H1418zM1451 1119H1462V1130H1451zM1551 1130H1562V1141H1551zM1462 1141H1473V1152H1462zM1473 1152H1484V1163H1473zM1573 1152H1584V1163H1573z"/>
<path fill="#6f409e" d="M1650 1086H1661V1097H1650zM1617 1097H1661V1108H1617zM1606 1108H1661V1119H1606zM1606 1119H1628V1130H1606z"/>
<path fill="#8f7cba" d="M1352 1108H1363V1119H1352zM1617 1141H1628V1152H1617zM1673 1141H1684V1152H1673zM1540 1152H1551V1163H1540z"/>
<path fill="#8264ae" d="M1429 1108H1440V1119H1429zM1551 1119H1562V1130H1551zM1462 1130H1473V1141H1462zM1628 1130H1650V1141H1628zM1418 1141H1429V1152H1418zM1440 1152H1462V1163H1440zM1584 1196H1595V1207H1584z"/>
<path fill="#744aa2" d="M1573 1130H1584V1141H1573zM1606 1130H1617V1141H1606zM1650 1130H1661V1141H1650zM1573 1141H1584V1152H1573z"/>
<path fill="#9180bc" d="M1584 1152H1595V1163H1584zM1440 1163H1451V1174H1440zM1595 1185H1606V1196H1595z"/>
</g>
<clipPath id="c00"><rect x="124.70" y="100.00" width="554.80" height="553.80"/></clipPath>
<ellipse cx="205.60" cy="575.50" rx="80.3" ry="82.3" fill="rgba(128,128,128,0.2)" clip-path="url(#c00)"/>
<path d="M389.30 364.70L414.50 389.90M389.30 389.90L414.50 364.70" stroke="#8a8a8a" stroke-width="6.3" fill="none"/>
<g stroke="rgba(128,128,128,0.4)" stroke-width="4.8" fill="none"><path d="M589.50 122.40H668.40"/><path d="M591.90 114.30V130.50"/><path d="M666.00 114.30V130.50"/></g>
<text x="628.95" y="152.60" font-size="23.30" text-anchor="middle" fill="#999" stroke="#999" stroke-width="0.6">2 kpc</text>
<rect x="136.10" y="109.00" width="116.56" height="45.20" fill="rgba(128,128,128,0.2)"/>
<text x="147.30" y="138.50" font-size="25.70" text-anchor="start" fill="#000">original</text>
<rect x="124.70" y="100.00" width="554.80" height="553.80" fill="none" stroke="#000" stroke-width="2.3"/>
<path d="M306.00 100.00V90.80M637.70 100.00V90.80M124.70 110.00H115.50M124.70 331.34H115.50M124.70 552.68H115.50" stroke="#000" stroke-width="2" fill="none"/>
<text x="108.10" y="118.20" font-size="25.70" text-anchor="end" fill="#000">13.0"</text>
<text x="108.10" y="339.54" font-size="25.70" text-anchor="end" fill="#000">12.0"</text>
<text x="108.10" y="560.88" font-size="25.70" text-anchor="end" fill="#000">11.0"</text>
<clipPath id="c10"><rect x="679.50" y="100.00" width="554.70" height="553.80"/></clipPath>
<ellipse cx="760.40" cy="575.50" rx="80.3" ry="82.3" fill="rgba(128,128,128,0.2)" clip-path="url(#c10)"/>
<path d="M944.10 364.70L969.30 389.90M944.10 389.90L969.30 364.70" stroke="#8a8a8a" stroke-width="6.3" fill="none"/>
<g stroke="rgba(128,128,128,0.4)" stroke-width="4.8" fill="none"><path d="M1144.20 122.40H1223.10"/><path d="M1146.60 114.30V130.50"/><path d="M1220.70 114.30V130.50"/></g>
<text x="1183.65" y="152.60" font-size="23.30" text-anchor="middle" fill="#999" stroke="#999" stroke-width="0.6">2 kpc</text>
<rect x="690.90" y="109.00" width="116.56" height="45.20" fill="rgba(128,128,128,0.2)"/>
<text x="702.10" y="138.50" font-size="25.70" text-anchor="start" fill="#000">original</text>
<rect x="679.50" y="100.00" width="554.70" height="553.80" fill="none" stroke="#000" stroke-width="2.3"/>
<path d="M860.80 100.00V90.80M1192.50 100.00V90.80M679.50 110.00H670.30M679.50 220.67H670.30M679.50 331.34H670.30M679.50 442.01H670.30M679.50 552.68H670.30" stroke="#000" stroke-width="2" fill="none"/>
<clipPath id="c20"><rect x="1234.20" y="100.00" width="554.80" height="553.80"/></clipPath>
<ellipse cx="1315.10" cy="575.50" rx="80.3" ry="82.3" fill="rgba(128,128,128,0.2)" clip-path="url(#c20)"/>
<path d="M1498.80 364.70L1524.00 389.90M1498.80 389.90L1524.00 364.70" stroke="#8a8a8a" stroke-width="6.3" fill="none"/>
<g stroke="rgba(128,128,128,0.4)" stroke-width="4.8" fill="none"><path d="M1699.00 122.40H1777.90"/><path d="M1701.40 114.30V130.50"/><path d="M1775.50 114.30V130.50"/></g>
<text x="1738.45" y="152.60" font-size="23.30" text-anchor="middle" fill="#999" stroke="#999" stroke-width="0.6">2 kpc</text>
<rect x="1245.60" y="109.00" width="116.56" height="45.20" fill="rgba(128,128,128,0.2)"/>
<text x="1256.80" y="138.50" font-size="25.70" text-anchor="start" fill="#000">original</text>
<rect x="1234.20" y="100.00" width="554.80" height="553.80" fill="none" stroke="#000" stroke-width="2.3"/>
<path d="M1415.50 100.00V90.80M1747.20 100.00V90.80M1789.00 110.00H1798.20M1234.20 110.00H1225.00M1789.00 220.67H1798.20M1234.20 220.67H1225.00M1789.00 331.34H1798.20M1234.20 331.34H1225.00M1789.00 442.01H1798.20M1234.20 442.01H1225.00M1789.00 552.68H1798.20M1234.20 552.68H1225.00" stroke="#000" stroke-width="2" fill="none"/>
<text transform="translate(20.30 508.21) rotate(-90)" x="0" y="-0.00" font-size="25.60" text-anchor="start">Declination - 16</text>
<text transform="translate(20.30 295.45) rotate(-90)" x="0" y="-9.86" font-size="18.20" text-anchor="middle">∘</text>
<text transform="translate(20.30 269.60) rotate(-90)" x="0" y="-0.00" font-size="26.00" text-anchor="middle">39</text>
<text transform="translate(20.30 249.00) rotate(-90)" x="0" y="4.79" font-size="34.00" text-anchor="middle">′</text>
<clipPath id="c01"><rect x="124.70" y="728.00" width="554.80" height="553.70"/></clipPath>
<ellipse cx="205.60" cy="1203.40" rx="80.3" ry="82.3" fill="rgba(128,128,128,0.2)" clip-path="url(#c01)"/>
<path d="M389.30 992.70L414.50 1017.90M389.30 1017.90L414.50 992.70" stroke="#8a8a8a" stroke-width="6.3" fill="none"/>
<g stroke="rgba(128,128,128,0.4)" stroke-width="4.8" fill="none"><path d="M589.50 750.40H668.40"/><path d="M591.90 742.30V758.50"/><path d="M666.00 742.30V758.50"/></g>
<text x="628.95" y="780.60" font-size="23.30" text-anchor="middle" fill="#999" stroke="#999" stroke-width="0.6">2 kpc</text>
<rect x="136.10" y="736.30" width="199.35" height="45.20" fill="rgba(128,128,128,0.2)"/>
<text x="147.30" y="765.80" font-size="25.70" text-anchor="start" fill="#000">core-removed</text>
<rect x="124.70" y="728.00" width="554.80" height="553.70" fill="none" stroke="#000" stroke-width="2.3"/>
<path d="M306.00 728.00V718.80M306.00 1281.70V1290.90M637.70 728.00V718.80M637.70 1281.70V1290.90M124.70 738.00H115.50M124.70 959.34H115.50M124.70 1180.68H115.50" stroke="#000" stroke-width="2" fill="none"/>
<text x="108.10" y="746.20" font-size="25.70" text-anchor="end" fill="#000">13.0"</text>
<text x="108.10" y="967.54" font-size="25.70" text-anchor="end" fill="#000">12.0"</text>
<text x="108.10" y="1188.88" font-size="25.70" text-anchor="end" fill="#000">11.0"</text>
<g>
<text x="226.83" y="1317.90" font-size="25.70" fill="#000">11</text>
<text x="259.54" y="1307.36" font-size="17.99" fill="#000">h</text>
<text x="270.94" y="1317.90" font-size="25.70" fill="#000">26</text>
<text x="303.64" y="1307.36" font-size="17.99" fill="#000">m</text>
<text x="321.17" y="1317.90" font-size="25.70" fill="#000">57.8</text>
<text x="378.39" y="1307.36" font-size="17.99" fill="#000">s</text>
</g>
<g>
<text x="604.60" y="1317.90" font-size="25.70" fill="#000">57.7</text>
<text x="661.83" y="1307.36" font-size="17.99" fill="#000">s</text>
</g>
<text x="403.10" y="1357.30" font-size="25.70" text-anchor="middle" fill="#000">Right Ascension</text>
<clipPath id="c11"><rect x="679.50" y="728.00" width="554.70" height="553.70"/></clipPath>
<ellipse cx="760.40" cy="1203.40" rx="80.3" ry="82.3" fill="rgba(128,128,128,0.2)" clip-path="url(#c11)"/>
<path d="M944.10 992.70L969.30 1017.90M944.10 1017.90L969.30 992.70" stroke="#8a8a8a" stroke-width="6.3" fill="none"/>
<g stroke="rgba(128,128,128,0.4)" stroke-width="4.8" fill="none"><path d="M1144.20 750.40H1223.10"/><path d="M1146.60 742.30V758.50"/><path d="M1220.70 742.30V758.50"/></g>
<text x="1183.65" y="780.60" font-size="23.30" text-anchor="middle" fill="#999" stroke="#999" stroke-width="0.6">2 kpc</text>
<rect x="690.90" y="736.30" width="199.35" height="45.20" fill="rgba(128,128,128,0.2)"/>
<text x="702.10" y="765.80" font-size="25.70" text-anchor="start" fill="#000">core-removed</text>
<rect x="679.50" y="728.00" width="554.70" height="553.70" fill="none" stroke="#000" stroke-width="2.3"/>
<path d="M860.80 728.00V718.80M860.80 1281.70V1290.90M1192.50 728.00V718.80M1192.50 1281.70V1290.90M679.50 738.00H670.30M679.50 848.67H670.30M679.50 959.34H670.30M679.50 1070.01H670.30M679.50 1180.68H670.30" stroke="#000" stroke-width="2" fill="none"/>
<g>
<text x="781.63" y="1317.90" font-size="25.70" fill="#000">11</text>
<text x="814.34" y="1307.36" font-size="17.99" fill="#000">h</text>
<text x="825.74" y="1317.90" font-size="25.70" fill="#000">26</text>
<text x="858.44" y="1307.36" font-size="17.99" fill="#000">m</text>
<text x="875.97" y="1317.90" font-size="25.70" fill="#000">57.8</text>
<text x="933.19" y="1307.36" font-size="17.99" fill="#000">s</text>
</g>
<g>
<text x="1159.40" y="1317.90" font-size="25.70" fill="#000">57.7</text>
<text x="1216.63" y="1307.36" font-size="17.99" fill="#000">s</text>
</g>
<text x="957.85" y="1357.30" font-size="25.70" text-anchor="middle" fill="#000">Right Ascension</text>
<clipPath id="c21"><rect x="1234.20" y="728.00" width="554.80" height="553.70"/></clipPath>
<ellipse cx="1315.10" cy="1203.40" rx="80.3" ry="82.3" fill="rgba(128,128,128,0.2)" clip-path="url(#c21)"/>
<path d="M1498.80 992.70L1524.00 1017.90M1498.80 1017.90L1524.00 992.70" stroke="#8a8a8a" stroke-width="6.3" fill="none"/>
<g stroke="rgba(128,128,128,0.4)" stroke-width="4.8" fill="none"><path d="M1699.00 750.40H1777.90"/><path d="M1701.40 742.30V758.50"/><path d="M1775.50 742.30V758.50"/></g>
<text x="1738.45" y="780.60" font-size="23.30" text-anchor="middle" fill="#999" stroke="#999" stroke-width="0.6">2 kpc</text>
<rect x="1245.60" y="736.30" width="199.35" height="45.20" fill="rgba(128,128,128,0.2)"/>
<text x="1256.80" y="765.80" font-size="25.70" text-anchor="start" fill="#000">core-removed</text>
<rect x="1234.20" y="728.00" width="554.80" height="553.70" fill="none" stroke="#000" stroke-width="2.3"/>
<path d="M1415.50 728.00V718.80M1415.50 1281.70V1290.90M1747.20 728.00V718.80M1747.20 1281.70V1290.90M1789.00 738.00H1798.20M1234.20 738.00H1225.00M1789.00 848.67H1798.20M1234.20 848.67H1225.00M1789.00 959.34H1798.20M1234.20 959.34H1225.00M1789.00 1070.01H1798.20M1234.20 1070.01H1225.00M1789.00 1180.68H1798.20M1234.20 1180.68H1225.00" stroke="#000" stroke-width="2" fill="none"/>
<g>
<text x="1336.33" y="1317.90" font-size="25.70" fill="#000">11</text>
<text x="1369.04" y="1307.36" font-size="17.99" fill="#000">h</text>
<text x="1380.44" y="1317.90" font-size="25.70" fill="#000">26</text>
<text x="1413.14" y="1307.36" font-size="17.99" fill="#000">m</text>
<text x="1430.67" y="1317.90" font-size="25.70" fill="#000">57.8</text>
<text x="1487.89" y="1307.36" font-size="17.99" fill="#000">s</text>
</g>
<g>
<text x="1714.10" y="1317.90" font-size="25.70" fill="#000">57.7</text>
<text x="1771.33" y="1307.36" font-size="17.99" fill="#000">s</text>
</g>
<text x="1512.60" y="1357.30" font-size="25.70" text-anchor="middle" fill="#000">Right Ascension</text>
<text transform="translate(20.30 1136.21) rotate(-90)" x="0" y="-0.00" font-size="25.60" text-anchor="start">Declination - 16</text>
<text transform="translate(20.30 923.45) rotate(-90)" x="0" y="-9.86" font-size="18.20" text-anchor="middle">∘</text>
<text transform="translate(20.30 897.60) rotate(-90)" x="0" y="-0.00" font-size="26.00" text-anchor="middle">39</text>
<text transform="translate(20.30 877.00) rotate(-90)" x="0" y="4.79" font-size="34.00" text-anchor="middle">′</text>
<linearGradient id="g00" x1="0" x2="1" y1="0" y2="0"><stop offset="0.0000" stop-color="#f7fcf0"/><stop offset="0.0417" stop-color="#f0f9e9"/><stop offset="0.0833" stop-color="#e8f6e2"/><stop offset="0.1250" stop-color="#e0f3db"/><stop offset="0.1667" stop-color="#daf0d4"/><stop offset="0.2083" stop-color="#d3eecc"/><stop offset="0.2500" stop-color="#ccebc5"/><stop offset="0.2917" stop-color="#c0e6c0"/><stop offset="0.3333" stop-color="#b4e2ba"/><stop offset="0.3750" stop-color="#a7ddb5"/><stop offset="0.4167" stop-color="#99d7ba"/><stop offset="0.4583" stop-color="#8ad2bf"/><stop offset="0.5000" stop-color="#7accc4"/><stop offset="0.5417" stop-color="#6cc4c9"/><stop offset="0.5833" stop-color="#5dbbce"/><stop offset="0.6250" stop-color="#4db2d3"/><stop offset="0.6667" stop-color="#42a6cc"/><stop offset="0.7083" stop-color="#3699c5"/><stop offset="0.7500" stop-color="#2a8bbe"/><stop offset="0.7917" stop-color="#1f80b8"/><stop offset="0.8333" stop-color="#1373b2"/><stop offset="0.8750" stop-color="#0867ab"/><stop offset="0.9167" stop-color="#085a9d"/><stop offset="0.9583" stop-color="#084d8e"/><stop offset="1.0000" stop-color="#084081"/></linearGradient>
<rect x="134.20" y="72.20" width="535.60" height="18.50" fill="url(#g00)" stroke="#000" stroke-width="2.2"/>
<path d="M210.00 71.10V63.10" stroke="#000" stroke-width="2"/>
<text x="212.00" y="58.60" font-size="25.70" text-anchor="middle" fill="#000">5</text>
<path d="M305.80 71.10V63.10" stroke="#000" stroke-width="2"/>
<text x="307.80" y="58.60" font-size="25.70" text-anchor="middle" fill="#000">10</text>
<path d="M401.70 71.10V63.10" stroke="#000" stroke-width="2"/>
<text x="403.70" y="58.60" font-size="25.70" text-anchor="middle" fill="#000">15</text>
<path d="M497.50 71.10V63.10" stroke="#000" stroke-width="2"/>
<text x="499.50" y="58.60" font-size="25.70" text-anchor="middle" fill="#000">20</text>
<path d="M593.40 71.10V63.10" stroke="#000" stroke-width="2"/>
<text x="595.40" y="58.60" font-size="25.70" text-anchor="middle" fill="#000">25</text>
<linearGradient id="g10" x1="0" x2="1" y1="0" y2="0"><stop offset="0.0000" stop-color="#08306b"/><stop offset="0.0417" stop-color="#083a7a"/><stop offset="0.0833" stop-color="#08468b"/><stop offset="0.1250" stop-color="#08509b"/><stop offset="0.1667" stop-color="#105ba4"/><stop offset="0.2083" stop-color="#1966ad"/><stop offset="0.2500" stop-color="#2070b4"/><stop offset="0.2917" stop-color="#2c7cba"/><stop offset="0.3333" stop-color="#3787c0"/><stop offset="0.3750" stop-color="#4191c6"/><stop offset="0.4167" stop-color="#4f9bcb"/><stop offset="0.4583" stop-color="#5da5d1"/><stop offset="0.5000" stop-color="#6aaed6"/><stop offset="0.5417" stop-color="#7cb7da"/><stop offset="0.5833" stop-color="#8dc1dd"/><stop offset="0.6250" stop-color="#9dcae1"/><stop offset="0.6667" stop-color="#abd0e6"/><stop offset="0.7083" stop-color="#b9d6ea"/><stop offset="0.7500" stop-color="#c6dbef"/><stop offset="0.7917" stop-color="#cee0f2"/><stop offset="0.8333" stop-color="#d6e6f4"/><stop offset="0.8750" stop-color="#deebf7"/><stop offset="0.9167" stop-color="#e7f0fa"/><stop offset="0.9583" stop-color="#eff6fc"/><stop offset="1.0000" stop-color="#f7fbff"/></linearGradient>
<rect x="688.20" y="72.20" width="536.40" height="18.50" fill="url(#g10)" stroke="#000" stroke-width="2.2"/>
<path d="M761.90 71.10V63.10" stroke="#000" stroke-width="2"/>
<text x="762.10" y="58.60" font-size="25.70" text-anchor="middle" fill="#000">−1200</text>
<path d="M859.40 71.10V63.10" stroke="#000" stroke-width="2"/>
<text x="859.60" y="58.60" font-size="25.70" text-anchor="middle" fill="#000">−1100</text>
<path d="M957.00 71.10V63.10" stroke="#000" stroke-width="2"/>
<text x="957.20" y="58.60" font-size="25.70" text-anchor="middle" fill="#000">−1000</text>
<path d="M1054.50 71.10V63.10" stroke="#000" stroke-width="2"/>
<text x="1054.70" y="58.60" font-size="25.70" text-anchor="middle" fill="#000">−900</text>
<path d="M1152.10 71.10V63.10" stroke="#000" stroke-width="2"/>
<text x="1152.30" y="58.60" font-size="25.70" text-anchor="middle" fill="#000">−800</text>
<linearGradient id="g20" x1="0" x2="1" y1="0" y2="0"><stop offset="0.0000" stop-color="#fcfbfd"/><stop offset="0.0417" stop-color="#f8f7fa"/><stop offset="0.0833" stop-color="#f3f2f8"/><stop offset="0.1250" stop-color="#efedf5"/><stop offset="0.1667" stop-color="#e8e7f2"/><stop offset="0.2083" stop-color="#e1e0ee"/><stop offset="0.2500" stop-color="#dadaeb"/><stop offset="0.2917" stop-color="#d0d1e6"/><stop offset="0.3333" stop-color="#c6c7e1"/><stop offset="0.3750" stop-color="#bcbddc"/><stop offset="0.4167" stop-color="#b2b2d5"/><stop offset="0.4583" stop-color="#a8a6cf"/><stop offset="0.5000" stop-color="#9e9ac8"/><stop offset="0.5417" stop-color="#9490c3"/><stop offset="0.5833" stop-color="#8a86bf"/><stop offset="0.6250" stop-color="#807cba"/><stop offset="0.6667" stop-color="#796eb2"/><stop offset="0.7083" stop-color="#715faa"/><stop offset="0.7500" stop-color="#6950a3"/><stop offset="0.7917" stop-color="#63439c"/><stop offset="0.8333" stop-color="#5b3495"/><stop offset="0.8750" stop-color="#53268f"/><stop offset="0.9167" stop-color="#4d1a89"/><stop offset="0.9583" stop-color="#460c83"/><stop offset="1.0000" stop-color="#3f007d"/></linearGradient>
<rect x="1243.80" y="72.20" width="536.20" height="18.50" fill="url(#g20)" stroke="#000" stroke-width="2.2"/>
<path d="M1286.10 71.10V63.10" stroke="#000" stroke-width="2"/>
<text x="1285.70" y="58.60" font-size="25.70" text-anchor="middle" fill="#000">1600</text>
<path d="M1398.90 71.10V63.10" stroke="#000" stroke-width="2"/>
<text x="1398.50" y="58.60" font-size="25.70" text-anchor="middle" fill="#000">1800</text>
<path d="M1511.80 71.10V63.10" stroke="#000" stroke-width="2"/>
<text x="1511.40" y="58.60" font-size="25.70" text-anchor="middle" fill="#000">2000</text>
<path d="M1624.60 71.10V63.10" stroke="#000" stroke-width="2"/>
<text x="1624.20" y="58.60" font-size="25.70" text-anchor="middle" fill="#000">2200</text>
<path d="M1737.50 71.10V63.10" stroke="#000" stroke-width="2"/>
<text x="1737.10" y="58.60" font-size="25.70" text-anchor="middle" fill="#000">2400</text>
<linearGradient id="g01" x1="0" x2="1" y1="0" y2="0"><stop offset="0.0000" stop-color="#f7fcf0"/><stop offset="0.0417" stop-color="#f0f9e9"/><stop offset="0.0833" stop-color="#e8f6e2"/><stop offset="0.1250" stop-color="#e0f3db"/><stop offset="0.1667" stop-color="#daf0d4"/><stop offset="0.2083" stop-color="#d3eecc"/><stop offset="0.2500" stop-color="#ccebc5"/><stop offset="0.2917" stop-color="#c0e6c0"/><stop offset="0.3333" stop-color="#b4e2ba"/><stop offset="0.3750" stop-color="#a7ddb5"/><stop offset="0.4167" stop-color="#99d7ba"/><stop offset="0.4583" stop-color="#8ad2bf"/><stop offset="0.5000" stop-color="#7accc4"/><stop offset="0.5417" stop-color="#6cc4c9"/><stop offset="0.5833" stop-color="#5dbbce"/><stop offset="0.6250" stop-color="#4db2d3"/><stop offset="0.6667" stop-color="#42a6cc"/><stop offset="0.7083" stop-color="#3699c5"/><stop offset="0.7500" stop-color="#2a8bbe"/><stop offset="0.7917" stop-color="#1f80b8"/><stop offset="0.8333" stop-color="#1373b2"/><stop offset="0.8750" stop-color="#0867ab"/><stop offset="0.9167" stop-color="#085a9d"/><stop offset="0.9583" stop-color="#084d8e"/><stop offset="1.0000" stop-color="#084081"/></linearGradient>
<rect x="134.20" y="699.10" width="535.60" height="18.60" fill="url(#g01)" stroke="#000" stroke-width="2.2"/>
<path d="M201.00 698.00V690.00" stroke="#000" stroke-width="2"/>
<text x="203.00" y="685.50" font-size="25.70" text-anchor="middle" fill="#000">2</text>
<path d="M334.90 698.00V690.00" stroke="#000" stroke-width="2"/>
<text x="336.90" y="685.50" font-size="25.70" text-anchor="middle" fill="#000">4</text>
<path d="M468.80 698.00V690.00" stroke="#000" stroke-width="2"/>
<text x="470.80" y="685.50" font-size="25.70" text-anchor="middle" fill="#000">6</text>
<path d="M602.70 698.00V690.00" stroke="#000" stroke-width="2"/>
<text x="604.70" y="685.50" font-size="25.70" text-anchor="middle" fill="#000">8</text>
<linearGradient id="g11" x1="0" x2="1" y1="0" y2="0"><stop offset="0.0000" stop-color="#08306b"/><stop offset="0.0417" stop-color="#083a7a"/><stop offset="0.0833" stop-color="#08468b"/><stop offset="0.1250" stop-color="#08509b"/><stop offset="0.1667" stop-color="#105ba4"/><stop offset="0.2083" stop-color="#1966ad"/><stop offset="0.2500" stop-color="#2070b4"/><stop offset="0.2917" stop-color="#2c7cba"/><stop offset="0.3333" stop-color="#3787c0"/><stop offset="0.3750" stop-color="#4191c6"/><stop offset="0.4167" stop-color="#4f9bcb"/><stop offset="0.4583" stop-color="#5da5d1"/><stop offset="0.5000" stop-color="#6aaed6"/><stop offset="0.5417" stop-color="#7cb7da"/><stop offset="0.5833" stop-color="#8dc1dd"/><stop offset="0.6250" stop-color="#9dcae1"/><stop offset="0.6667" stop-color="#abd0e6"/><stop offset="0.7083" stop-color="#b9d6ea"/><stop offset="0.7500" stop-color="#c6dbef"/><stop offset="0.7917" stop-color="#cee0f2"/><stop offset="0.8333" stop-color="#d6e6f4"/><stop offset="0.8750" stop-color="#deebf7"/><stop offset="0.9167" stop-color="#e7f0fa"/><stop offset="0.9583" stop-color="#eff6fc"/><stop offset="1.0000" stop-color="#f7fbff"/></linearGradient>
<rect x="688.20" y="699.10" width="536.40" height="18.60" fill="url(#g11)" stroke="#000" stroke-width="2.2"/>
<path d="M761.90 698.00V690.00" stroke="#000" stroke-width="2"/>
<text x="762.10" y="685.50" font-size="25.70" text-anchor="middle" fill="#000">−1200</text>
<path d="M859.40 698.00V690.00" stroke="#000" stroke-width="2"/>
<text x="903.07" y="685.50" font-size="25.70" text-anchor="end" fill="#000">1100</text>
<path d="M957.00 698.00V690.00" stroke="#000" stroke-width="2"/>
<text x="1000.67" y="685.50" font-size="25.70" text-anchor="end" fill="#000">1000</text>
<path d="M1054.50 698.00V690.00" stroke="#000" stroke-width="2"/>
<text x="1054.70" y="685.50" font-size="25.70" text-anchor="middle" fill="#000">−900</text>
<path d="M1152.10 698.00V690.00" stroke="#000" stroke-width="2"/>
<text x="1152.30" y="685.50" font-size="25.70" text-anchor="middle" fill="#000">−800</text>
<linearGradient id="g21" x1="0" x2="1" y1="0" y2="0"><stop offset="0.0000" stop-color="#fcfbfd"/><stop offset="0.0417" stop-color="#f8f7fa"/><stop offset="0.0833" stop-color="#f3f2f8"/><stop offset="0.1250" stop-color="#efedf5"/><stop offset="0.1667" stop-color="#e8e7f2"/><stop offset="0.2083" stop-color="#e1e0ee"/><stop offset="0.2500" stop-color="#dadaeb"/><stop offset="0.2917" stop-color="#d0d1e6"/><stop offset="0.3333" stop-color="#c6c7e1"/><stop offset="0.3750" stop-color="#bcbddc"/><stop offset="0.4167" stop-color="#b2b2d5"/><stop offset="0.4583" stop-color="#a8a6cf"/><stop offset="0.5000" stop-color="#9e9ac8"/><stop offset="0.5417" stop-color="#9490c3"/><stop offset="0.5833" stop-color="#8a86bf"/><stop offset="0.6250" stop-color="#807cba"/><stop offset="0.6667" stop-color="#796eb2"/><stop offset="0.7083" stop-color="#715faa"/><stop offset="0.7500" stop-color="#6950a3"/><stop offset="0.7917" stop-color="#63439c"/><stop offset="0.8333" stop-color="#5b3495"/><stop offset="0.8750" stop-color="#53268f"/><stop offset="0.9167" stop-color="#4d1a89"/><stop offset="0.9583" stop-color="#460c83"/><stop offset="1.0000" stop-color="#3f007d"/></linearGradient>
<rect x="1243.80" y="699.10" width="536.20" height="18.60" fill="url(#g21)" stroke="#000" stroke-width="2.2"/>
<path d="M1286.10 698.00V690.00" stroke="#000" stroke-width="2"/>
<text x="1285.70" y="685.50" font-size="25.70" text-anchor="middle" fill="#000">1600</text>
<path d="M1398.90 698.00V690.00" stroke="#000" stroke-width="2"/>
<text x="1398.50" y="685.50" font-size="25.70" text-anchor="middle" fill="#000">1800</text>
<path d="M1511.80 698.00V690.00" stroke="#000" stroke-width="2"/>
<text x="1511.40" y="685.50" font-size="25.70" text-anchor="middle" fill="#000">2000</text>
<path d="M1624.60 698.00V690.00" stroke="#000" stroke-width="2"/>
<text x="1624.20" y="685.50" font-size="25.70" text-anchor="middle" fill="#000">2200</text>
<path d="M1737.50 698.00V690.00" stroke="#000" stroke-width="2"/>
<text x="1737.10" y="685.50" font-size="25.70" text-anchor="middle" fill="#000">2400</text>
<g>
<text x="152.14" y="23.10" font-size="25.70" fill="#000">[OIII] intensity</text>
<text x="339.89" y="23.10" font-size="25.70" fill="#000">(10</text>
<text x="382.62" y="13.77" font-size="17.99" fill="#000">−23</text>
<text x="424.70" y="23.10" font-size="25.70" fill="#000">erg</text>
<text x="471.05" y="23.10" font-size="25.70" fill="#000">s</text>
<text x="484.44" y="13.77" font-size="17.99" fill="#000">−1</text>
<text x="515.07" y="23.10" font-size="25.70" fill="#000">cm</text>
<text x="554.24" y="13.77" font-size="17.99" fill="#000">−2</text>
<text x="584.87" y="23.10" font-size="25.70" fill="#000">pc</text>
<text x="615.32" y="13.77" font-size="17.99" fill="#000">−2</text>
<text x="641.84" y="23.10" font-size="25.70" fill="#000">)</text>
</g>
<g>
<text x="747.17" y="25.70" font-size="25.70" fill="#000">[OIII] velocity shift (</text>
<text x="1000.66" y="25.70" font-size="25.70" fill="#000" font-style="italic">v</text>
<text x="1015.87" y="29.81" font-size="17.99" fill="#000">50</text>
<text x="1038.76" y="25.70" font-size="25.70" fill="#000">)</text>
<text x="1061.64" y="25.70" font-size="25.70" fill="#000">(km</text>
<text x="1115.70" y="25.70" font-size="25.70" fill="#000">s</text>
<text x="1129.09" y="16.37" font-size="17.99" fill="#000">−1</text>
<text x="1155.61" y="25.70" font-size="25.70" fill="#000">)</text>
</g>
<g>
<text x="1290.47" y="25.70" font-size="25.70" fill="#000">[OIII] velocity width (Δ</text>
<text x="1576.89" y="25.70" font-size="25.70" fill="#000" font-style="italic">v</text>
<text x="1592.10" y="29.81" font-size="17.99" fill="#000">80</text>
<text x="1614.99" y="25.70" font-size="25.70" fill="#000">)</text>
<text x="1629.13" y="25.70" font-size="25.70" fill="#000">(km</text>
<text x="1683.19" y="25.70" font-size="25.70" fill="#000">s</text>
<text x="1696.58" y="16.37" font-size="17.99" fill="#000">−1</text>
<text x="1723.10" y="25.70" font-size="25.70" fill="#000">)</text>
</g>
</svg></body></html>
